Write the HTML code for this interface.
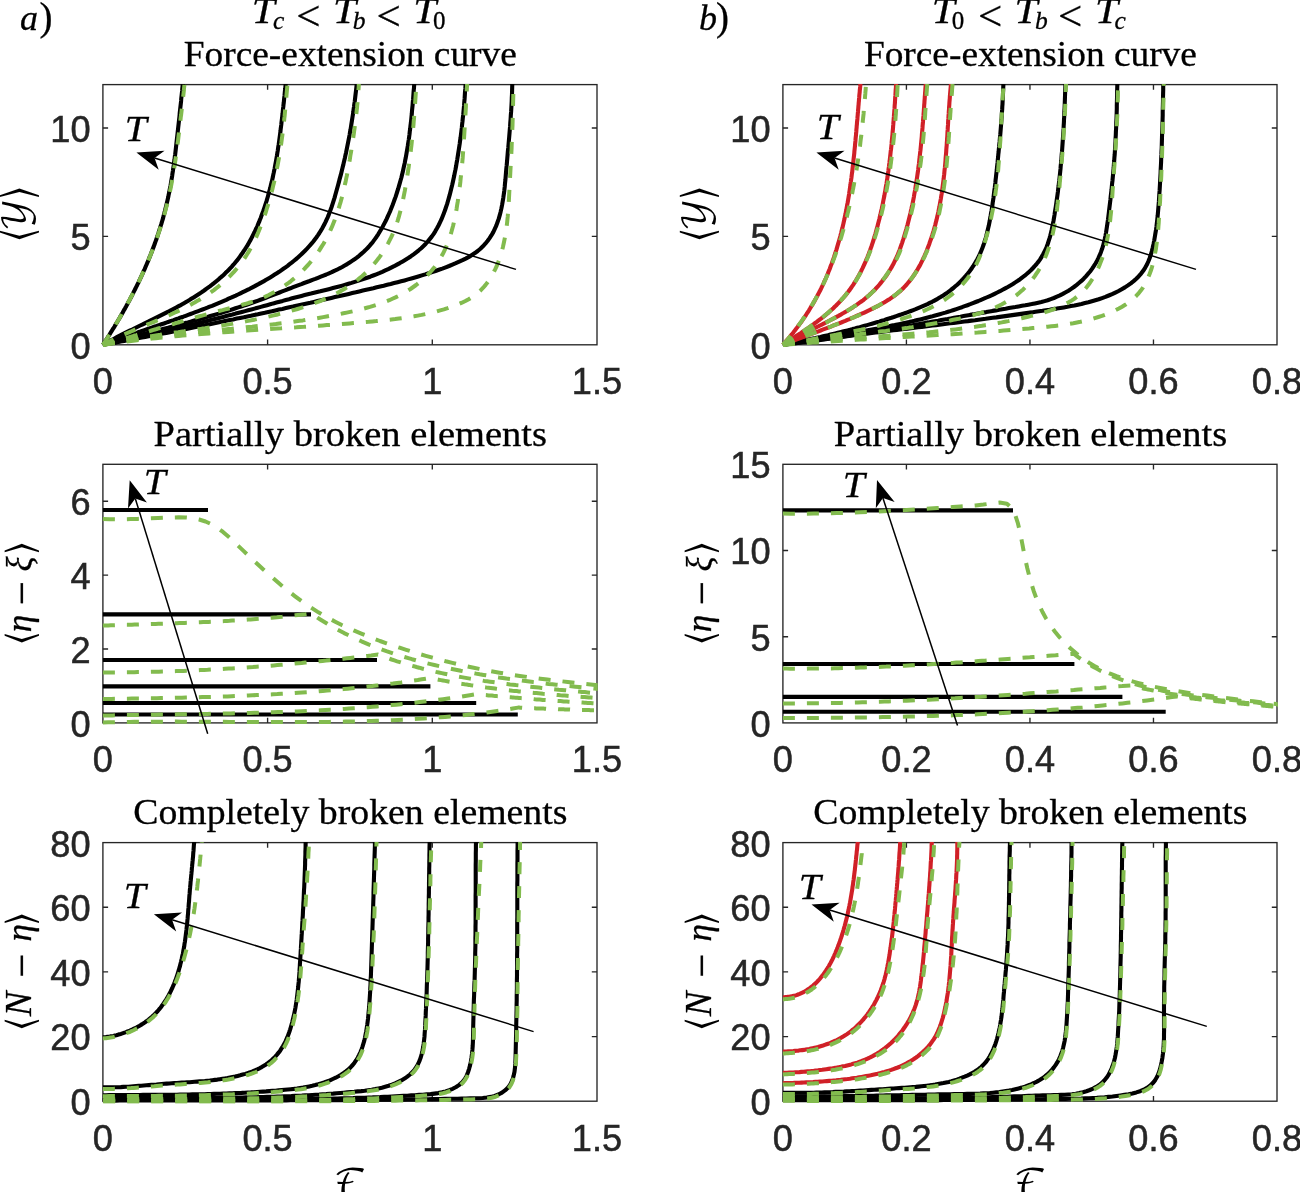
<!DOCTYPE html>
<html lang="en"><head><meta charset="utf-8"><title>Force-extension curves</title>
<style>
html,body{margin:0;padding:0;background:#fff}
body{width:1300px;height:1192px;overflow:hidden}
svg{display:block}
.tk{font-family:"Liberation Sans",Arial,Helvetica,sans-serif;font-size:36.2px;fill:#262626;stroke:#262626;stroke-width:0.5px}
.ser{font-family:"Liberation Serif","Times New Roman",serif;fill:#000;stroke:#000;stroke-width:0.3px}
.it{font-family:"Liberation Serif","Times New Roman",serif;font-style:italic;fill:#000;stroke:#000;stroke-width:0.3px}
.cal{font-family:"DejaVu Math TeX Gyre","DejaVu Serif",serif;fill:#000}
</style></head><body>
<svg width="1300" height="1192" viewBox="0 0 1300 1192">
<defs>
<clipPath id="cp00"><rect x="100.40" y="83.90" width="497.30" height="263.40"/></clipPath>
<clipPath id="cp01"><rect x="780.40" y="83.90" width="497.30" height="263.40"/></clipPath>
<clipPath id="cp10"><rect x="100.40" y="463.60" width="497.30" height="261.80"/></clipPath>
<clipPath id="cp11"><rect x="780.40" y="463.60" width="497.30" height="261.80"/></clipPath>
<clipPath id="cp20"><rect x="100.40" y="841.90" width="497.30" height="261.80"/></clipPath>
<clipPath id="cp21"><rect x="780.40" y="841.90" width="497.30" height="261.80"/></clipPath>
</defs>
<rect width="1300" height="1192" fill="#fff"/>
<rect x="102.9" y="84.6" width="494.10" height="260.20" fill="none" stroke="#262626" stroke-width="1.35"/>
<text class="tk" x="102.90" y="394.10" text-anchor="middle">0</text>
<text class="tk" x="267.60" y="394.10" text-anchor="middle">0.5</text>
<text class="tk" x="432.30" y="394.10" text-anchor="middle">1</text>
<text class="tk" x="597.00" y="394.10" text-anchor="middle">1.5</text>
<text class="tk" x="90.60" y="358.70" text-anchor="end">0</text>
<text class="tk" x="90.60" y="250.28" text-anchor="end">5</text>
<text class="tk" x="90.60" y="141.87" text-anchor="end">10</text>
<path d="M267.60 344.8v-5.2M267.60 84.6v5.2 M432.30 344.8v-5.2M432.30 84.6v5.2 M102.9 236.38h5.2M597.0 236.38h-5.2 M102.9 127.97h5.2M597.0 127.97h-5.2" stroke="#262626" stroke-width="1.35" fill="none"/>
<rect x="782.9" y="84.6" width="494.10" height="260.20" fill="none" stroke="#262626" stroke-width="1.35"/>
<text class="tk" x="782.90" y="394.10" text-anchor="middle">0</text>
<text class="tk" x="906.42" y="394.10" text-anchor="middle">0.2</text>
<text class="tk" x="1029.95" y="394.10" text-anchor="middle">0.4</text>
<text class="tk" x="1153.47" y="394.10" text-anchor="middle">0.6</text>
<text class="tk" x="1277.00" y="394.10" text-anchor="middle">0.8</text>
<text class="tk" x="770.60" y="358.70" text-anchor="end">0</text>
<text class="tk" x="770.60" y="250.28" text-anchor="end">5</text>
<text class="tk" x="770.60" y="141.87" text-anchor="end">10</text>
<path d="M906.42 344.8v-5.2M906.42 84.6v5.2 M1029.95 344.8v-5.2M1029.95 84.6v5.2 M1153.47 344.8v-5.2M1153.47 84.6v5.2 M782.9 236.38h5.2M1277.0 236.38h-5.2 M782.9 127.97h5.2M1277.0 127.97h-5.2" stroke="#262626" stroke-width="1.35" fill="none"/>
<rect x="102.9" y="464.3" width="494.10" height="258.60" fill="none" stroke="#262626" stroke-width="1.35"/>
<text class="tk" x="102.90" y="772.20" text-anchor="middle">0</text>
<text class="tk" x="267.60" y="772.20" text-anchor="middle">0.5</text>
<text class="tk" x="432.30" y="772.20" text-anchor="middle">1</text>
<text class="tk" x="597.00" y="772.20" text-anchor="middle">1.5</text>
<text class="tk" x="90.60" y="736.80" text-anchor="end">0</text>
<text class="tk" x="90.60" y="662.91" text-anchor="end">2</text>
<text class="tk" x="90.60" y="589.03" text-anchor="end">4</text>
<text class="tk" x="90.60" y="515.14" text-anchor="end">6</text>
<path d="M267.60 722.9v-5.2M267.60 464.3v5.2 M432.30 722.9v-5.2M432.30 464.3v5.2 M102.9 649.01h5.2M597.0 649.01h-5.2 M102.9 575.13h5.2M597.0 575.13h-5.2 M102.9 501.24h5.2M597.0 501.24h-5.2" stroke="#262626" stroke-width="1.35" fill="none"/>
<rect x="782.9" y="464.3" width="494.10" height="258.60" fill="none" stroke="#262626" stroke-width="1.35"/>
<text class="tk" x="782.90" y="772.20" text-anchor="middle">0</text>
<text class="tk" x="906.42" y="772.20" text-anchor="middle">0.2</text>
<text class="tk" x="1029.95" y="772.20" text-anchor="middle">0.4</text>
<text class="tk" x="1153.47" y="772.20" text-anchor="middle">0.6</text>
<text class="tk" x="1277.00" y="772.20" text-anchor="middle">0.8</text>
<text class="tk" x="770.60" y="736.80" text-anchor="end">0</text>
<text class="tk" x="770.60" y="650.60" text-anchor="end">5</text>
<text class="tk" x="770.60" y="564.40" text-anchor="end">10</text>
<text class="tk" x="770.60" y="478.20" text-anchor="end">15</text>
<path d="M906.42 722.9v-5.2M906.42 464.3v5.2 M1029.95 722.9v-5.2M1029.95 464.3v5.2 M1153.47 722.9v-5.2M1153.47 464.3v5.2 M782.9 636.70h5.2M1277.0 636.70h-5.2 M782.9 550.50h5.2M1277.0 550.50h-5.2" stroke="#262626" stroke-width="1.35" fill="none"/>
<rect x="102.9" y="842.6" width="494.10" height="258.60" fill="none" stroke="#262626" stroke-width="1.35"/>
<text class="tk" x="102.90" y="1150.50" text-anchor="middle">0</text>
<text class="tk" x="267.60" y="1150.50" text-anchor="middle">0.5</text>
<text class="tk" x="432.30" y="1150.50" text-anchor="middle">1</text>
<text class="tk" x="597.00" y="1150.50" text-anchor="middle">1.5</text>
<text class="tk" x="90.60" y="1115.10" text-anchor="end">0</text>
<text class="tk" x="90.60" y="1050.45" text-anchor="end">20</text>
<text class="tk" x="90.60" y="985.80" text-anchor="end">40</text>
<text class="tk" x="90.60" y="921.15" text-anchor="end">60</text>
<text class="tk" x="90.60" y="856.50" text-anchor="end">80</text>
<path d="M267.60 1101.2v-5.2M267.60 842.6v5.2 M432.30 1101.2v-5.2M432.30 842.6v5.2 M102.9 1036.55h5.2M597.0 1036.55h-5.2 M102.9 971.90h5.2M597.0 971.90h-5.2 M102.9 907.25h5.2M597.0 907.25h-5.2" stroke="#262626" stroke-width="1.35" fill="none"/>
<rect x="782.9" y="842.6" width="494.10" height="258.60" fill="none" stroke="#262626" stroke-width="1.35"/>
<text class="tk" x="782.90" y="1150.50" text-anchor="middle">0</text>
<text class="tk" x="906.42" y="1150.50" text-anchor="middle">0.2</text>
<text class="tk" x="1029.95" y="1150.50" text-anchor="middle">0.4</text>
<text class="tk" x="1153.47" y="1150.50" text-anchor="middle">0.6</text>
<text class="tk" x="1277.00" y="1150.50" text-anchor="middle">0.8</text>
<text class="tk" x="770.60" y="1115.10" text-anchor="end">0</text>
<text class="tk" x="770.60" y="1050.45" text-anchor="end">20</text>
<text class="tk" x="770.60" y="985.80" text-anchor="end">40</text>
<text class="tk" x="770.60" y="921.15" text-anchor="end">60</text>
<text class="tk" x="770.60" y="856.50" text-anchor="end">80</text>
<path d="M906.42 1101.2v-5.2M906.42 842.6v5.2 M1029.95 1101.2v-5.2M1029.95 842.6v5.2 M1153.47 1101.2v-5.2M1153.47 842.6v5.2 M782.9 1036.55h5.2M1277.0 1036.55h-5.2 M782.9 971.90h5.2M1277.0 971.90h-5.2 M782.9 907.25h5.2M1277.0 907.25h-5.2" stroke="#262626" stroke-width="1.35" fill="none"/>
<g clip-path="url(#cp00)" fill="none" stroke-linejoin="round">
<path d="M102.9 344.8L106.4 344.2L110.0 343.5L113.5 342.9L117.0 342.2L120.5 341.6L124.1 340.9L127.6 340.3L131.1 339.6L134.6 338.9L138.2 338.3L141.7 337.6L145.2 336.9L148.7 336.3L152.2 335.6L155.8 334.9L159.3 334.2L162.8 333.5L166.3 332.9L169.9 332.2L173.4 331.5L176.9 330.8L180.4 330.1L184.0 329.4L187.5 328.7L191.0 328.0L194.5 327.3L198.0 326.6L201.6 325.9L205.1 325.2L208.6 324.4L212.1 323.7L215.6 323.0L219.1 322.3L222.7 321.6L226.2 320.8L229.7 320.1L233.2 319.4L236.7 318.6L240.2 317.9L243.8 317.2L247.3 316.4L250.8 315.7L254.3 314.9L257.8 314.2L261.3 313.4L264.8 312.7L268.3 311.9L271.8 311.2L275.3 310.4L278.9 309.6L282.4 308.9L285.9 308.1L289.4 307.3L292.9 306.6L296.4 305.8L299.9 305.0L303.4 304.2L306.9 303.4L310.4 302.7L313.9 301.9L317.4 301.1L320.9 300.3L324.4 299.5L327.9 298.7L331.4 297.9L334.9 297.1L338.4 296.3L341.9 295.5L345.4 294.7L348.8 293.9L352.3 293.1L355.8 292.3L359.3 291.4L362.8 290.6L366.3 289.8L369.8 289.0L373.3 288.2L376.7 287.3L380.2 286.5L383.7 285.7L387.2 284.8L390.7 284.0L394.1 283.1L397.6 282.2L401.1 281.3L404.5 280.4L408.0 279.4L411.4 278.5L414.9 277.5L418.3 276.5L421.8 275.4L425.2 274.4L428.6 273.3L432.1 272.1L435.5 271.0L438.9 269.8L442.3 268.6L445.7 267.3L449.1 266.0L452.4 264.6L455.8 263.2L459.2 261.7L462.5 260.2L465.7 258.6L468.9 256.9L471.9 255.0L474.9 253.1L477.7 251.0L480.4 248.7L482.9 246.3L485.3 243.7L487.5 241.0L489.6 238.1L491.5 235.2L493.3 232.1L494.8 228.9L496.3 225.6L497.5 222.3L498.7 218.9L499.7 215.4L500.6 211.9L501.4 208.4L502.1 204.9L502.7 201.3L503.3 197.8L503.8 194.2L504.3 190.6L504.7 187.0L505.0 183.4L505.4 179.8L505.7 176.1L506.0 172.5L506.3 168.9L506.7 165.3L507.0 161.8L507.3 158.2L507.6 154.6L507.9 151.0L508.3 147.5L508.6 143.9L508.9 140.4L509.2 136.8L509.5 133.3L509.8 129.7L510.1 126.2L510.3 122.6L510.6 119.1L510.8 115.5L511.1 111.9L511.3 108.4L511.5 104.8L511.7 101.2L511.8 97.7L512.0 94.1L512.1 90.5L512.2 86.9L512.3 83.3L512.4 79.6L512.4 76.0" stroke="#000" stroke-width="4.1"/>
<path d="M102.9 344.8L106.1 344.1L109.3 343.5L112.4 342.8L115.6 342.2L118.8 341.5L122.0 340.8L125.2 340.1L128.3 339.4L131.5 338.7L134.7 338.1L137.9 337.4L141.0 336.7L144.2 335.9L147.4 335.2L150.5 334.5L153.7 333.8L156.9 333.1L160.0 332.3L163.2 331.6L166.3 330.9L169.5 330.1L172.7 329.4L175.8 328.6L179.0 327.9L182.1 327.1L185.3 326.4L188.4 325.6L191.6 324.8L194.7 324.1L197.9 323.3L201.1 322.5L204.2 321.7L207.3 320.9L210.5 320.1L213.6 319.3L216.8 318.5L219.9 317.7L223.1 316.9L226.2 316.1L229.4 315.3L232.5 314.5L235.6 313.6L238.8 312.8L241.9 312.0L245.1 311.1L248.2 310.3L251.3 309.5L254.5 308.6L257.6 307.8L260.8 306.9L263.9 306.0L267.0 305.2L270.2 304.3L273.3 303.4L276.4 302.6L279.6 301.7L282.7 300.9L285.8 300.0L289.0 299.2L292.1 298.3L295.2 297.5L298.4 296.7L301.5 295.9L304.6 295.1L307.8 294.3L310.9 293.6L314.1 292.8L317.2 292.0L320.3 291.3L323.5 290.5L326.6 289.7L329.7 288.9L332.9 288.1L336.0 287.3L339.1 286.5L342.3 285.6L345.4 284.7L348.5 283.8L351.6 282.9L354.7 281.9L357.9 280.9L360.9 279.9L364.0 278.9L367.1 277.8L370.2 276.7L373.2 275.5L376.3 274.3L379.3 273.1L382.3 271.8L385.3 270.4L388.2 269.1L391.2 267.6L394.1 266.2L397.0 264.6L399.8 263.1L402.7 261.4L405.5 259.7L408.3 258.0L411.0 256.2L413.6 254.3L416.2 252.3L418.7 250.3L421.2 248.2L423.5 246.0L425.8 243.7L427.9 241.4L429.9 238.9L431.9 236.4L433.7 233.8L435.4 231.1L437.0 228.3L438.5 225.5L439.9 222.6L441.3 219.7L442.5 216.7L443.7 213.7L444.9 210.6L445.9 207.5L447.0 204.4L447.9 201.2L448.8 198.1L449.7 194.9L450.5 191.7L451.3 188.5L452.1 185.3L452.8 182.2L453.5 179.0L454.2 175.8L454.8 172.6L455.5 169.4L456.1 166.2L456.6 163.0L457.2 159.8L457.7 156.6L458.2 153.4L458.7 150.2L459.2 147.0L459.7 143.8L460.1 140.6L460.6 137.4L461.0 134.2L461.4 131.0L461.8 127.8L462.1 124.5L462.5 121.3L462.8 118.1L463.2 114.9L463.5 111.7L463.8 108.4L464.1 105.2L464.3 102.0L464.6 98.7L464.8 95.5L465.0 92.2L465.3 89.0L465.5 85.8L465.7 82.5L465.8 79.3L466.0 76.0" stroke="#000" stroke-width="4.1"/>
<path d="M102.9 344.8L105.7 344.0L108.5 343.3L111.3 342.5L114.2 341.7L117.0 341.0L119.8 340.2L122.6 339.5L125.5 338.7L128.3 338.0L131.1 337.2L133.9 336.5L136.8 335.8L139.6 335.0L142.5 334.3L145.3 333.6L148.1 332.8L151.0 332.1L153.8 331.4L156.6 330.6L159.5 329.9L162.3 329.1L165.1 328.4L168.0 327.7L170.8 326.9L173.7 326.2L176.5 325.4L179.3 324.7L182.2 323.9L185.0 323.1L187.8 322.4L190.6 321.6L193.5 320.8L196.3 320.1L199.1 319.3L201.9 318.5L204.8 317.7L207.6 316.9L210.4 316.0L213.2 315.2L216.0 314.4L218.8 313.6L221.6 312.7L224.4 311.9L227.2 311.0L230.0 310.1L232.8 309.2L235.5 308.3L238.3 307.4L241.1 306.5L243.9 305.6L246.6 304.7L249.4 303.7L252.1 302.8L254.9 301.8L257.6 300.8L260.4 299.8L263.1 298.8L265.8 297.8L268.6 296.7L271.3 295.7L274.0 294.6L276.7 293.6L279.5 292.5L282.2 291.4L284.9 290.4L287.6 289.3L290.4 288.3L293.1 287.2L295.9 286.1L298.6 285.1L301.4 284.1L304.1 283.0L306.9 282.0L309.7 281.0L312.5 279.9L315.3 278.9L318.0 277.8L320.8 276.7L323.5 275.6L326.3 274.5L329.0 273.3L331.7 272.2L334.3 270.9L337.0 269.7L339.6 268.3L342.2 267.0L344.7 265.5L347.2 264.1L349.7 262.5L352.1 260.9L354.5 259.3L356.8 257.6L359.1 255.8L361.3 253.9L363.5 252.0L365.5 250.1L367.6 248.0L369.5 245.9L371.4 243.7L373.2 241.4L374.9 239.1L376.6 236.7L378.2 234.3L379.7 231.8L381.2 229.3L382.7 226.7L384.0 224.1L385.4 221.5L386.7 218.8L387.9 216.1L389.1 213.5L390.3 210.8L391.4 208.0L392.5 205.3L393.5 202.6L394.5 199.8L395.5 197.1L396.4 194.3L397.3 191.5L398.2 188.7L399.0 185.9L399.8 183.1L400.6 180.3L401.4 177.5L402.1 174.6L402.8 171.8L403.4 168.9L404.0 166.1L404.7 163.2L405.2 160.3L405.8 157.5L406.3 154.6L406.8 151.7L407.3 148.8L407.8 145.9L408.2 143.0L408.7 140.1L409.1 137.2L409.5 134.3L409.8 131.3L410.2 128.4L410.5 125.5L410.9 122.6L411.2 119.7L411.5 116.7L411.8 113.8L412.0 110.9L412.3 108.0L412.6 105.1L412.8 102.1L413.1 99.2L413.3 96.3L413.5 93.4L413.7 90.5L414.0 87.6L414.2 84.7L414.4 81.8L414.6 78.9L414.8 76.0" stroke="#000" stroke-width="4.1"/>
<path d="M102.9 344.8L105.3 343.9L107.8 343.0L110.2 342.1L112.7 341.2L115.1 340.3L117.5 339.4L120.0 338.6L122.4 337.7L124.9 336.9L127.3 336.0L129.7 335.1L132.2 334.3L134.6 333.5L137.1 332.6L139.5 331.8L141.9 330.9L144.4 330.1L146.8 329.3L149.3 328.4L151.7 327.6L154.1 326.8L156.6 326.0L159.0 325.1L161.4 324.3L163.9 323.5L166.3 322.6L168.7 321.8L171.2 320.9L173.6 320.1L176.0 319.2L178.4 318.4L180.8 317.5L183.3 316.7L185.7 315.8L188.1 314.9L190.5 314.0L192.9 313.1L195.3 312.2L197.7 311.3L200.1 310.4L202.5 309.5L204.9 308.6L207.3 307.7L209.7 306.7L212.1 305.8L214.4 304.8L216.8 303.8L219.2 302.8L221.6 301.8L223.9 300.8L226.3 299.8L228.6 298.7L231.0 297.7L233.4 296.6L235.7 295.6L238.0 294.5L240.4 293.3L242.7 292.2L245.0 291.1L247.4 289.9L249.7 288.8L252.0 287.6L254.3 286.4L256.6 285.1L258.9 283.9L261.2 282.6L263.5 281.4L265.7 280.0L268.0 278.7L270.2 277.4L272.5 276.0L274.7 274.6L276.9 273.2L279.1 271.8L281.2 270.3L283.4 268.8L285.5 267.3L287.6 265.8L289.6 264.2L291.7 262.6L293.7 261.0L295.7 259.4L297.6 257.7L299.5 256.0L301.4 254.3L303.2 252.5L305.0 250.7L306.8 248.9L308.5 247.0L310.2 245.1L311.9 243.2L313.5 241.2L315.0 239.2L316.5 237.2L318.0 235.1L319.4 233.0L320.7 230.9L322.0 228.7L323.2 226.5L324.4 224.2L325.6 221.9L326.6 219.6L327.7 217.3L328.7 214.9L329.6 212.4L330.5 210.0L331.4 207.5L332.2 205.1L333.0 202.6L333.8 200.1L334.6 197.6L335.3 195.0L336.0 192.5L336.7 190.0L337.4 187.5L338.1 185.0L338.8 182.4L339.4 179.9L340.1 177.4L340.8 174.9L341.4 172.4L342.0 169.9L342.6 167.4L343.3 164.9L343.8 162.4L344.4 159.9L345.0 157.4L345.5 154.9L346.1 152.4L346.6 149.9L347.1 147.4L347.6 144.8L348.1 142.3L348.6 139.8L349.1 137.3L349.6 134.8L350.0 132.2L350.5 129.7L350.9 127.2L351.3 124.6L351.7 122.1L352.1 119.6L352.5 117.0L352.9 114.5L353.3 111.9L353.6 109.4L354.0 106.8L354.3 104.3L354.7 101.7L355.0 99.2L355.3 96.6L355.6 94.0L355.9 91.5L356.2 88.9L356.5 86.3L356.8 83.7L357.1 81.2L357.3 78.6L357.6 76.0" stroke="#000" stroke-width="4.1"/>
<path d="M102.9 344.8L104.8 343.7L106.7 342.6L108.6 341.6L110.5 340.5L112.5 339.5L114.4 338.5L116.3 337.4L118.3 336.4L120.3 335.4L122.2 334.4L124.2 333.4L126.2 332.4L128.2 331.4L130.2 330.4L132.2 329.5L134.2 328.5L136.2 327.5L138.2 326.5L140.2 325.5L142.2 324.6L144.2 323.6L146.2 322.6L148.2 321.7L150.2 320.7L152.3 319.7L154.3 318.7L156.3 317.7L158.3 316.7L160.3 315.7L162.3 314.7L164.3 313.7L166.3 312.7L168.3 311.7L170.3 310.6L172.3 309.6L174.2 308.6L176.2 307.5L178.2 306.4L180.2 305.4L182.1 304.3L184.0 303.2L186.0 302.0L187.9 300.9L189.8 299.8L191.7 298.6L193.6 297.4L195.5 296.2L197.4 295.0L199.3 293.8L201.1 292.6L203.0 291.3L204.8 290.0L206.6 288.7L208.4 287.4L210.2 286.1L212.0 284.7L213.7 283.3L215.5 281.9L217.2 280.5L218.9 279.1L220.5 277.6L222.2 276.2L223.8 274.7L225.4 273.1L227.0 271.6L228.6 270.0L230.1 268.4L231.6 266.8L233.0 265.2L234.5 263.5L235.9 261.8L237.3 260.1L238.6 258.4L239.9 256.6L241.2 254.8L242.5 253.0L243.7 251.2L244.9 249.4L246.1 247.5L247.3 245.6L248.4 243.7L249.5 241.8L250.6 239.9L251.6 237.9L252.6 236.0L253.6 234.0L254.6 232.0L255.5 230.0L256.5 228.0L257.4 226.0L258.2 223.9L259.1 221.9L259.9 219.8L260.8 217.7L261.5 215.6L262.3 213.6L263.1 211.5L263.8 209.4L264.5 207.3L265.2 205.2L265.9 203.0L266.6 200.9L267.2 198.8L267.8 196.7L268.4 194.5L269.0 192.4L269.6 190.2L270.2 188.1L270.7 185.9L271.2 183.8L271.8 181.6L272.3 179.5L272.8 177.3L273.2 175.1L273.7 172.9L274.1 170.8L274.6 168.6L275.0 166.4L275.4 164.2L275.8 162.0L276.2 159.8L276.6 157.6L277.0 155.4L277.3 153.2L277.7 151.0L278.0 148.8L278.3 146.6L278.7 144.4L279.0 142.2L279.3 140.0L279.6 137.8L279.9 135.6L280.2 133.3L280.5 131.1L280.7 128.9L281.0 126.7L281.3 124.5L281.5 122.3L281.8 120.1L282.1 117.9L282.3 115.6L282.6 113.4L282.8 111.2L283.0 109.0L283.3 106.8L283.5 104.6L283.8 102.4L284.0 100.2L284.2 98.0L284.5 95.8L284.7 93.5L284.9 91.3L285.2 89.1L285.4 87.0L285.6 84.8L285.9 82.6L286.1 80.4L286.4 78.2L286.6 76.0" stroke="#000" stroke-width="4.1"/>
<path d="M102.9 344.8L103.9 343.3L104.9 341.8L105.8 340.3L106.8 338.8L107.8 337.3L108.7 335.8L109.7 334.3L110.6 332.8L111.6 331.2L112.5 329.7L113.5 328.2L114.4 326.7L115.3 325.1L116.2 323.6L117.2 322.0L118.1 320.5L119.0 319.0L119.9 317.4L120.8 315.9L121.7 314.3L122.6 312.7L123.4 311.2L124.3 309.6L125.2 308.1L126.1 306.5L126.9 304.9L127.8 303.3L128.6 301.8L129.5 300.2L130.3 298.6L131.1 297.0L132.0 295.4L132.8 293.8L133.6 292.2L134.4 290.6L135.2 289.0L136.0 287.4L136.8 285.8L137.6 284.2L138.4 282.6L139.1 281.0L139.9 279.4L140.7 277.7L141.4 276.1L142.2 274.5L142.9 272.9L143.6 271.2L144.4 269.6L145.1 268.0L145.8 266.3L146.5 264.7L147.2 263.0L147.9 261.4L148.6 259.7L149.2 258.1L149.9 256.4L150.6 254.7L151.2 253.1L151.9 251.4L152.5 249.7L153.1 248.1L153.8 246.4L154.4 244.7L155.0 243.0L155.6 241.4L156.2 239.7L156.8 238.0L157.4 236.3L157.9 234.6L158.5 232.9L159.0 231.2L159.6 229.5L160.1 227.8L160.6 226.1L161.2 224.4L161.7 222.7L162.2 221.0L162.7 219.3L163.2 217.6L163.6 215.8L164.1 214.1L164.6 212.4L165.0 210.7L165.4 208.9L165.9 207.2L166.3 205.5L166.7 203.7L167.1 202.0L167.5 200.2L167.9 198.5L168.3 196.8L168.6 195.0L169.0 193.3L169.4 191.5L169.7 189.7L170.0 188.0L170.4 186.2L170.7 184.5L171.0 182.7L171.3 180.9L171.6 179.2L171.9 177.4L172.2 175.6L172.4 173.9L172.7 172.1L173.0 170.3L173.2 168.6L173.5 166.8L173.8 165.0L174.0 163.2L174.2 161.4L174.5 159.7L174.7 157.9L174.9 156.1L175.2 154.3L175.4 152.5L175.6 150.8L175.8 149.0L176.0 147.2L176.2 145.4L176.4 143.6L176.6 141.8L176.8 140.1L177.0 138.3L177.2 136.5L177.4 134.7L177.6 132.9L177.8 131.1L178.0 129.4L178.2 127.6L178.4 125.8L178.6 124.0L178.8 122.2L179.0 120.5L179.2 118.7L179.4 116.9L179.6 115.1L179.7 113.3L179.9 111.6L180.1 109.8L180.3 108.0L180.5 106.2L180.7 104.4L180.9 102.7L181.1 100.9L181.2 99.1L181.4 97.3L181.6 95.5L181.8 93.8L182.0 92.0L182.2 90.2L182.3 88.4L182.5 86.7L182.7 84.9L182.9 83.1L183.1 81.3L183.2 79.6L183.4 77.8L183.6 76.0" stroke="#000" stroke-width="4.1"/>
<path d="M102.9 344.8L106.7 344.3L110.5 343.7L114.3 343.2L118.1 342.7L121.8 342.2L125.6 341.7L129.4 341.2L133.2 340.8L137.0 340.3L140.8 339.9L144.6 339.4L148.4 339.0L152.2 338.6L156.0 338.2L159.7 337.8L163.5 337.4L167.3 337.0L171.1 336.7L174.9 336.3L178.7 336.0L182.5 335.6L186.3 335.3L190.1 334.9L193.9 334.6L197.7 334.3L201.5 334.0L205.2 333.7L209.0 333.4L212.8 333.1L216.6 332.8L220.4 332.5L224.2 332.2L228.0 331.9L231.8 331.7L235.6 331.4L239.4 331.1L243.2 330.9L247.0 330.6L250.8 330.3L254.6 330.1L258.4 329.8L262.2 329.6L266.0 329.3L269.8 329.1L273.6 328.8L277.4 328.5L281.2 328.3L285.0 328.0L288.8 327.8L292.6 327.5L296.4 327.3L300.1 327.0L303.9 326.8L307.7 326.5L311.5 326.2L315.3 326.0L319.2 325.7L323.0 325.4L326.8 325.1L330.6 324.9L334.4 324.6L338.2 324.3L342.0 324.0L345.8 323.7L349.6 323.4L353.4 323.1L357.2 322.8L361.0 322.4L364.8 322.1L368.6 321.8L372.4 321.4L376.2 321.1L380.0 320.7L383.8 320.3L387.6 319.9L391.4 319.5L395.2 319.1L399.0 318.6L402.8 318.1L406.6 317.5L410.3 316.9L414.1 316.3L417.8 315.6L421.6 314.9L425.3 314.1L429.1 313.3L432.8 312.4L436.5 311.5L440.2 310.4L443.9 309.4L447.6 308.2L451.2 306.9L454.8 305.6L458.4 304.2L461.9 302.7L465.4 301.0L468.7 299.2L471.9 297.2L475.0 295.1L477.9 292.8L480.6 290.4L483.2 287.7L485.6 284.9L487.9 281.9L490.0 278.8L491.9 275.6L493.7 272.3L495.4 268.9L497.0 265.4L498.4 261.8L499.7 258.2L500.8 254.6L501.9 250.9L502.9 247.2L503.7 243.5L504.5 239.7L505.2 236.0L505.8 232.2L506.4 228.4L506.9 224.6L507.3 220.8L507.7 216.9L508.0 213.1L508.3 209.3L508.5 205.4L508.8 201.6L509.0 197.8L509.2 193.9L509.4 190.1L509.6 186.3L509.8 182.4L510.0 178.6L510.2 174.8L510.4 171.0L510.6 167.2L510.8 163.4L511.0 159.7L511.2 155.9L511.4 152.1L511.6 148.3L511.7 144.5L511.9 140.7L512.0 136.9L512.2 133.2L512.3 129.4L512.5 125.6L512.6 121.8L512.7 118.0L512.8 114.2L512.9 110.4L513.0 106.6L513.1 102.8L513.2 99.0L513.3 95.2L513.3 91.4L513.4 87.5L513.4 83.7L513.4 79.9L513.4 76.0" stroke="#82bb4e" stroke-width="4.0" stroke-dasharray="12 12" stroke-dashoffset="0"/>
<path d="M102.9 344.8L106.3 344.2L109.6 343.6L113.0 343.0L116.4 342.4L119.8 341.9L123.2 341.3L126.5 340.8L129.9 340.3L133.3 339.8L136.7 339.3L140.1 338.8L143.5 338.4L146.8 337.9L150.2 337.5L153.6 337.1L157.0 336.6L160.4 336.2L163.8 335.8L167.2 335.4L170.6 335.0L174.0 334.6L177.4 334.3L180.8 333.9L184.2 333.5L187.6 333.2L191.0 332.8L194.4 332.5L197.8 332.1L201.2 331.8L204.6 331.5L208.0 331.1L211.4 330.8L214.8 330.4L218.2 330.1L221.6 329.8L225.0 329.4L228.4 329.1L231.7 328.8L235.1 328.4L238.5 328.1L241.9 327.7L245.3 327.4L248.7 327.0L252.1 326.7L255.5 326.3L258.9 325.9L262.3 325.5L265.7 325.2L269.1 324.8L272.5 324.4L275.9 324.0L279.3 323.5L282.6 323.1L286.0 322.7L289.4 322.2L292.8 321.8L296.2 321.3L299.6 320.8L302.9 320.4L306.3 319.8L309.7 319.3L313.1 318.8L316.4 318.3L319.8 317.7L323.2 317.1L326.6 316.5L329.9 315.9L333.3 315.3L336.7 314.7L340.0 314.0L343.4 313.3L346.7 312.6L350.1 311.9L353.4 311.2L356.8 310.4L360.1 309.6L363.4 308.7L366.7 307.8L370.0 306.9L373.3 305.9L376.5 304.9L379.8 303.8L383.0 302.7L386.1 301.4L389.3 300.2L392.4 298.8L395.5 297.4L398.6 295.9L401.6 294.3L404.6 292.6L407.6 290.8L410.5 289.0L413.3 287.0L416.1 285.0L418.9 282.8L421.5 280.6L424.1 278.3L426.6 276.0L429.0 273.5L431.3 271.0L433.5 268.4L435.5 265.7L437.5 262.9L439.3 260.1L441.0 257.2L442.6 254.3L444.1 251.3L445.6 248.2L446.9 245.1L448.1 242.0L449.2 238.8L450.3 235.6L451.3 232.3L452.2 229.0L453.1 225.7L453.9 222.3L454.6 219.0L455.3 215.6L456.0 212.2L456.6 208.8L457.1 205.3L457.7 201.9L458.2 198.5L458.6 195.1L459.1 191.7L459.5 188.3L460.0 184.9L460.4 181.4L460.7 178.0L461.1 174.7L461.4 171.3L461.8 167.9L462.1 164.5L462.4 161.1L462.7 157.7L462.9 154.3L463.2 150.9L463.4 147.5L463.7 144.2L463.9 140.8L464.1 137.4L464.3 134.0L464.5 130.6L464.7 127.2L464.9 123.8L465.1 120.4L465.3 117.0L465.5 113.6L465.7 110.2L465.9 106.8L466.0 103.4L466.2 100.0L466.4 96.6L466.6 93.2L466.8 89.8L467.0 86.3L467.2 82.9L467.4 79.4L467.6 76.0" stroke="#82bb4e" stroke-width="4.0" stroke-dasharray="12 12" stroke-dashoffset="0"/>
<path d="M102.9 344.8L105.9 344.2L109.0 343.6L112.0 343.0L115.1 342.4L118.1 341.8L121.1 341.2L124.2 340.7L127.2 340.1L130.2 339.6L133.2 339.1L136.2 338.6L139.3 338.1L142.3 337.6L145.3 337.1L148.3 336.6L151.3 336.2L154.3 335.7L157.3 335.2L160.3 334.8L163.3 334.3L166.3 333.9L169.3 333.5L172.2 333.0L175.2 332.6L178.2 332.2L181.2 331.7L184.2 331.3L187.2 330.8L190.2 330.4L193.1 330.0L196.1 329.5L199.1 329.1L202.1 328.6L205.1 328.2L208.0 327.7L211.0 327.3L214.0 326.8L217.0 326.3L219.9 325.9L222.9 325.4L225.9 324.9L228.9 324.4L231.9 323.9L234.8 323.3L237.8 322.8L240.8 322.3L243.8 321.7L246.8 321.1L249.7 320.6L252.7 320.0L255.7 319.4L258.7 318.7L261.7 318.1L264.6 317.4L267.6 316.8L270.6 316.1L273.6 315.4L276.6 314.7L279.6 313.9L282.6 313.2L285.6 312.4L288.6 311.6L291.6 310.7L294.5 309.9L297.5 309.0L300.4 308.1L303.4 307.1L306.3 306.2L309.2 305.2L312.1 304.1L315.0 303.0L317.9 301.9L320.7 300.8L323.5 299.6L326.3 298.4L329.1 297.1L331.8 295.8L334.6 294.4L337.2 293.0L339.9 291.6L342.5 290.1L345.1 288.5L347.6 286.9L350.1 285.3L352.6 283.6L355.0 281.8L357.4 280.0L359.7 278.1L362.0 276.2L364.2 274.2L366.4 272.2L368.5 270.0L370.6 267.9L372.6 265.6L374.6 263.3L376.5 261.0L378.4 258.6L380.2 256.1L381.9 253.6L383.6 251.0L385.2 248.4L386.7 245.8L388.2 243.1L389.6 240.4L391.0 237.7L392.3 234.9L393.5 232.1L394.6 229.3L395.7 226.4L396.7 223.5L397.7 220.6L398.6 217.7L399.4 214.8L400.2 211.8L401.0 208.9L401.7 205.9L402.4 202.9L403.0 199.9L403.6 196.9L404.2 193.9L404.8 190.9L405.3 187.9L405.8 184.9L406.4 181.9L406.8 178.9L407.3 175.9L407.8 172.9L408.2 169.8L408.7 166.8L409.1 163.8L409.5 160.8L409.9 157.8L410.3 154.8L410.7 151.8L411.0 148.7L411.4 145.7L411.7 142.7L412.0 139.7L412.3 136.7L412.6 133.7L412.9 130.6L413.2 127.6L413.5 124.6L413.7 121.6L414.0 118.5L414.2 115.5L414.5 112.5L414.7 109.4L414.9 106.4L415.1 103.4L415.3 100.3L415.5 97.3L415.7 94.3L415.9 91.2L416.1 88.2L416.3 85.1L416.5 82.1L416.6 79.0L416.8 76.0" stroke="#82bb4e" stroke-width="4.0" stroke-dasharray="12 12" stroke-dashoffset="0"/>
<path d="M102.9 344.8L105.5 344.1L108.1 343.3L110.7 342.6L113.3 341.9L115.9 341.1L118.5 340.4L121.1 339.6L123.6 338.9L126.2 338.1L128.7 337.4L131.3 336.6L133.8 335.8L136.4 335.1L138.9 334.3L141.5 333.5L144.0 332.8L146.5 332.0L149.0 331.3L151.6 330.5L154.1 329.7L156.6 329.0L159.1 328.2L161.6 327.5L164.2 326.7L166.7 325.9L169.2 325.2L171.7 324.4L174.2 323.7L176.8 322.9L179.3 322.2L181.8 321.4L184.3 320.7L186.8 320.0L189.4 319.2L191.9 318.5L194.4 317.8L197.0 317.0L199.5 316.3L202.1 315.6L204.6 314.9L207.2 314.2L209.7 313.5L212.3 312.8L214.9 312.1L217.4 311.4L220.0 310.7L222.6 310.1L225.2 309.4L227.8 308.7L230.4 308.1L233.0 307.4L235.6 306.7L238.2 306.0L240.8 305.3L243.3 304.5L245.9 303.8L248.4 303.0L251.0 302.1L253.5 301.3L256.0 300.4L258.5 299.5L261.0 298.5L263.4 297.5L265.9 296.4L268.3 295.3L270.6 294.1L273.0 292.8L275.3 291.6L277.6 290.2L279.8 288.8L282.1 287.4L284.3 285.9L286.4 284.4L288.6 282.9L290.7 281.3L292.7 279.6L294.8 277.9L296.8 276.2L298.7 274.4L300.7 272.6L302.6 270.7L304.4 268.9L306.2 266.9L308.0 265.0L309.7 263.0L311.4 261.0L313.1 258.9L314.7 256.8L316.3 254.7L317.8 252.5L319.3 250.4L320.7 248.1L322.1 245.9L323.5 243.7L324.8 241.4L326.1 239.1L327.3 236.7L328.5 234.4L329.6 232.0L330.7 229.6L331.8 227.2L332.8 224.7L333.8 222.3L334.8 219.8L335.7 217.3L336.6 214.8L337.4 212.3L338.3 209.7L339.1 207.2L339.8 204.6L340.6 202.1L341.3 199.5L342.0 196.9L342.7 194.3L343.3 191.7L343.9 189.1L344.5 186.4L345.1 183.8L345.7 181.2L346.2 178.6L346.8 175.9L347.3 173.3L347.8 170.6L348.3 168.0L348.7 165.4L349.2 162.7L349.7 160.1L350.1 157.5L350.5 154.8L351.0 152.2L351.4 149.6L351.8 147.0L352.2 144.4L352.6 141.8L353.0 139.2L353.4 136.6L353.8 134.0L354.1 131.4L354.5 128.8L354.8 126.2L355.2 123.6L355.5 121.0L355.8 118.4L356.1 115.8L356.4 113.2L356.7 110.6L357.0 108.0L357.2 105.3L357.5 102.7L357.7 100.1L357.9 97.4L358.1 94.8L358.3 92.1L358.5 89.5L358.7 86.8L358.8 84.1L359.0 81.4L359.1 78.7L359.2 76.0" stroke="#82bb4e" stroke-width="4.0" stroke-dasharray="12 12" stroke-dashoffset="0"/>
<path d="M102.9 344.8L104.8 343.8L106.8 342.8L108.7 341.8L110.7 340.8L112.7 339.8L114.6 338.9L116.6 337.9L118.7 337.0L120.7 336.0L122.7 335.1L124.8 334.2L126.8 333.3L128.9 332.4L130.9 331.5L133.0 330.6L135.1 329.7L137.2 328.8L139.3 327.9L141.4 327.1L143.5 326.2L145.6 325.3L147.7 324.4L149.8 323.5L151.9 322.7L154.0 321.8L156.1 320.9L158.2 320.0L160.3 319.1L162.4 318.2L164.5 317.2L166.6 316.3L168.7 315.4L170.8 314.5L172.8 313.5L174.9 312.5L177.0 311.6L179.0 310.6L181.1 309.6L183.1 308.6L185.1 307.6L187.1 306.5L189.1 305.5L191.1 304.4L193.1 303.3L195.1 302.2L197.0 301.1L199.0 300.0L200.9 298.8L202.8 297.6L204.7 296.4L206.6 295.2L208.4 293.9L210.3 292.7L212.1 291.4L213.9 290.1L215.7 288.7L217.4 287.3L219.2 285.9L220.9 284.5L222.6 283.1L224.2 281.6L225.9 280.1L227.5 278.5L229.1 277.0L230.6 275.4L232.2 273.7L233.7 272.1L235.2 270.4L236.6 268.7L238.0 267.0L239.4 265.3L240.8 263.5L242.1 261.7L243.4 259.9L244.7 258.0L245.9 256.2L247.1 254.3L248.3 252.4L249.4 250.5L250.5 248.5L251.6 246.5L252.6 244.5L253.6 242.5L254.6 240.5L255.6 238.5L256.5 236.4L257.4 234.4L258.3 232.3L259.1 230.2L260.0 228.1L260.8 226.0L261.6 223.9L262.4 221.8L263.2 219.7L263.9 217.5L264.6 215.4L265.4 213.3L266.1 211.1L266.7 209.0L267.4 206.8L268.1 204.7L268.7 202.5L269.3 200.4L269.9 198.2L270.5 196.0L271.1 193.9L271.7 191.7L272.3 189.5L272.8 187.3L273.3 185.1L273.9 182.9L274.4 180.7L274.9 178.5L275.3 176.3L275.8 174.1L276.3 171.9L276.7 169.7L277.1 167.5L277.6 165.3L278.0 163.1L278.4 160.9L278.8 158.7L279.2 156.4L279.5 154.2L279.9 152.0L280.2 149.8L280.6 147.5L280.9 145.3L281.3 143.1L281.6 140.8L281.9 138.6L282.2 136.4L282.5 134.1L282.8 131.9L283.0 129.7L283.3 127.4L283.6 125.2L283.8 122.9L284.1 120.7L284.3 118.5L284.6 116.2L284.8 114.0L285.0 111.7L285.2 109.5L285.4 107.3L285.7 105.0L285.9 102.8L286.1 100.6L286.3 98.3L286.4 96.1L286.6 93.8L286.8 91.6L287.0 89.4L287.2 87.1L287.3 84.9L287.5 82.7L287.7 80.5L287.8 78.2L288.0 76.0" stroke="#82bb4e" stroke-width="4.0" stroke-dasharray="12 12" stroke-dashoffset="0"/>
<path d="M102.9 344.8L103.9 343.3L104.9 341.8L105.8 340.3L106.8 338.8L107.8 337.3L108.7 335.8L109.7 334.2L110.6 332.7L111.6 331.2L112.5 329.7L113.4 328.1L114.4 326.6L115.3 325.1L116.2 323.5L117.1 322.0L118.1 320.5L119.0 318.9L119.9 317.4L120.8 315.8L121.7 314.3L122.5 312.7L123.4 311.1L124.3 309.6L125.2 308.0L126.0 306.4L126.9 304.9L127.8 303.3L128.6 301.7L129.5 300.1L130.3 298.5L131.1 296.9L132.0 295.3L132.8 293.8L133.6 292.2L134.4 290.6L135.2 289.0L136.0 287.3L136.8 285.7L137.6 284.1L138.4 282.5L139.2 280.9L139.9 279.3L140.7 277.7L141.5 276.0L142.2 274.4L142.9 272.8L143.7 271.1L144.4 269.5L145.1 267.9L145.9 266.2L146.6 264.6L147.3 262.9L148.0 261.3L148.7 259.6L149.3 258.0L150.0 256.3L150.7 254.7L151.3 253.0L152.0 251.3L152.7 249.7L153.3 248.0L153.9 246.3L154.6 244.6L155.2 243.0L155.8 241.3L156.4 239.6L157.0 237.9L157.6 236.2L158.1 234.5L158.7 232.8L159.3 231.1L159.8 229.4L160.4 227.7L160.9 226.0L161.5 224.3L162.0 222.6L162.5 220.9L163.0 219.2L163.5 217.5L164.0 215.8L164.5 214.0L165.0 212.3L165.4 210.6L165.9 208.9L166.3 207.1L166.8 205.4L167.2 203.7L167.6 201.9L168.0 200.2L168.4 198.5L168.8 196.7L169.2 195.0L169.6 193.2L170.0 191.5L170.3 189.7L170.7 188.0L171.0 186.2L171.4 184.4L171.7 182.7L172.0 180.9L172.4 179.2L172.7 177.4L173.0 175.6L173.3 173.9L173.6 172.1L173.9 170.3L174.1 168.5L174.4 166.8L174.7 165.0L175.0 163.2L175.2 161.4L175.5 159.7L175.7 157.9L176.0 156.1L176.2 154.3L176.5 152.6L176.7 150.8L177.0 149.0L177.2 147.2L177.4 145.4L177.6 143.6L177.9 141.9L178.1 140.1L178.3 138.3L178.5 136.5L178.7 134.7L179.0 132.9L179.2 131.2L179.4 129.4L179.6 127.6L179.8 125.8L180.0 124.0L180.2 122.3L180.4 120.5L180.6 118.7L180.8 116.9L181.1 115.1L181.3 113.3L181.5 111.6L181.7 109.8L181.9 108.0L182.1 106.2L182.3 104.4L182.5 102.7L182.7 100.9L182.9 99.1L183.1 97.3L183.3 95.6L183.5 93.8L183.7 92.0L183.9 90.2L184.0 88.4L184.2 86.7L184.4 84.9L184.6 83.1L184.8 81.3L185.0 79.6L185.2 77.8L185.4 76.0" stroke="#82bb4e" stroke-width="4.0" stroke-dasharray="12 12" stroke-dashoffset="0"/>
</g>
<path d="M516.00 269.40L154.56 158.00" stroke="#000" stroke-width="1.5" fill="none"/><path d="M136.40 152.40L164.54 150.72L154.56 158.00L158.71 169.64Z" fill="#000"/>
<text class="it" transform="translate(124.8 141) scale(1.1 1)" font-size="36">T</text>
<g clip-path="url(#cp10)" fill="none" stroke-linejoin="round">
<path d="M102.9 714.5H517.8" stroke="#000" stroke-width="4.1"/>
<path d="M102.9 703H476.2" stroke="#000" stroke-width="4.1"/>
<path d="M102.9 686.4H430.4" stroke="#000" stroke-width="4.1"/>
<path d="M102.9 660H377" stroke="#000" stroke-width="4.1"/>
<path d="M102.9 614.4H311" stroke="#000" stroke-width="4.1"/>
<path d="M102.9 510H208" stroke="#000" stroke-width="4.1"/>
<path d="M102.9 722.4L108.2 722.3L113.4 722.2L118.7 722.1L123.9 722.0L129.2 721.9L134.4 721.8L139.7 721.8L145.0 721.7L150.2 721.7L155.5 721.7L160.7 721.7L166.0 721.7L171.3 721.6L176.5 721.6L181.8 721.7L187.1 721.7L192.3 721.7L197.6 721.7L202.9 721.7L208.1 721.8L213.4 721.8L218.7 721.8L223.9 721.8L229.2 721.9L234.5 721.9L239.7 721.9L245.0 722.0L250.3 722.0L255.6 722.0L260.8 722.1L266.1 722.1L271.4 722.1L276.6 722.1L281.9 722.1L287.2 722.1L292.4 722.1L297.7 722.1L303.0 722.1L308.2 722.1L313.5 722.0L318.8 722.0L324.0 722.0L329.3 721.9L334.6 721.8L339.8 721.7L345.1 721.6L350.4 721.5L355.6 721.4L360.9 721.3L366.1 721.1L371.4 721.0L376.7 720.8L381.9 720.6L387.2 720.4L392.4 720.2L397.7 719.9L402.9 719.7L408.2 719.4L413.4 719.1L418.7 718.8L423.9 718.5L429.2 718.1L434.4 717.7L439.7 717.3L444.9 716.9L450.2 716.4L455.4 715.9L460.6 715.4L465.9 714.9L471.1 714.3L476.3 713.7L481.5 713.1L486.7 712.4L492.0 711.7L497.2 710.9L502.4 710.2L507.6 709.4L512.8 708.5L518.0 707.6L518.0 707.6L519.1 707.6L520.1 707.7L521.2 707.7L522.3 707.8L523.3 707.8L524.4 707.9L525.4 707.9L526.5 708.0L527.6 708.0L528.6 708.1L529.7 708.1L530.8 708.1L531.8 708.2L532.9 708.2L533.9 708.3L535.0 708.3L536.1 708.4L537.1 708.4L538.2 708.4L539.3 708.5L540.3 708.5L541.4 708.6L542.4 708.6L543.5 708.6L544.6 708.7L545.6 708.7L546.7 708.8L547.8 708.8L548.8 708.8L549.9 708.9L551.0 708.9L552.0 709.0L553.1 709.0L554.1 709.0L555.2 709.1L556.3 709.1L557.3 709.1L558.4 709.2L559.5 709.2L560.5 709.2L561.6 709.3L562.7 709.3L563.7 709.3L564.8 709.4L565.8 709.4L566.9 709.5L568.0 709.5L569.0 709.5L570.1 709.6L571.2 709.6L572.2 709.6L573.3 709.7L574.3 709.7L575.4 709.7L576.5 709.8L577.5 709.8L578.6 709.8L579.7 709.9L580.7 709.9L581.8 709.9L582.9 709.9L583.9 710.0L585.0 710.0L586.0 710.0L587.1 710.1L588.2 710.1L589.2 710.1L590.3 710.2L591.4 710.2L592.4 710.2L593.5 710.3L594.6 710.3L595.6 710.3L596.7 710.3L597.7 710.4L598.8 710.4L599.9 710.4L600.9 710.5L602.0 710.5" stroke="#82bb4e" stroke-width="4.0" stroke-dasharray="12 12" stroke-dashoffset="0"/>
<path d="M102.9 715.6L107.6 715.5L112.4 715.4L117.1 715.3L121.8 715.2L126.5 715.1L131.3 715.1L136.0 715.0L140.7 714.9L145.5 714.8L150.2 714.8L154.9 714.7L159.7 714.6L164.4 714.6L169.2 714.5L173.9 714.4L178.6 714.3L183.4 714.3L188.1 714.2L192.8 714.1L197.6 714.0L202.3 714.0L207.1 713.9L211.8 713.8L216.5 713.7L221.3 713.6L226.0 713.5L230.7 713.4L235.5 713.3L240.2 713.2L245.0 713.1L249.7 713.0L254.4 712.8L259.2 712.7L263.9 712.6L268.6 712.4L273.4 712.3L278.1 712.1L282.8 711.9L287.6 711.7L292.3 711.6L297.0 711.4L301.8 711.2L306.5 711.0L311.2 710.7L315.9 710.5L320.7 710.3L325.4 710.0L330.1 709.7L334.9 709.5L339.6 709.2L344.3 708.9L349.0 708.6L353.7 708.2L358.5 707.9L363.2 707.5L367.9 707.2L372.6 706.8L377.3 706.4L382.1 706.0L386.8 705.6L391.5 705.1L396.2 704.7L400.9 704.2L405.6 703.7L410.3 703.2L415.0 702.7L419.7 702.1L424.4 701.6L429.1 701.0L433.8 700.4L438.5 699.8L443.2 699.2L447.9 698.5L452.6 697.9L457.3 697.2L462.0 696.5L466.6 695.7L471.3 695.0L476.0 694.2L476.0 694.2L477.6 694.3L479.2 694.5L480.8 694.6L482.4 694.8L484.0 694.9L485.6 695.1L487.2 695.2L488.7 695.4L490.3 695.5L491.9 695.6L493.5 695.8L495.1 695.9L496.7 696.1L498.3 696.2L499.9 696.3L501.5 696.5L503.1 696.6L504.7 696.8L506.3 696.9L507.9 697.0L509.5 697.2L511.1 697.3L512.7 697.4L514.2 697.6L515.8 697.7L517.4 697.8L519.0 698.0L520.6 698.1L522.2 698.2L523.8 698.4L525.4 698.5L527.0 698.6L528.6 698.7L530.2 698.9L531.8 699.0L533.4 699.1L535.0 699.3L536.6 699.4L538.2 699.5L539.8 699.6L541.3 699.7L542.9 699.9L544.5 700.0L546.1 700.1L547.7 700.2L549.3 700.3L550.9 700.5L552.5 700.6L554.1 700.7L555.7 700.8L557.3 700.9L558.9 701.0L560.5 701.1L562.1 701.2L563.7 701.4L565.3 701.5L566.9 701.6L568.5 701.7L570.1 701.8L571.7 701.9L573.3 702.0L574.8 702.1L576.4 702.2L578.0 702.3L579.6 702.4L581.2 702.5L582.8 702.6L584.4 702.7L586.0 702.8L587.6 702.9L589.2 703.0L590.8 703.1L592.4 703.2L594.0 703.3L595.6 703.3L597.2 703.4L598.8 703.5L600.4 703.6L602.0 703.7" stroke="#82bb4e" stroke-width="4.0" stroke-dasharray="12 12" stroke-dashoffset="0"/>
<path d="M102.9 699.0L107.0 698.9L111.2 698.9L115.3 698.8L119.5 698.8L123.6 698.7L127.8 698.7L131.9 698.6L136.1 698.5L140.2 698.5L144.4 698.4L148.5 698.3L152.7 698.3L156.9 698.2L161.0 698.1L165.2 698.0L169.3 697.9L173.5 697.9L177.6 697.8L181.8 697.7L185.9 697.6L190.1 697.5L194.2 697.4L198.4 697.3L202.5 697.1L206.7 697.0L210.9 696.9L215.0 696.8L219.2 696.6L223.3 696.5L227.5 696.4L231.6 696.2L235.8 696.0L239.9 695.9L244.1 695.7L248.2 695.5L252.4 695.3L256.5 695.1L260.7 694.9L264.8 694.7L269.0 694.5L273.1 694.3L277.3 694.1L281.4 693.8L285.6 693.6L289.7 693.3L293.9 693.1L298.0 692.8L302.1 692.5L306.3 692.2L310.4 691.9L314.6 691.6L318.7 691.3L322.8 690.9L327.0 690.6L331.1 690.2L335.3 689.9L339.4 689.5L343.5 689.1L347.7 688.7L351.8 688.3L355.9 687.9L360.0 687.4L364.2 687.0L368.3 686.5L372.4 686.1L376.5 685.6L380.7 685.1L384.8 684.6L388.9 684.0L393.0 683.5L397.1 682.9L401.3 682.4L405.4 681.8L409.5 681.2L413.6 680.6L417.7 680.0L421.8 679.3L425.9 678.7L430.0 678.0L430.0 678.0L432.2 678.4L434.3 678.9L436.5 679.3L438.6 679.7L440.8 680.1L442.9 680.5L445.1 680.9L447.2 681.3L449.4 681.7L451.6 682.1L453.7 682.5L455.9 682.8L458.0 683.2L460.2 683.6L462.4 683.9L464.5 684.3L466.7 684.6L468.9 684.9L471.0 685.3L473.2 685.6L475.4 685.9L477.6 686.2L479.7 686.5L481.9 686.9L484.1 687.2L486.2 687.5L488.4 687.7L490.6 688.0L492.8 688.3L494.9 688.6L497.1 688.9L499.3 689.1L501.5 689.4L503.7 689.7L505.8 689.9L508.0 690.2L510.2 690.4L512.4 690.7L514.6 690.9L516.7 691.1L518.9 691.4L521.1 691.6L523.3 691.8L525.5 692.1L527.6 692.3L529.8 692.5L532.0 692.7L534.2 692.9L536.4 693.1L538.6 693.3L540.8 693.5L542.9 693.8L545.1 693.9L547.3 694.1L549.5 694.3L551.7 694.5L553.9 694.7L556.1 694.9L558.2 695.1L560.4 695.3L562.6 695.4L564.8 695.6L567.0 695.8L569.2 696.0L571.4 696.1L573.6 696.3L575.7 696.5L577.9 696.6L580.1 696.8L582.3 697.0L584.5 697.1L586.7 697.3L588.9 697.5L591.1 697.6L593.3 697.8L595.4 697.9L597.6 698.1L599.8 698.2L602.0 698.4" stroke="#82bb4e" stroke-width="4.0" stroke-dasharray="12 12" stroke-dashoffset="0"/>
<path d="M102.9 672.4L106.4 672.4L109.9 672.4L113.4 672.4L116.9 672.4L120.4 672.3L123.9 672.3L127.3 672.3L130.8 672.2L134.3 672.2L137.8 672.1L141.3 672.1L144.8 672.0L148.3 671.9L151.8 671.8L155.3 671.8L158.8 671.7L162.3 671.6L165.7 671.5L169.2 671.4L172.7 671.2L176.2 671.1L179.7 671.0L183.2 670.9L186.7 670.7L190.2 670.6L193.7 670.4L197.2 670.3L200.6 670.1L204.1 669.9L207.6 669.8L211.1 669.6L214.6 669.4L218.1 669.2L221.6 669.0L225.0 668.8L228.5 668.6L232.0 668.4L235.5 668.2L239.0 667.9L242.5 667.7L246.0 667.5L249.4 667.2L252.9 667.0L256.4 666.7L259.9 666.5L263.4 666.2L266.9 666.0L270.3 665.7L273.8 665.4L277.3 665.1L280.8 664.8L284.3 664.5L287.7 664.2L291.2 663.9L294.7 663.6L298.2 663.3L301.6 663.0L305.1 662.6L308.6 662.3L312.1 662.0L315.5 661.6L319.0 661.3L322.5 660.9L326.0 660.6L329.4 660.2L332.9 659.8L336.4 659.5L339.9 659.1L343.3 658.7L346.8 658.3L350.3 657.9L353.7 657.5L357.2 657.1L360.7 656.7L364.1 656.3L367.6 655.9L371.1 655.5L374.5 655.0L378.0 654.6L378.0 654.6L380.7 655.6L383.4 656.6L386.2 657.6L388.9 658.5L391.6 659.5L394.4 660.4L397.1 661.3L399.9 662.1L402.6 663.0L405.4 663.8L408.1 664.7L410.9 665.5L413.7 666.2L416.5 667.0L419.2 667.7L422.0 668.5L424.8 669.2L427.6 669.9L430.4 670.6L433.2 671.2L436.0 671.9L438.8 672.5L441.7 673.1L444.5 673.7L447.3 674.3L450.1 674.9L452.9 675.5L455.8 676.0L458.6 676.6L461.5 677.1L464.3 677.6L467.1 678.1L470.0 678.6L472.8 679.1L475.7 679.5L478.5 680.0L481.4 680.4L484.2 680.9L487.1 681.3L490.0 681.7L492.8 682.1L495.7 682.5L498.6 682.9L501.4 683.3L504.3 683.7L507.2 684.0L510.0 684.4L512.9 684.7L515.8 685.1L518.7 685.4L521.5 685.8L524.4 686.1L527.3 686.4L530.2 686.7L533.0 687.0L535.9 687.3L538.8 687.6L541.7 687.9L544.6 688.2L547.4 688.5L550.3 688.8L553.2 689.1L556.1 689.4L558.9 689.7L561.8 689.9L564.7 690.2L567.6 690.5L570.5 690.8L573.3 691.0L576.2 691.3L579.1 691.6L581.9 691.9L584.8 692.1L587.7 692.4L590.5 692.7L593.4 693.0L596.3 693.2L599.1 693.5L602.0 693.8" stroke="#82bb4e" stroke-width="4.0" stroke-dasharray="12 12" stroke-dashoffset="0"/>
<path d="M102.9 625.6L105.5 625.5L108.2 625.4L110.8 625.3L113.4 625.3L116.1 625.2L118.7 625.1L121.4 625.0L124.0 624.9L126.6 624.8L129.3 624.8L131.9 624.7L134.5 624.6L137.2 624.5L139.8 624.4L142.5 624.3L145.1 624.3L147.7 624.2L150.4 624.1L153.0 624.0L155.7 623.9L158.3 623.8L160.9 623.8L163.6 623.7L166.2 623.6L168.9 623.5L171.5 623.4L174.1 623.3L176.8 623.2L179.4 623.1L182.1 623.0L184.7 622.9L187.3 622.8L190.0 622.7L192.6 622.6L195.3 622.5L197.9 622.4L200.5 622.3L203.2 622.1L205.8 622.0L208.4 621.9L211.1 621.8L213.7 621.6L216.4 621.5L219.0 621.4L221.6 621.2L224.3 621.1L226.9 620.9L229.5 620.8L232.2 620.6L234.8 620.5L237.4 620.3L240.1 620.1L242.7 619.9L245.3 619.8L248.0 619.6L250.6 619.4L253.2 619.2L255.9 619.0L258.5 618.8L261.1 618.6L263.8 618.4L266.4 618.1L269.0 617.9L271.6 617.7L274.3 617.4L276.9 617.2L279.5 616.9L282.2 616.7L284.8 616.4L287.4 616.2L290.0 615.9L292.7 615.6L295.3 615.3L297.9 615.0L300.5 614.7L303.1 614.4L305.8 614.1L308.4 613.7L311.0 613.4L311.0 613.4L314.2 615.6L317.4 617.7L320.7 619.8L324.0 621.8L327.3 623.8L330.6 625.8L334.0 627.7L337.3 629.5L340.7 631.3L344.1 633.1L347.6 634.8L351.0 636.5L354.5 638.1L358.0 639.7L361.5 641.3L365.0 642.8L368.5 644.3L372.1 645.7L375.6 647.1L379.2 648.5L382.8 649.8L386.4 651.1L390.0 652.3L393.7 653.6L397.3 654.7L401.0 655.9L404.6 657.0L408.3 658.1L412.0 659.2L415.7 660.2L419.4 661.3L423.1 662.2L426.9 663.2L430.6 664.1L434.4 665.0L438.1 665.9L441.9 666.8L445.6 667.6L449.4 668.4L453.2 669.2L457.0 670.0L460.8 670.8L464.6 671.5L468.3 672.2L472.1 672.9L475.9 673.6L479.7 674.3L483.6 674.9L487.4 675.5L491.2 676.2L495.0 676.8L498.8 677.4L502.6 677.9L506.4 678.5L510.3 679.0L514.1 679.6L517.9 680.1L521.7 680.6L525.6 681.1L529.4 681.6L533.2 682.1L537.0 682.5L540.9 683.0L544.7 683.4L548.5 683.9L552.4 684.3L556.2 684.7L560.0 685.1L563.8 685.5L567.7 685.9L571.5 686.3L575.3 686.7L579.1 687.1L582.9 687.5L586.8 687.8L590.6 688.2L594.4 688.6L598.2 688.9L602.0 689.3" stroke="#82bb4e" stroke-width="4.0" stroke-dasharray="12 12" stroke-dashoffset="0"/>
<path d="M102.9 519.0L109.8 519.2L116.7 519.3L123.6 519.3L130.4 519.1L137.3 518.9L144.1 518.6L151.0 518.3L157.9 518.0L164.8 517.7L171.7 517.5L178.7 517.3L185.6 517.5L192.5 518.1L199.1 519.5L205.5 521.5L211.7 524.3L217.5 527.9L223.0 531.9L228.3 536.4L233.4 541.2L238.5 546.1L243.5 550.9L248.5 555.7L253.5 560.4L258.5 565.0L263.6 569.7L268.7 574.3L273.8 578.8L279.0 583.3L284.3 587.8L289.7 592.1L295.1 596.3L300.6 600.4L306.2 604.4L311.9 608.2L317.7 611.9L323.6 615.4L329.6 618.7L335.7 621.9L341.8 625.0L348.0 627.9L354.3 630.7L360.7 633.4L367.1 636.0L373.5 638.5L380.0 641.0L386.5 643.3L393.0 645.5L399.6 647.7L406.2 649.8L412.7 651.9L419.3 653.9L425.9 655.8L432.5 657.7L439.1 659.5L445.8 661.3L452.4 662.9L459.1 664.5L465.8 666.1L472.5 667.5L479.2 668.9L486.0 670.3L492.7 671.5L499.5 672.7L506.3 673.8L513.1 674.9L519.9 675.9L526.8 676.9L533.6 677.8L540.4 678.7L547.3 679.6L554.1 680.4L561.0 681.2L567.8 682.0L574.7 682.7L581.5 683.5L588.4 684.2L595.2 684.9L602.0 685.6" stroke="#82bb4e" stroke-width="4.0" stroke-dasharray="12 12" stroke-dashoffset="0"/>
</g>
<path d="M207.70 733.70L135.29 498.46" stroke="#000" stroke-width="1.5" fill="none"/><path d="M129.70 480.30L146.93 502.62L135.29 498.46L128.00 508.44Z" fill="#000"/>
<text class="it" transform="translate(143.8 494) scale(1.1 1)" font-size="36">T</text>
<g clip-path="url(#cp20)" fill="none" stroke-linejoin="round">
<path d="M102.9 1100.6L107.1 1100.6L111.3 1100.6L115.5 1100.6L119.7 1100.5L123.9 1100.5L128.1 1100.5L132.2 1100.5L136.4 1100.5L140.6 1100.5L144.8 1100.5L149.0 1100.5L153.2 1100.5L157.3 1100.5L161.5 1100.5L165.7 1100.5L169.9 1100.5L174.0 1100.5L178.2 1100.5L182.4 1100.5L186.5 1100.5L190.7 1100.5L194.9 1100.5L199.0 1100.5L203.2 1100.4L207.3 1100.4L211.5 1100.4L215.7 1100.4L219.8 1100.4L224.0 1100.4L228.1 1100.4L232.3 1100.4L236.5 1100.4L240.6 1100.4L244.8 1100.4L248.9 1100.4L253.1 1100.4L257.2 1100.4L261.4 1100.4L265.5 1100.4L269.7 1100.4L273.9 1100.4L278.0 1100.4L282.2 1100.4L286.3 1100.4L290.5 1100.3L294.6 1100.3L298.8 1100.3L302.9 1100.3L307.1 1100.3L311.3 1100.3L315.4 1100.3L319.6 1100.2L323.7 1100.2L327.9 1100.2L332.0 1100.2L336.2 1100.1L340.4 1100.1L344.5 1100.1L348.7 1100.1L352.9 1100.0L357.0 1100.0L361.2 1100.0L365.4 1099.9L369.5 1099.9L373.7 1099.9L377.9 1099.8L382.0 1099.8L386.2 1099.7L390.4 1099.7L394.6 1099.7L398.8 1099.6L402.9 1099.6L407.1 1099.5L411.3 1099.4L415.5 1099.4L419.7 1099.3L423.9 1099.3L428.1 1099.2L432.3 1099.1L436.4 1099.1L440.6 1099.0L444.8 1098.9L449.0 1098.9L453.3 1098.8L457.5 1098.7L461.7 1098.6L465.9 1098.5L470.1 1098.4L474.3 1098.3L478.5 1098.2L482.7 1098.0L486.8 1097.5L490.8 1096.9L494.7 1095.9L498.4 1094.5L502.0 1092.6L505.3 1090.2L508.3 1087.3L510.6 1083.8L512.4 1080.0L513.6 1075.9L514.5 1071.8L515.0 1067.6L515.3 1063.4L515.5 1059.2L515.6 1055.0L515.7 1050.8L515.8 1046.6L515.9 1042.4L516.0 1038.3L516.1 1034.1L516.2 1029.9L516.2 1025.8L516.3 1021.6L516.4 1017.4L516.5 1013.3L516.6 1009.1L516.6 1004.9L516.7 1000.8L516.7 996.6L516.8 992.5L516.9 988.3L516.9 984.1L516.9 980.0L517.0 975.8L517.0 971.6L517.1 967.5L517.1 963.3L517.1 959.1L517.1 955.0L517.2 950.8L517.2 946.6L517.2 942.4L517.2 938.3L517.2 934.1L517.2 929.9L517.2 925.8L517.2 921.6L517.3 917.4L517.3 913.2L517.3 909.1L517.3 904.9L517.3 900.7L517.3 896.5L517.3 892.4L517.3 888.2L517.3 884.0L517.4 879.8L517.4 875.7L517.4 871.5L517.4 867.3L517.4 863.2L517.5 859.0L517.5 854.8L517.5 850.7L517.6 846.5L517.6 842.3L517.7 838.2L517.7 834.0" stroke="#000" stroke-width="4.1"/>
<path d="M102.9 1099.8L106.8 1099.8L110.6 1099.7L114.5 1099.7L118.4 1099.6L122.2 1099.6L126.1 1099.6L130.0 1099.6L133.8 1099.5L137.7 1099.5L141.6 1099.5L145.4 1099.5L149.3 1099.5L153.1 1099.5L157.0 1099.5L160.8 1099.5L164.7 1099.5L168.5 1099.5L172.4 1099.5L176.3 1099.5L180.1 1099.5L183.9 1099.5L187.8 1099.5L191.6 1099.5L195.5 1099.5L199.3 1099.5L203.2 1099.5L207.0 1099.5L210.9 1099.5L214.7 1099.5L218.6 1099.5L222.4 1099.5L226.2 1099.5L230.1 1099.5L233.9 1099.5L237.8 1099.5L241.6 1099.5L245.5 1099.5L249.3 1099.5L253.1 1099.5L257.0 1099.5L260.8 1099.5L264.7 1099.5L268.5 1099.5L272.3 1099.5L276.2 1099.4L280.0 1099.4L283.9 1099.4L287.7 1099.3L291.6 1099.3L295.4 1099.3L299.3 1099.2L303.1 1099.2L306.9 1099.1L310.8 1099.1L314.6 1099.0L318.5 1098.9L322.3 1098.9L326.2 1098.8L330.0 1098.7L333.9 1098.6L337.7 1098.5L341.6 1098.4L345.5 1098.3L349.3 1098.2L353.2 1098.1L357.0 1097.9L360.9 1097.8L364.7 1097.7L368.6 1097.5L372.5 1097.4L376.3 1097.2L380.2 1097.1L384.1 1096.9L387.9 1096.7L391.8 1096.5L395.7 1096.3L399.6 1096.1L403.4 1095.9L407.3 1095.7L411.2 1095.4L415.1 1095.2L419.0 1094.9L422.8 1094.7L426.7 1094.4L430.6 1094.1L434.4 1093.6L438.2 1093.1L442.0 1092.3L445.6 1091.4L449.2 1090.2L452.7 1088.8L456.1 1087.0L459.3 1084.9L462.2 1082.3L464.6 1079.4L466.5 1076.1L467.9 1072.5L469.1 1068.8L470.1 1065.1L470.9 1061.3L471.5 1057.5L472.0 1053.7L472.4 1049.9L472.7 1046.0L472.9 1042.1L473.0 1038.2L473.1 1034.4L473.2 1030.5L473.2 1026.6L473.3 1022.7L473.4 1018.9L473.5 1015.0L473.6 1011.1L473.7 1007.3L473.8 1003.4L473.9 999.6L474.1 995.7L474.2 991.9L474.3 988.1L474.4 984.2L474.6 980.4L474.7 976.5L474.8 972.7L474.9 968.9L475.0 965.0L475.1 961.2L475.2 957.3L475.2 953.5L475.3 949.6L475.4 945.8L475.4 941.9L475.4 938.1L475.5 934.2L475.5 930.4L475.5 926.5L475.6 922.7L475.6 918.8L475.6 914.9L475.6 911.1L475.6 907.2L475.6 903.4L475.6 899.5L475.6 895.6L475.7 891.8L475.7 887.9L475.7 884.1L475.7 880.2L475.7 876.4L475.7 872.5L475.7 868.6L475.7 864.8L475.8 860.9L475.8 857.1L475.8 853.2L475.9 849.4L475.9 845.5L476.0 841.7L476.0 837.8L476.1 834.0" stroke="#000" stroke-width="4.1"/>
<path d="M102.9 1098.4L106.4 1098.4L109.9 1098.3L113.4 1098.3L116.9 1098.2L120.4 1098.2L123.9 1098.2L127.4 1098.2L130.9 1098.1L134.4 1098.1L137.9 1098.1L141.4 1098.1L144.9 1098.1L148.4 1098.0L151.8 1098.0L155.3 1098.0L158.8 1098.0L162.3 1098.0L165.8 1098.0L169.3 1098.0L172.8 1098.0L176.3 1098.0L179.8 1098.0L183.2 1098.0L186.7 1098.0L190.2 1097.9L193.7 1097.9L197.2 1097.9L200.7 1097.9L204.2 1097.9L207.6 1097.9L211.1 1097.8L214.6 1097.8L218.1 1097.8L221.6 1097.7L225.1 1097.7L228.6 1097.7L232.0 1097.6L235.5 1097.6L239.0 1097.5L242.5 1097.5L246.0 1097.4L249.5 1097.3L252.9 1097.3L256.4 1097.2L259.9 1097.1L263.4 1097.0L266.9 1096.9L270.4 1096.8L273.9 1096.7L277.3 1096.6L280.8 1096.5L284.3 1096.3L287.8 1096.2L291.3 1096.1L294.8 1095.9L298.3 1095.7L301.8 1095.6L305.2 1095.4L308.7 1095.2L312.2 1095.0L315.7 1094.8L319.2 1094.6L322.7 1094.3L326.2 1094.1L329.7 1093.8L333.2 1093.6L336.7 1093.3L340.2 1093.0L343.7 1092.7L347.2 1092.4L350.7 1092.1L354.2 1091.8L357.7 1091.4L361.2 1091.1L364.7 1090.7L368.1 1090.2L371.6 1089.7L375.1 1089.1L378.5 1088.4L381.9 1087.7L385.2 1086.8L388.6 1085.8L391.9 1084.7L395.1 1083.4L398.3 1081.9L401.4 1080.4L404.5 1078.6L407.3 1076.6L410.0 1074.5L412.5 1072.1L414.7 1069.5L416.6 1066.7L418.2 1063.8L419.6 1060.6L420.8 1057.3L421.7 1054.0L422.5 1050.5L423.2 1047.0L423.7 1043.5L424.1 1039.9L424.5 1036.4L424.7 1032.9L425.0 1029.4L425.2 1025.9L425.3 1022.4L425.5 1018.9L425.7 1015.4L425.8 1011.9L426.0 1008.4L426.1 1004.9L426.3 1001.4L426.4 997.9L426.6 994.5L426.7 991.0L426.8 987.5L426.9 984.0L427.1 980.6L427.2 977.1L427.3 973.6L427.4 970.1L427.5 966.7L427.6 963.2L427.7 959.7L427.8 956.2L427.8 952.7L427.9 949.2L428.0 945.8L428.1 942.3L428.1 938.8L428.2 935.3L428.3 931.8L428.3 928.3L428.4 924.8L428.5 921.3L428.5 917.8L428.6 914.3L428.6 910.8L428.7 907.3L428.7 903.8L428.8 900.3L428.8 896.8L428.9 893.3L428.9 889.8L429.0 886.3L429.0 882.8L429.1 879.3L429.1 875.8L429.2 872.3L429.2 868.9L429.3 865.4L429.3 861.9L429.4 858.4L429.4 854.9L429.5 851.4L429.5 847.9L429.6 844.4L429.7 841.0L429.7 837.5L429.8 834.0" stroke="#000" stroke-width="4.1"/>
<path d="M102.9 1095.2L106.0 1095.2L109.1 1095.1L112.2 1095.1L115.3 1095.1L118.3 1095.1L121.4 1095.1L124.5 1095.0L127.6 1095.0L130.7 1095.0L133.8 1095.0L136.9 1095.0L139.9 1095.0L143.0 1094.9L146.1 1094.9L149.2 1094.9L152.3 1094.9L155.4 1094.9L158.4 1094.8L161.5 1094.8L164.6 1094.8L167.7 1094.8L170.8 1094.7L173.8 1094.7L176.9 1094.7L180.0 1094.6L183.1 1094.6L186.2 1094.5L189.2 1094.5L192.3 1094.4L195.4 1094.4L198.5 1094.3L201.5 1094.3L204.6 1094.2L207.7 1094.1L210.8 1094.0L213.9 1093.9L216.9 1093.8L220.0 1093.7L223.1 1093.6L226.2 1093.5L229.3 1093.4L232.3 1093.3L235.4 1093.1L238.5 1093.0L241.6 1092.9L244.6 1092.7L247.7 1092.5L250.8 1092.4L253.9 1092.2L257.0 1092.0L260.0 1091.8L263.1 1091.6L266.2 1091.4L269.3 1091.1L272.4 1090.9L275.5 1090.7L278.5 1090.4L281.6 1090.1L284.7 1089.8L287.8 1089.5L290.9 1089.2L293.9 1088.9L297.0 1088.5L300.1 1088.0L303.1 1087.6L306.1 1087.0L309.2 1086.4L312.2 1085.8L315.2 1085.1L318.2 1084.3L321.1 1083.4L324.1 1082.5L327.0 1081.4L329.9 1080.3L332.8 1079.0L335.7 1077.7L338.4 1076.3L341.1 1074.7L343.7 1073.0L346.2 1071.2L348.5 1069.3L350.7 1067.2L352.7 1065.0L354.5 1062.7L356.2 1060.2L357.7 1057.7L359.1 1055.0L360.4 1052.3L361.5 1049.5L362.5 1046.6L363.4 1043.6L364.3 1040.6L365.0 1037.6L365.6 1034.5L366.2 1031.4L366.7 1028.2L367.2 1025.1L367.6 1021.9L368.0 1018.8L368.3 1015.6L368.6 1012.5L368.9 1009.4L369.2 1006.3L369.4 1003.2L369.6 1000.1L369.8 997.1L370.0 994.0L370.2 990.9L370.3 987.9L370.5 984.8L370.6 981.8L370.7 978.8L370.9 975.7L371.0 972.7L371.1 969.6L371.2 966.6L371.3 963.5L371.4 960.5L371.5 957.4L371.6 954.3L371.7 951.3L371.8 948.2L371.9 945.1L372.0 942.0L372.1 939.0L372.2 935.9L372.3 932.8L372.4 929.7L372.5 926.6L372.6 923.5L372.7 920.4L372.8 917.3L372.9 914.2L373.0 911.1L373.1 908.0L373.2 904.9L373.3 901.8L373.4 898.7L373.5 895.6L373.5 892.5L373.6 889.4L373.7 886.3L373.8 883.2L373.9 880.1L374.0 877.0L374.1 873.9L374.2 870.8L374.3 867.8L374.3 864.7L374.4 861.6L374.5 858.5L374.6 855.4L374.7 852.4L374.8 849.3L374.9 846.2L374.9 843.2L375.0 840.1L375.1 837.1L375.2 834.0" stroke="#000" stroke-width="4.1"/>
<path d="M102.9 1087.3L105.4 1087.3L108.0 1087.4L110.5 1087.3L113.1 1087.3L115.7 1087.2L118.2 1087.2L120.8 1087.1L123.3 1086.9L125.9 1086.8L128.4 1086.7L131.0 1086.5L133.5 1086.3L136.1 1086.1L138.6 1085.9L141.2 1085.7L143.7 1085.5L146.3 1085.3L148.8 1085.1L151.4 1084.9L153.9 1084.7L156.5 1084.5L159.0 1084.2L161.6 1084.0L164.1 1083.8L166.7 1083.6L169.2 1083.5L171.8 1083.3L174.3 1083.1L176.9 1083.0L179.4 1082.8L181.9 1082.6L184.5 1082.5L187.0 1082.3L189.6 1082.2L192.1 1082.0L194.6 1081.8L197.2 1081.6L199.7 1081.4L202.2 1081.2L204.8 1081.0L207.3 1080.7L209.8 1080.5L212.4 1080.2L214.9 1079.9L217.4 1079.6L219.9 1079.2L222.5 1078.8L225.0 1078.4L227.5 1078.0L230.1 1077.5L232.6 1077.0L235.1 1076.5L237.6 1075.9L240.1 1075.3L242.7 1074.6L245.2 1073.9L247.6 1073.1L250.1 1072.3L252.5 1071.4L254.9 1070.4L257.2 1069.4L259.5 1068.3L261.7 1067.1L263.9 1065.8L266.0 1064.5L268.1 1063.0L270.1 1061.5L272.0 1059.8L273.8 1058.1L275.5 1056.3L277.2 1054.4L278.8 1052.4L280.3 1050.4L281.7 1048.2L283.0 1046.1L284.3 1043.8L285.4 1041.6L286.5 1039.2L287.5 1036.9L288.4 1034.5L289.3 1032.0L290.1 1029.6L290.8 1027.2L291.5 1024.7L292.2 1022.3L292.8 1019.8L293.4 1017.3L294.0 1014.8L294.5 1012.3L295.0 1009.8L295.5 1007.3L295.9 1004.8L296.3 1002.3L296.7 999.8L297.0 997.2L297.3 994.7L297.6 992.2L297.9 989.6L298.2 987.1L298.4 984.5L298.7 982.0L298.9 979.4L299.1 976.9L299.3 974.3L299.5 971.7L299.6 969.2L299.8 966.6L299.9 964.1L300.1 961.5L300.3 958.9L300.4 956.4L300.6 953.8L300.7 951.3L300.9 948.7L301.0 946.2L301.2 943.6L301.3 941.1L301.5 938.5L301.6 936.0L301.8 933.4L301.9 930.9L302.1 928.3L302.2 925.8L302.3 923.2L302.5 920.7L302.6 918.2L302.8 915.6L302.9 913.1L303.0 910.5L303.2 908.0L303.3 905.4L303.4 902.9L303.6 900.3L303.7 897.8L303.8 895.3L303.9 892.7L304.0 890.2L304.2 887.6L304.3 885.1L304.4 882.5L304.5 880.0L304.6 877.4L304.7 874.9L304.8 872.3L304.9 869.8L305.0 867.2L305.1 864.7L305.1 862.1L305.2 859.6L305.3 857.0L305.4 854.5L305.4 851.9L305.5 849.4L305.6 846.8L305.6 844.3L305.7 841.7L305.7 839.1L305.8 836.6L305.8 834.0" stroke="#000" stroke-width="4.1"/>
<path d="M102.9 1037.3L104.4 1037.2L105.9 1037.1L107.4 1036.9L108.9 1036.7L110.4 1036.4L111.9 1036.2L113.4 1035.9L114.9 1035.5L116.4 1035.2L117.9 1034.8L119.4 1034.3L120.9 1033.9L122.4 1033.4L123.8 1032.9L125.3 1032.4L126.8 1031.8L128.2 1031.3L129.7 1030.7L131.2 1030.0L132.6 1029.4L134.0 1028.7L135.4 1028.0L136.8 1027.3L138.2 1026.5L139.6 1025.7L140.9 1024.9L142.3 1024.1L143.6 1023.3L144.9 1022.4L146.1 1021.5L147.4 1020.5L148.6 1019.6L149.8 1018.6L151.0 1017.6L152.2 1016.6L153.3 1015.6L154.4 1014.5L155.5 1013.4L156.5 1012.3L157.6 1011.2L158.6 1010.0L159.5 1008.9L160.5 1007.7L161.4 1006.5L162.3 1005.2L163.2 1004.0L164.1 1002.7L164.9 1001.5L165.8 1000.2L166.6 998.9L167.4 997.6L168.1 996.2L168.9 994.9L169.6 993.5L170.3 992.1L171.0 990.8L171.6 989.4L172.3 988.0L172.9 986.5L173.5 985.1L174.1 983.7L174.7 982.2L175.2 980.8L175.8 979.3L176.3 977.9L176.8 976.4L177.3 974.9L177.8 973.5L178.2 972.0L178.7 970.5L179.1 969.0L179.5 967.5L180.0 966.0L180.3 964.5L180.7 963.0L181.1 961.5L181.4 960.0L181.8 958.5L182.1 957.0L182.4 955.5L182.8 953.9L183.1 952.4L183.3 950.9L183.6 949.4L183.9 947.9L184.2 946.4L184.4 944.8L184.6 943.3L184.9 941.8L185.1 940.3L185.3 938.7L185.5 937.2L185.7 935.7L185.9 934.1L186.1 932.6L186.3 931.1L186.5 929.5L186.6 928.0L186.8 926.4L187.0 924.9L187.1 923.4L187.3 921.8L187.4 920.3L187.6 918.7L187.7 917.2L187.8 915.7L188.0 914.1L188.1 912.6L188.2 911.0L188.3 909.5L188.5 907.9L188.6 906.4L188.7 904.9L188.8 903.3L189.0 901.8L189.1 900.2L189.2 898.7L189.3 897.1L189.4 895.6L189.6 894.0L189.7 892.5L189.8 891.0L189.9 889.4L190.1 887.9L190.2 886.3L190.4 884.8L190.5 883.3L190.6 881.7L190.8 880.2L190.9 878.7L191.1 877.1L191.2 875.6L191.4 874.0L191.5 872.5L191.7 871.0L191.8 869.4L191.9 867.9L192.1 866.4L192.2 864.8L192.4 863.3L192.5 861.8L192.7 860.2L192.8 858.7L193.0 857.1L193.1 855.6L193.2 854.1L193.3 852.5L193.5 851.0L193.6 849.4L193.7 847.9L193.8 846.4L193.9 844.8L194.1 843.3L194.2 841.7L194.3 840.2L194.4 838.6L194.4 837.1L194.5 835.5L194.6 834.0" stroke="#000" stroke-width="4.1"/>
<path d="M103.2 1101.6L107.4 1101.6L111.6 1101.6L115.8 1101.6L120.0 1101.5L124.2 1101.5L128.4 1101.5L132.6 1101.5L136.8 1101.5L141.0 1101.5L145.2 1101.5L149.3 1101.5L153.5 1101.5L157.7 1101.5L161.9 1101.5L166.1 1101.5L170.3 1101.5L174.4 1101.5L178.6 1101.5L182.8 1101.5L187.0 1101.5L191.1 1101.5L195.3 1101.5L199.5 1101.5L203.6 1101.4L207.8 1101.4L212.0 1101.4L216.1 1101.4L220.3 1101.4L224.5 1101.4L228.6 1101.4L232.8 1101.4L237.0 1101.4L241.1 1101.4L245.3 1101.4L249.5 1101.4L253.6 1101.4L257.8 1101.4L261.9 1101.4L266.1 1101.4L270.3 1101.4L274.4 1101.4L278.6 1101.4L282.8 1101.4L286.9 1101.4L291.1 1101.3L295.2 1101.3L299.4 1101.3L303.6 1101.3L307.7 1101.3L311.9 1101.3L316.1 1101.3L320.2 1101.2L324.4 1101.2L328.6 1101.2L332.7 1101.2L336.9 1101.1L341.1 1101.1L345.2 1101.1L349.4 1101.1L353.6 1101.0L357.7 1101.0L361.9 1101.0L366.1 1100.9L370.3 1100.9L374.4 1100.9L378.6 1100.8L382.8 1100.8L387.0 1100.7L391.2 1100.7L395.4 1100.7L399.5 1100.6L403.7 1100.6L407.9 1100.5L412.1 1100.4L416.3 1100.4L420.5 1100.3L424.7 1100.3L428.9 1100.2L433.1 1100.1L437.3 1100.1L441.5 1100.0L445.7 1099.9L449.9 1099.8L454.1 1099.8L458.3 1099.7L462.6 1099.6L466.8 1099.5L471.0 1099.4L475.2 1099.3L479.4 1099.2L483.6 1098.9L487.7 1098.5L491.7 1097.7L495.6 1096.7L499.3 1095.2L502.8 1093.3L506.1 1090.8L509.0 1087.8L511.3 1084.2L512.9 1080.4L514.1 1076.3L515.0 1072.1L515.5 1067.9L515.9 1063.7L516.1 1059.5L516.3 1055.3L516.5 1051.1L516.6 1047.0L516.7 1042.8L516.9 1038.6L516.9 1034.4L517.0 1030.2L517.1 1026.1L517.2 1021.9L517.2 1017.7L517.3 1013.5L517.4 1009.4L517.4 1005.2L517.4 1001.0L517.5 996.9L517.5 992.7L517.6 988.5L517.6 984.4L517.7 980.2L517.7 976.0L517.8 971.8L517.8 967.7L517.9 963.5L518.0 959.3L518.0 955.1L518.1 951.0L518.2 946.8L518.2 942.6L518.3 938.4L518.4 934.2L518.4 930.1L518.5 925.9L518.6 921.7L518.6 917.5L518.7 913.3L518.8 909.2L518.9 905.0L519.0 900.8L519.0 896.6L519.1 892.5L519.2 888.3L519.3 884.1L519.4 879.9L519.4 875.7L519.5 871.6L519.6 867.4L519.7 863.2L519.8 859.0L519.9 854.9L520.0 850.7L520.0 846.5L520.1 842.3L520.2 838.2L520.3 834.0" stroke="#82bb4e" stroke-width="4.0" stroke-dasharray="12 12" stroke-dashoffset="0"/>
<path d="M103.2 1100.8L107.1 1100.8L111.0 1100.7L114.8 1100.7L118.7 1100.6L122.6 1100.6L126.5 1100.6L130.3 1100.6L134.2 1100.5L138.1 1100.5L141.9 1100.5L145.8 1100.5L149.7 1100.5L153.5 1100.5L157.4 1100.5L161.3 1100.5L165.1 1100.5L169.0 1100.5L172.8 1100.5L176.7 1100.5L180.6 1100.5L184.4 1100.5L188.3 1100.5L192.1 1100.5L196.0 1100.5L199.8 1100.5L203.7 1100.5L207.5 1100.5L211.4 1100.5L215.2 1100.5L219.1 1100.5L222.9 1100.5L226.8 1100.5L230.6 1100.5L234.5 1100.5L238.3 1100.5L242.2 1100.5L246.0 1100.5L249.9 1100.5L253.7 1100.5L257.6 1100.5L261.4 1100.5L265.3 1100.5L269.1 1100.5L273.0 1100.4L276.8 1100.4L280.7 1100.4L284.5 1100.4L288.4 1100.3L292.2 1100.3L296.1 1100.3L299.9 1100.2L303.8 1100.2L307.6 1100.1L311.5 1100.0L315.3 1100.0L319.2 1099.9L323.1 1099.8L326.9 1099.8L330.8 1099.7L334.6 1099.6L338.5 1099.5L342.4 1099.4L346.2 1099.3L350.1 1099.2L354.0 1099.1L357.8 1098.9L361.7 1098.8L365.6 1098.7L369.4 1098.5L373.3 1098.4L377.2 1098.2L381.1 1098.0L384.9 1097.9L388.8 1097.7L392.7 1097.5L396.6 1097.3L400.5 1097.1L404.3 1096.9L408.2 1096.6L412.1 1096.4L416.0 1096.2L419.9 1095.9L423.8 1095.6L427.7 1095.4L431.6 1095.0L435.4 1094.5L439.2 1094.0L442.9 1093.2L446.6 1092.2L450.2 1091.0L453.6 1089.5L457.0 1087.6L460.1 1085.4L462.9 1082.8L465.2 1079.8L467.1 1076.4L468.6 1072.8L469.8 1069.1L470.8 1065.4L471.6 1061.6L472.3 1057.8L472.8 1054.0L473.2 1050.2L473.5 1046.3L473.7 1042.4L473.8 1038.5L473.9 1034.6L474.0 1030.7L474.0 1026.9L474.1 1023.0L474.2 1019.1L474.3 1015.2L474.4 1011.4L474.5 1007.5L474.6 1003.6L474.7 999.8L474.8 995.9L474.9 992.1L475.1 988.2L475.2 984.4L475.3 980.5L475.5 976.7L475.6 972.9L475.8 969.0L475.9 965.2L476.1 961.3L476.2 957.5L476.4 953.6L476.5 949.8L476.7 945.9L476.8 942.0L477.0 938.2L477.2 934.3L477.3 930.5L477.5 926.6L477.6 922.7L477.8 918.9L478.0 915.0L478.1 911.2L478.3 907.3L478.5 903.4L478.7 899.6L478.8 895.7L479.0 891.8L479.2 888.0L479.4 884.1L479.5 880.3L479.7 876.4L479.9 872.5L480.1 868.7L480.2 864.8L480.4 861.0L480.6 857.1L480.8 853.2L481.0 849.4L481.1 845.5L481.3 841.7L481.5 837.8L481.7 834.0" stroke="#82bb4e" stroke-width="4.0" stroke-dasharray="12 12" stroke-dashoffset="0"/>
<path d="M103.2 1099.4L106.7 1099.4L110.2 1099.3L113.7 1099.3L117.2 1099.2L120.7 1099.2L124.2 1099.2L127.8 1099.2L131.3 1099.1L134.8 1099.1L138.3 1099.1L141.8 1099.1L145.3 1099.1L148.8 1099.0L152.3 1099.0L155.8 1099.0L159.3 1099.0L162.8 1099.0L166.2 1099.0L169.7 1099.0L173.2 1099.0L176.7 1099.0L180.2 1099.0L183.7 1099.0L187.2 1099.0L190.7 1098.9L194.2 1098.9L197.7 1098.9L201.2 1098.9L204.7 1098.9L208.2 1098.9L211.7 1098.8L215.2 1098.8L218.6 1098.8L222.1 1098.7L225.6 1098.7L229.1 1098.7L232.6 1098.6L236.1 1098.6L239.6 1098.5L243.1 1098.5L246.6 1098.4L250.1 1098.3L253.6 1098.3L257.1 1098.2L260.5 1098.1L264.0 1098.0L267.5 1097.9L271.0 1097.8L274.5 1097.7L278.0 1097.6L281.5 1097.5L285.0 1097.3L288.5 1097.2L292.0 1097.0L295.5 1096.9L299.0 1096.7L302.5 1096.5L306.0 1096.4L309.5 1096.2L313.0 1096.0L316.5 1095.8L320.0 1095.5L323.5 1095.3L327.0 1095.1L330.5 1094.8L334.0 1094.5L337.5 1094.3L341.0 1094.0L344.5 1093.7L348.0 1093.4L351.5 1093.1L355.0 1092.7L358.5 1092.4L362.0 1092.0L365.5 1091.6L369.0 1091.1L372.5 1090.6L375.9 1090.0L379.4 1089.3L382.8 1088.5L386.1 1087.6L389.4 1086.6L392.7 1085.4L396.0 1084.1L399.2 1082.7L402.3 1081.0L405.3 1079.2L408.1 1077.2L410.8 1075.0L413.2 1072.6L415.4 1070.0L417.3 1067.2L418.9 1064.2L420.3 1061.1L421.5 1057.8L422.5 1054.4L423.3 1050.9L424.0 1047.4L424.5 1043.9L425.0 1040.4L425.3 1036.8L425.6 1033.3L425.8 1029.8L426.0 1026.3L426.1 1022.7L426.3 1019.2L426.5 1015.7L426.6 1012.2L426.8 1008.7L426.9 1005.2L427.1 1001.7L427.2 998.3L427.3 994.8L427.5 991.3L427.6 987.8L427.7 984.3L427.8 980.8L428.0 977.4L428.1 973.9L428.2 970.4L428.3 966.9L428.4 963.4L428.5 959.9L428.6 956.5L428.7 953.0L428.8 949.5L428.9 946.0L429.0 942.5L429.1 939.0L429.2 935.5L429.3 932.0L429.3 928.5L429.4 925.0L429.5 921.5L429.6 918.0L429.7 914.5L429.8 911.0L429.8 907.5L429.9 904.0L430.0 900.4L430.1 896.9L430.1 893.4L430.2 889.9L430.3 886.4L430.4 882.9L430.4 879.4L430.5 875.9L430.6 872.4L430.7 868.9L430.8 865.4L430.8 861.9L430.9 858.4L431.0 854.9L431.1 851.4L431.2 847.9L431.2 844.5L431.3 841.0L431.4 837.5L431.5 834.0" stroke="#82bb4e" stroke-width="4.0" stroke-dasharray="12 12" stroke-dashoffset="0"/>
<path d="M102.9 1096.2L106.0 1096.2L109.1 1096.1L112.2 1096.1L115.3 1096.1L118.4 1096.1L121.5 1096.1L124.6 1096.0L127.7 1096.0L130.8 1096.0L133.9 1096.0L137.0 1096.0L140.1 1096.0L143.2 1095.9L146.3 1095.9L149.4 1095.9L152.5 1095.9L155.6 1095.9L158.7 1095.8L161.8 1095.8L164.9 1095.8L168.0 1095.8L171.0 1095.7L174.1 1095.7L177.2 1095.7L180.3 1095.6L183.4 1095.6L186.5 1095.5L189.6 1095.5L192.7 1095.4L195.8 1095.4L198.8 1095.3L201.9 1095.2L205.0 1095.2L208.1 1095.1L211.2 1095.0L214.3 1094.9L217.4 1094.8L220.5 1094.7L223.5 1094.6L226.6 1094.5L229.7 1094.4L232.8 1094.3L235.9 1094.1L239.0 1094.0L242.1 1093.9L245.2 1093.7L248.3 1093.6L251.4 1093.4L254.5 1093.2L257.6 1093.0L260.7 1092.8L263.8 1092.6L266.9 1092.4L270.0 1092.2L273.1 1092.0L276.2 1091.7L279.3 1091.5L282.4 1091.2L285.5 1091.0L288.6 1090.7L291.7 1090.4L294.8 1090.0L297.9 1089.6L301.0 1089.2L304.1 1088.7L307.1 1088.2L310.2 1087.6L313.2 1087.0L316.2 1086.3L319.2 1085.5L322.2 1084.6L325.1 1083.7L328.1 1082.6L331.0 1081.5L333.8 1080.3L336.7 1078.9L339.4 1077.5L342.1 1075.9L344.6 1074.2L347.1 1072.4L349.4 1070.4L351.5 1068.3L353.5 1066.1L355.4 1063.7L357.1 1061.2L358.6 1058.6L360.1 1055.9L361.3 1053.1L362.5 1050.2L363.6 1047.3L364.5 1044.3L365.3 1041.3L366.0 1038.2L366.6 1035.2L367.2 1032.1L367.7 1029.0L368.1 1025.8L368.4 1022.7L368.8 1019.6L369.1 1016.5L369.4 1013.3L369.7 1010.2L369.9 1007.1L370.2 1004.0L370.4 1000.9L370.6 997.9L370.8 994.8L371.0 991.7L371.2 988.6L371.4 985.5L371.6 982.5L371.8 979.4L371.9 976.3L372.1 973.2L372.2 970.2L372.4 967.1L372.5 964.0L372.6 960.9L372.8 957.8L372.9 954.7L373.0 951.7L373.2 948.6L373.3 945.5L373.4 942.4L373.5 939.3L373.7 936.2L373.8 933.1L373.9 930.0L374.0 926.9L374.1 923.8L374.2 920.7L374.3 917.6L374.4 914.5L374.5 911.4L374.6 908.3L374.7 905.2L374.8 902.1L374.9 899.0L375.0 895.9L375.1 892.8L375.2 889.7L375.3 886.6L375.4 883.5L375.5 880.4L375.6 877.3L375.6 874.2L375.7 871.1L375.8 868.0L375.9 864.9L376.0 861.8L376.1 858.7L376.2 855.6L376.3 852.5L376.3 849.4L376.4 846.3L376.5 843.2L376.6 840.2L376.7 837.1L376.8 834.0" stroke="#82bb4e" stroke-width="4.0" stroke-dasharray="12 12" stroke-dashoffset="0"/>
<path d="M102.9 1088.9L105.5 1088.9L108.0 1088.9L110.6 1088.9L113.2 1088.9L115.7 1088.8L118.3 1088.7L120.9 1088.6L123.4 1088.5L126.0 1088.4L128.6 1088.2L131.1 1088.1L133.7 1087.9L136.3 1087.7L138.9 1087.5L141.4 1087.3L144.0 1087.1L146.6 1086.9L149.1 1086.7L151.7 1086.5L154.3 1086.3L156.9 1086.0L159.4 1085.8L162.0 1085.6L164.6 1085.4L167.1 1085.2L169.7 1085.0L172.2 1084.9L174.8 1084.7L177.3 1084.5L179.9 1084.4L182.5 1084.2L185.0 1084.0L187.6 1083.9L190.1 1083.7L192.7 1083.5L195.2 1083.3L197.8 1083.1L200.3 1082.9L202.9 1082.7L205.4 1082.5L207.9 1082.3L210.5 1082.0L213.0 1081.7L215.6 1081.4L218.1 1081.1L220.7 1080.7L223.2 1080.3L225.8 1079.9L228.3 1079.5L230.9 1079.0L233.4 1078.5L236.0 1078.0L238.5 1077.4L241.0 1076.8L243.6 1076.1L246.1 1075.4L248.6 1074.7L251.1 1073.8L253.5 1072.9L255.9 1072.0L258.2 1071.0L260.5 1069.8L262.8 1068.6L265.0 1067.4L267.1 1066.0L269.2 1064.5L271.2 1063.0L273.1 1061.3L274.9 1059.5L276.6 1057.7L278.3 1055.8L279.9 1053.8L281.4 1051.7L282.8 1049.6L284.1 1047.4L285.3 1045.1L286.5 1042.8L287.5 1040.4L288.5 1038.1L289.4 1035.6L290.2 1033.2L291.0 1030.8L291.8 1028.3L292.5 1025.8L293.2 1023.3L293.8 1020.8L294.4 1018.4L294.9 1015.8L295.5 1013.3L296.0 1010.8L296.4 1008.3L296.9 1005.8L297.3 1003.2L297.7 1000.7L298.0 998.1L298.4 995.6L298.7 993.0L299.0 990.5L299.3 987.9L299.5 985.4L299.8 982.8L300.0 980.2L300.3 977.7L300.5 975.1L300.7 972.5L300.9 969.9L301.1 967.4L301.3 964.8L301.4 962.2L301.6 959.6L301.8 957.1L302.0 954.5L302.2 951.9L302.4 949.4L302.5 946.8L302.7 944.2L302.9 941.7L303.1 939.1L303.3 936.5L303.5 934.0L303.7 931.4L303.8 928.9L304.0 926.3L304.2 923.7L304.4 921.2L304.6 918.6L304.8 916.1L304.9 913.5L305.1 911.0L305.3 908.4L305.5 905.8L305.6 903.3L305.8 900.7L306.0 898.2L306.1 895.6L306.3 893.0L306.5 890.5L306.6 887.9L306.8 885.4L306.9 882.8L307.1 880.3L307.2 877.7L307.4 875.1L307.5 872.6L307.7 870.0L307.8 867.4L307.9 864.9L308.1 862.3L308.2 859.7L308.3 857.2L308.4 854.6L308.5 852.0L308.7 849.5L308.8 846.9L308.9 844.3L308.9 841.7L309.0 839.2L309.1 836.6L309.2 834.0" stroke="#82bb4e" stroke-width="4.0" stroke-dasharray="12 12" stroke-dashoffset="0"/>
<path d="M102.9 1038.4L104.4 1038.3L105.9 1038.2L107.4 1038.0L108.9 1037.8L110.5 1037.5L112.0 1037.3L113.5 1037.0L115.0 1036.6L116.5 1036.3L118.1 1035.9L119.6 1035.5L121.1 1035.0L122.6 1034.5L124.1 1034.0L125.6 1033.5L127.1 1032.9L128.6 1032.4L130.1 1031.8L131.5 1031.1L133.0 1030.5L134.4 1029.8L135.9 1029.0L137.3 1028.3L138.7 1027.5L140.1 1026.7L141.4 1025.9L142.8 1025.1L144.1 1024.2L145.4 1023.3L146.7 1022.4L148.0 1021.5L149.2 1020.5L150.4 1019.5L151.6 1018.5L152.8 1017.5L153.9 1016.4L155.0 1015.3L156.1 1014.2L157.1 1013.1L158.2 1011.9L159.2 1010.8L160.1 1009.6L161.1 1008.4L162.0 1007.2L163.0 1005.9L163.8 1004.7L164.7 1003.4L165.6 1002.1L166.4 1000.8L167.2 999.5L168.0 998.2L168.8 996.8L169.5 995.5L170.3 994.1L171.0 992.7L171.7 991.3L172.4 989.9L173.0 988.5L173.7 987.1L174.3 985.7L175.0 984.2L175.6 982.8L176.2 981.3L176.8 979.9L177.3 978.4L177.9 976.9L178.4 975.4L179.0 974.0L179.5 972.5L180.0 971.0L180.5 969.5L181.0 968.0L181.5 966.5L182.0 965.0L182.5 963.5L182.9 962.0L183.4 960.5L183.8 959.0L184.3 957.5L184.7 956.0L185.1 954.5L185.5 953.0L185.9 951.5L186.3 950.0L186.7 948.5L187.1 946.9L187.5 945.4L187.8 943.9L188.2 942.4L188.5 940.9L188.9 939.3L189.2 937.8L189.5 936.3L189.9 934.8L190.2 933.2L190.5 931.7L190.8 930.2L191.1 928.6L191.4 927.1L191.7 925.6L191.9 924.0L192.2 922.5L192.5 921.0L192.8 919.4L193.0 917.9L193.3 916.3L193.5 914.8L193.8 913.3L194.0 911.7L194.2 910.2L194.5 908.6L194.7 907.1L194.9 905.5L195.1 904.0L195.3 902.4L195.5 900.9L195.8 899.3L196.0 897.8L196.1 896.2L196.3 894.7L196.5 893.1L196.7 891.6L196.9 890.0L197.1 888.5L197.3 886.9L197.4 885.4L197.6 883.8L197.8 882.2L198.0 880.7L198.1 879.1L198.3 877.6L198.5 876.0L198.6 874.5L198.8 872.9L198.9 871.3L199.1 869.8L199.3 868.2L199.4 866.7L199.6 865.1L199.7 863.6L199.9 862.0L200.0 860.4L200.2 858.9L200.3 857.3L200.5 855.8L200.6 854.2L200.8 852.7L200.9 851.1L201.1 849.5L201.2 848.0L201.4 846.4L201.5 844.9L201.7 843.3L201.8 841.8L202.0 840.2L202.1 838.7L202.3 837.1L202.5 835.6L202.6 834.0" stroke="#82bb4e" stroke-width="4.0" stroke-dasharray="12 12" stroke-dashoffset="0"/>
</g>
<path d="M533.60 1031.60L172.05 919.81" stroke="#000" stroke-width="1.5" fill="none"/><path d="M153.90 914.20L182.05 912.54L172.05 919.81L176.20 931.46Z" fill="#000"/>
<text class="it" transform="translate(123.8 908.4) scale(1.1 1)" font-size="36">T</text>
<g clip-path="url(#cp01)" fill="none" stroke-linejoin="round">
<path d="M782.9 344.8L786.5 344.3L790.0 343.8L793.6 343.3L797.2 342.8L800.7 342.3L804.3 341.8L807.9 341.3L811.4 340.8L815.0 340.3L818.6 339.8L822.1 339.3L825.7 338.9L829.2 338.4L832.8 337.9L836.4 337.5L839.9 337.0L843.5 336.6L847.0 336.1L850.6 335.6L854.2 335.2L857.7 334.7L861.3 334.3L864.8 333.9L868.4 333.4L871.9 333.0L875.5 332.5L879.0 332.1L882.6 331.7L886.2 331.2L889.7 330.8L893.3 330.3L896.8 329.9L900.4 329.5L903.9 329.0L907.5 328.6L911.0 328.2L914.6 327.7L918.1 327.3L921.7 326.9L925.2 326.4L928.8 326.0L932.3 325.5L935.9 325.1L939.4 324.7L943.0 324.2L946.5 323.8L950.1 323.3L953.6 322.9L957.2 322.4L960.8 322.0L964.3 321.5L967.9 321.1L971.4 320.6L975.0 320.2L978.5 319.7L982.1 319.2L985.6 318.8L989.2 318.3L992.7 317.8L996.3 317.4L999.8 316.9L1003.4 316.4L1006.9 315.9L1010.5 315.4L1014.0 314.9L1017.6 314.4L1021.2 313.9L1024.7 313.4L1028.3 312.9L1031.8 312.4L1035.4 311.8L1038.9 311.3L1042.5 310.8L1046.0 310.2L1049.6 309.7L1053.2 309.1L1056.7 308.6L1060.3 308.0L1063.8 307.4L1067.4 306.8L1070.9 306.1L1074.4 305.5L1078.0 304.7L1081.5 304.0L1084.9 303.1L1088.4 302.3L1091.9 301.3L1095.3 300.3L1098.7 299.3L1102.1 298.1L1105.4 296.9L1108.8 295.5L1112.1 294.1L1115.3 292.6L1118.6 291.0L1121.7 289.2L1124.9 287.4L1127.9 285.4L1130.8 283.3L1133.6 281.1L1136.3 278.7L1138.8 276.2L1141.1 273.6L1143.2 270.8L1145.1 267.8L1146.8 264.8L1148.3 261.5L1149.6 258.2L1150.8 254.8L1151.8 251.3L1152.7 247.8L1153.5 244.2L1154.2 240.6L1154.8 237.0L1155.4 233.4L1156.0 229.9L1156.5 226.3L1156.9 222.7L1157.3 219.2L1157.7 215.6L1158.0 212.0L1158.3 208.5L1158.6 204.9L1158.9 201.4L1159.1 197.8L1159.3 194.3L1159.6 190.7L1159.8 187.1L1160.0 183.6L1160.2 180.0L1160.4 176.4L1160.6 172.9L1160.7 169.3L1160.9 165.7L1161.1 162.1L1161.2 158.5L1161.4 154.9L1161.5 151.3L1161.7 147.8L1161.8 144.2L1161.9 140.6L1162.0 137.0L1162.1 133.4L1162.3 129.8L1162.4 126.2L1162.5 122.6L1162.6 119.0L1162.7 115.4L1162.7 111.8L1162.8 108.2L1162.9 104.6L1163.0 101.1L1163.0 97.5L1163.1 93.9L1163.2 90.3L1163.2 86.7L1163.3 83.1L1163.3 79.6L1163.4 76.0" stroke="#000" stroke-width="4.1"/>
<path d="M782.9 344.8L786.2 344.4L789.5 344.0L792.8 343.6L796.2 343.2L799.5 342.8L802.7 342.3L806.0 341.9L809.3 341.5L812.6 341.0L815.9 340.6L819.1 340.1L822.4 339.7L825.7 339.2L828.9 338.7L832.2 338.3L835.4 337.8L838.6 337.3L841.9 336.8L845.1 336.3L848.3 335.8L851.6 335.3L854.8 334.8L858.0 334.3L861.2 333.8L864.5 333.3L867.7 332.8L870.9 332.2L874.1 331.7L877.3 331.2L880.5 330.7L883.7 330.1L886.9 329.6L890.1 329.0L893.3 328.5L896.5 327.9L899.7 327.4L902.9 326.8L906.1 326.3L909.3 325.7L912.5 325.2L915.7 324.6L918.9 324.1L922.0 323.5L925.2 322.9L928.4 322.4L931.6 321.8L934.8 321.2L938.0 320.7L941.2 320.1L944.4 319.5L947.6 319.0L950.8 318.4L954.0 317.8L957.2 317.2L960.4 316.7L963.6 316.1L966.8 315.5L970.1 314.9L973.3 314.4L976.5 313.8L979.7 313.2L982.9 312.6L986.2 312.1L989.4 311.5L992.6 310.9L995.9 310.4L999.1 309.8L1002.3 309.2L1005.6 308.7L1008.8 308.1L1012.1 307.5L1015.4 307.0L1018.6 306.4L1021.9 305.8L1025.2 305.3L1028.4 304.7L1031.7 304.1L1034.9 303.4L1038.2 302.7L1041.4 302.0L1044.6 301.1L1047.7 300.2L1050.8 299.1L1053.9 298.0L1056.9 296.7L1059.9 295.4L1062.8 293.9L1065.7 292.3L1068.5 290.7L1071.2 288.9L1073.9 287.0L1076.4 285.1L1078.9 283.0L1081.4 280.9L1083.7 278.7L1085.9 276.3L1088.0 273.9L1090.1 271.5L1092.0 268.9L1093.8 266.2L1095.5 263.5L1097.1 260.7L1098.5 257.9L1099.8 254.9L1101.0 251.9L1102.1 248.8L1103.1 245.7L1103.9 242.5L1104.7 239.3L1105.4 236.1L1106.0 232.8L1106.5 229.5L1107.0 226.2L1107.5 222.9L1108.0 219.5L1108.4 216.2L1108.8 212.9L1109.2 209.6L1109.6 206.3L1110.0 203.1L1110.4 199.8L1110.7 196.6L1111.1 193.3L1111.5 190.1L1111.8 186.8L1112.1 183.6L1112.5 180.4L1112.8 177.1L1113.1 173.9L1113.4 170.7L1113.7 167.5L1113.9 164.2L1114.2 161.0L1114.4 157.7L1114.7 154.5L1114.9 151.2L1115.1 148.0L1115.3 144.7L1115.5 141.5L1115.6 138.2L1115.8 134.9L1115.9 131.7L1116.1 128.4L1116.2 125.1L1116.3 121.9L1116.5 118.6L1116.6 115.3L1116.7 112.0L1116.8 108.8L1116.8 105.5L1116.9 102.2L1117.0 98.9L1117.1 95.6L1117.1 92.4L1117.2 89.1L1117.3 85.8L1117.3 82.5L1117.4 79.3L1117.4 76.0" stroke="#000" stroke-width="4.1"/>
<path d="M782.9 344.8L785.8 344.2L788.6 343.7L791.5 343.1L794.4 342.6L797.2 342.1L800.1 341.6L803.0 341.0L805.9 340.5L808.7 340.0L811.6 339.5L814.5 339.0L817.4 338.6L820.2 338.1L823.1 337.6L826.0 337.1L828.9 336.6L831.7 336.2L834.6 335.7L837.5 335.2L840.3 334.7L843.2 334.3L846.1 333.8L849.0 333.3L851.8 332.8L854.7 332.4L857.6 331.9L860.4 331.4L863.3 330.9L866.2 330.4L869.0 329.9L871.9 329.4L874.7 328.9L877.6 328.4L880.4 327.8L883.3 327.3L886.1 326.7L889.0 326.2L891.8 325.6L894.7 325.1L897.5 324.5L900.4 323.9L903.2 323.3L906.0 322.7L908.9 322.1L911.7 321.4L914.5 320.8L917.3 320.1L920.2 319.4L923.0 318.7L925.8 318.0L928.6 317.3L931.4 316.6L934.2 315.8L937.0 315.0L939.8 314.2L942.6 313.4L945.4 312.6L948.1 311.7L950.9 310.9L953.7 310.0L956.4 309.1L959.2 308.1L962.0 307.2L964.7 306.2L967.5 305.2L970.2 304.2L972.9 303.1L975.7 302.0L978.4 301.0L981.1 299.8L983.8 298.7L986.5 297.5L989.3 296.3L992.0 295.1L994.6 293.8L997.3 292.5L1000.0 291.2L1002.6 289.8L1005.2 288.4L1007.8 287.0L1010.4 285.5L1012.9 284.0L1015.3 282.4L1017.8 280.8L1020.1 279.2L1022.4 277.4L1024.7 275.7L1026.9 273.8L1029.0 271.9L1031.1 270.0L1033.0 268.0L1034.9 265.9L1036.7 263.8L1038.5 261.6L1040.1 259.3L1041.6 256.9L1043.0 254.5L1044.3 252.0L1045.6 249.4L1046.7 246.7L1047.7 244.0L1048.6 241.2L1049.5 238.4L1050.3 235.6L1051.0 232.7L1051.7 229.7L1052.3 226.8L1052.9 223.9L1053.5 220.9L1054.0 217.9L1054.5 215.0L1054.9 212.0L1055.4 209.1L1055.9 206.2L1056.3 203.3L1056.7 200.4L1057.1 197.5L1057.5 194.7L1057.9 191.8L1058.2 188.9L1058.6 186.1L1058.9 183.2L1059.3 180.3L1059.6 177.5L1059.9 174.6L1060.2 171.8L1060.5 168.9L1060.7 166.0L1061.0 163.2L1061.3 160.3L1061.5 157.4L1061.7 154.5L1062.0 151.7L1062.2 148.8L1062.4 145.9L1062.6 143.0L1062.8 140.1L1063.0 137.2L1063.2 134.2L1063.4 131.3L1063.6 128.4L1063.7 125.5L1063.9 122.6L1064.0 119.7L1064.2 116.8L1064.3 113.8L1064.4 110.9L1064.6 108.0L1064.7 105.1L1064.8 102.2L1064.9 99.2L1065.0 96.3L1065.1 93.4L1065.2 90.5L1065.3 87.6L1065.4 84.7L1065.4 81.8L1065.5 78.9L1065.6 76.0" stroke="#000" stroke-width="4.1"/>
<path d="M782.9 344.8L785.4 344.3L788.0 343.8L790.5 343.3L793.0 342.8L795.6 342.2L798.1 341.7L800.6 341.2L803.1 340.7L805.6 340.1L808.1 339.6L810.6 339.1L813.1 338.5L815.6 338.0L818.0 337.4L820.5 336.9L823.0 336.3L825.5 335.7L827.9 335.2L830.4 334.6L832.9 334.0L835.3 333.4L837.8 332.8L840.2 332.2L842.7 331.6L845.1 331.0L847.6 330.4L850.0 329.8L852.5 329.1L854.9 328.5L857.3 327.8L859.8 327.2L862.2 326.5L864.6 325.8L867.1 325.1L869.5 324.4L871.9 323.7L874.4 323.0L876.8 322.3L879.2 321.6L881.7 320.8L884.1 320.1L886.5 319.3L889.0 318.5L891.4 317.8L893.8 317.0L896.3 316.1L898.7 315.3L901.1 314.5L903.6 313.6L906.0 312.8L908.4 311.9L910.9 311.0L913.3 310.1L915.7 309.2L918.1 308.2L920.5 307.2L922.8 306.2L925.2 305.1L927.5 304.1L929.8 302.9L932.1 301.8L934.4 300.6L936.6 299.4L938.8 298.1L941.0 296.8L943.2 295.4L945.3 294.0L947.4 292.6L949.4 291.1L951.4 289.5L953.4 288.0L955.3 286.3L957.2 284.7L959.1 282.9L960.9 281.2L962.6 279.4L964.3 277.5L966.0 275.6L967.6 273.7L969.2 271.7L970.7 269.7L972.1 267.7L973.5 265.6L974.8 263.5L976.1 261.3L977.3 259.2L978.5 256.9L979.6 254.7L980.6 252.4L981.6 250.0L982.5 247.7L983.4 245.3L984.2 242.9L984.9 240.5L985.7 238.0L986.4 235.6L987.0 233.1L987.6 230.6L988.2 228.1L988.8 225.6L989.3 223.0L989.8 220.5L990.2 218.0L990.7 215.4L991.1 212.9L991.6 210.3L992.0 207.8L992.4 205.3L992.7 202.7L993.1 200.2L993.5 197.6L993.8 195.1L994.1 192.6L994.4 190.0L994.8 187.5L995.1 185.0L995.4 182.4L995.6 179.9L995.9 177.4L996.2 174.8L996.5 172.3L996.8 169.8L997.0 167.2L997.3 164.7L997.6 162.2L997.8 159.7L998.1 157.1L998.3 154.6L998.6 152.1L998.8 149.6L999.1 147.0L999.3 144.5L999.6 142.0L999.8 139.5L1000.0 137.0L1000.3 134.4L1000.5 131.9L1000.7 129.4L1000.9 126.9L1001.1 124.3L1001.3 121.8L1001.5 119.3L1001.7 116.8L1001.8 114.2L1002.0 111.7L1002.2 109.2L1002.3 106.6L1002.5 104.1L1002.6 101.5L1002.8 99.0L1002.9 96.5L1003.0 93.9L1003.1 91.4L1003.2 88.8L1003.3 86.3L1003.4 83.7L1003.5 81.1L1003.5 78.6L1003.6 76.0" stroke="#000" stroke-width="4.1"/>
<path d="M782.9 344.8L785.0 344.0L787.1 343.1L789.2 342.3L791.3 341.5L793.5 340.7L795.6 339.9L797.6 339.1L799.7 338.3L801.8 337.5L803.9 336.8L806.0 336.0L808.1 335.2L810.2 334.4L812.3 333.6L814.3 332.9L816.4 332.1L818.5 331.3L820.6 330.5L822.6 329.7L824.7 328.9L826.8 328.1L828.9 327.3L830.9 326.6L833.0 325.7L835.0 324.9L837.1 324.1L839.2 323.3L841.2 322.5L843.3 321.6L845.3 320.8L847.4 319.9L849.5 319.1L851.5 318.2L853.6 317.3L855.6 316.4L857.7 315.5L859.7 314.6L861.8 313.7L863.8 312.8L865.9 311.8L867.9 310.9L870.0 309.9L872.0 308.9L874.1 307.9L876.1 306.8L878.1 305.8L880.2 304.7L882.1 303.6L884.1 302.5L886.1 301.3L888.0 300.1L889.9 298.9L891.7 297.6L893.6 296.3L895.4 295.0L897.1 293.6L898.8 292.2L900.5 290.8L902.1 289.3L903.7 287.7L905.2 286.1L906.7 284.5L908.1 282.8L909.5 281.1L910.9 279.4L912.2 277.6L913.5 275.8L914.7 274.0L915.9 272.1L917.1 270.2L918.2 268.3L919.3 266.4L920.4 264.4L921.4 262.4L922.4 260.4L923.3 258.4L924.3 256.4L925.2 254.3L926.1 252.2L926.9 250.2L927.7 248.1L928.5 246.0L929.3 243.9L930.0 241.7L930.8 239.6L931.5 237.5L932.2 235.4L932.8 233.3L933.5 231.1L934.1 229.0L934.7 226.8L935.3 224.7L935.8 222.5L936.4 220.4L936.9 218.2L937.4 216.0L937.9 213.9L938.4 211.7L938.8 209.5L939.3 207.3L939.7 205.1L940.1 202.9L940.5 200.7L940.9 198.5L941.2 196.3L941.6 194.1L941.9 191.9L942.2 189.7L942.5 187.5L942.8 185.3L943.1 183.1L943.4 180.8L943.7 178.6L943.9 176.4L944.2 174.2L944.4 171.9L944.6 169.7L944.9 167.5L945.1 165.2L945.3 163.0L945.5 160.8L945.6 158.5L945.8 156.3L946.0 154.1L946.2 151.8L946.3 149.6L946.5 147.3L946.7 145.1L946.8 142.8L947.0 140.6L947.1 138.4L947.3 136.1L947.4 133.9L947.5 131.6L947.7 129.4L947.8 127.2L948.0 124.9L948.1 122.7L948.2 120.4L948.4 118.2L948.5 116.0L948.7 113.7L948.8 111.5L949.0 109.3L949.1 107.0L949.3 104.8L949.4 102.6L949.6 100.3L949.8 98.1L949.9 95.9L950.1 93.7L950.3 91.5L950.5 89.2L950.7 87.0L950.9 84.8L951.1 82.6L951.3 80.4L951.6 78.2L951.8 76.0" stroke="#d02027" stroke-width="4.1"/>
<path d="M782.9 344.8L784.7 343.8L786.5 342.7L788.3 341.7L790.1 340.7L791.9 339.8L793.7 338.8L795.6 337.8L797.4 336.8L799.3 335.9L801.1 334.9L803.0 334.0L804.9 333.0L806.7 332.1L808.6 331.2L810.5 330.2L812.4 329.3L814.2 328.4L816.1 327.4L818.0 326.5L819.9 325.5L821.8 324.6L823.6 323.7L825.5 322.7L827.4 321.8L829.2 320.8L831.1 319.8L832.9 318.9L834.8 317.9L836.6 316.9L838.5 315.9L840.3 314.9L842.1 313.8L843.9 312.8L845.7 311.7L847.5 310.7L849.3 309.6L851.0 308.5L852.8 307.4L854.5 306.2L856.2 305.1L857.9 303.9L859.6 302.7L861.3 301.5L863.0 300.3L864.6 299.0L866.2 297.7L867.8 296.3L869.3 295.0L870.8 293.6L872.3 292.1L873.8 290.7L875.3 289.2L876.7 287.6L878.1 286.1L879.5 284.5L880.8 282.9L882.1 281.3L883.4 279.6L884.6 277.9L885.9 276.2L887.1 274.5L888.2 272.8L889.3 271.0L890.4 269.2L891.5 267.4L892.5 265.6L893.5 263.7L894.4 261.9L895.3 260.0L896.2 258.1L897.1 256.2L897.9 254.3L898.6 252.4L899.4 250.4L900.1 248.5L900.8 246.5L901.5 244.5L902.2 242.6L902.8 240.6L903.5 238.6L904.1 236.6L904.7 234.6L905.3 232.6L905.9 230.6L906.5 228.6L907.0 226.6L907.6 224.6L908.1 222.6L908.6 220.6L909.1 218.6L909.6 216.6L910.1 214.6L910.6 212.5L911.0 210.5L911.5 208.5L911.9 206.5L912.4 204.4L912.8 202.4L913.2 200.3L913.6 198.3L914.0 196.3L914.3 194.2L914.7 192.2L915.1 190.1L915.4 188.1L915.7 186.0L916.1 184.0L916.4 181.9L916.7 179.8L917.0 177.8L917.3 175.7L917.6 173.6L917.9 171.6L918.2 169.5L918.4 167.4L918.7 165.4L919.0 163.3L919.2 161.2L919.4 159.1L919.7 157.1L919.9 155.0L920.1 152.9L920.4 150.8L920.6 148.8L920.8 146.7L921.0 144.6L921.2 142.5L921.4 140.4L921.6 138.4L921.8 136.3L921.9 134.2L922.1 132.1L922.3 130.0L922.5 127.9L922.6 125.9L922.8 123.8L923.0 121.7L923.1 119.6L923.3 117.5L923.5 115.4L923.6 113.4L923.8 111.3L923.9 109.2L924.1 107.1L924.2 105.0L924.4 103.0L924.5 100.9L924.7 98.8L924.8 96.7L925.0 94.6L925.1 92.6L925.3 90.5L925.4 88.4L925.6 86.3L925.8 84.3L925.9 82.2L926.1 80.1L926.2 78.1L926.4 76.0" stroke="#d02027" stroke-width="4.1"/>
<path d="M782.9 344.8L784.5 343.7L786.1 342.7L787.7 341.6L789.3 340.6L790.9 339.5L792.5 338.4L794.2 337.4L795.8 336.3L797.4 335.2L799.0 334.2L800.7 333.1L802.3 332.0L803.9 330.9L805.6 329.8L807.2 328.7L808.8 327.6L810.4 326.5L812.0 325.3L813.6 324.2L815.2 323.0L816.8 321.9L818.3 320.7L819.9 319.5L821.4 318.3L823.0 317.1L824.5 315.9L826.0 314.6L827.5 313.4L829.0 312.1L830.4 310.8L831.9 309.5L833.3 308.2L834.7 306.8L836.1 305.5L837.4 304.1L838.8 302.7L840.1 301.3L841.4 299.9L842.7 298.5L843.9 297.1L845.2 295.6L846.4 294.1L847.6 292.6L848.7 291.1L849.9 289.6L851.0 288.0L852.1 286.4L853.2 284.8L854.2 283.2L855.2 281.6L856.2 280.0L857.2 278.3L858.1 276.7L859.1 275.0L860.0 273.3L860.9 271.6L861.7 269.9L862.6 268.1L863.4 266.4L864.2 264.6L865.0 262.9L865.8 261.1L866.5 259.3L867.3 257.5L868.0 255.7L868.7 253.9L869.4 252.1L870.1 250.2L870.7 248.4L871.4 246.5L872.0 244.7L872.6 242.8L873.2 241.0L873.8 239.1L874.4 237.2L874.9 235.4L875.5 233.5L876.0 231.6L876.5 229.7L877.0 227.8L877.6 225.9L878.0 224.0L878.5 222.2L879.0 220.3L879.5 218.4L879.9 216.5L880.4 214.6L880.8 212.7L881.2 210.8L881.7 208.9L882.1 207.0L882.5 205.1L882.9 203.2L883.2 201.3L883.6 199.4L884.0 197.5L884.4 195.5L884.7 193.6L885.1 191.7L885.4 189.8L885.7 187.9L886.0 186.0L886.4 184.1L886.7 182.2L887.0 180.3L887.3 178.3L887.6 176.4L887.8 174.5L888.1 172.6L888.4 170.7L888.6 168.7L888.9 166.8L889.1 164.9L889.4 163.0L889.6 161.1L889.9 159.1L890.1 157.2L890.3 155.3L890.5 153.4L890.7 151.4L891.0 149.5L891.2 147.6L891.4 145.7L891.6 143.7L891.7 141.8L891.9 139.9L892.1 137.9L892.3 136.0L892.5 134.1L892.6 132.2L892.8 130.2L893.0 128.3L893.1 126.4L893.3 124.4L893.4 122.5L893.6 120.6L893.7 118.6L893.9 116.7L894.0 114.7L894.2 112.8L894.3 110.9L894.5 108.9L894.6 107.0L894.7 105.1L894.9 103.1L895.0 101.2L895.1 99.3L895.2 97.3L895.4 95.4L895.5 93.4L895.6 91.5L895.7 89.6L895.9 87.6L896.0 85.7L896.1 83.8L896.2 81.8L896.4 79.9L896.5 77.9L896.6 76.0" stroke="#d02027" stroke-width="4.1"/>
<path d="M782.9 344.8L784.1 343.4L785.3 342.1L786.5 340.7L787.7 339.3L788.8 338.0L790.0 336.6L791.1 335.2L792.3 333.8L793.4 332.4L794.5 330.9L795.6 329.5L796.7 328.1L797.8 326.6L798.9 325.2L799.9 323.7L801.0 322.3L802.0 320.8L803.0 319.3L804.1 317.8L805.1 316.3L806.1 314.8L807.0 313.3L808.0 311.8L809.0 310.3L809.9 308.8L810.8 307.2L811.8 305.7L812.7 304.2L813.6 302.6L814.5 301.1L815.3 299.5L816.2 297.9L817.1 296.3L817.9 294.8L818.7 293.2L819.6 291.6L820.4 290.0L821.2 288.4L821.9 286.8L822.7 285.2L823.5 283.5L824.2 281.9L824.9 280.3L825.7 278.6L826.4 277.0L827.1 275.3L827.8 273.7L828.4 272.0L829.1 270.4L829.8 268.7L830.4 267.0L831.0 265.3L831.7 263.7L832.3 262.0L832.9 260.3L833.5 258.6L834.1 256.9L834.6 255.2L835.2 253.5L835.7 251.8L836.3 250.1L836.8 248.4L837.3 246.6L837.8 244.9L838.3 243.2L838.8 241.5L839.3 239.7L839.8 238.0L840.3 236.3L840.7 234.5L841.2 232.8L841.6 231.0L842.0 229.3L842.5 227.6L842.9 225.8L843.3 224.1L843.7 222.3L844.1 220.5L844.5 218.8L844.8 217.0L845.2 215.3L845.6 213.5L845.9 211.8L846.3 210.0L846.6 208.2L846.9 206.5L847.2 204.7L847.6 202.9L847.9 201.1L848.2 199.4L848.5 197.6L848.8 195.8L849.1 194.1L849.3 192.3L849.6 190.5L849.9 188.7L850.1 186.9L850.4 185.2L850.6 183.4L850.9 181.6L851.1 179.8L851.4 178.0L851.6 176.2L851.8 174.5L852.1 172.7L852.3 170.9L852.5 169.1L852.7 167.3L852.9 165.5L853.1 163.7L853.3 161.9L853.5 160.1L853.7 158.3L853.9 156.6L854.1 154.8L854.3 153.0L854.4 151.2L854.6 149.4L854.8 147.6L855.0 145.8L855.1 144.0L855.3 142.2L855.5 140.4L855.6 138.6L855.8 136.8L856.0 135.0L856.1 133.2L856.3 131.4L856.4 129.6L856.6 127.8L856.7 126.0L856.9 124.3L857.0 122.5L857.2 120.7L857.4 118.9L857.5 117.1L857.7 115.3L857.8 113.5L858.0 111.7L858.1 109.9L858.3 108.1L858.4 106.3L858.6 104.5L858.7 102.7L858.9 101.0L859.0 99.2L859.2 97.4L859.3 95.6L859.5 93.8L859.7 92.0L859.8 90.2L860.0 88.5L860.2 86.7L860.3 84.9L860.5 83.1L860.7 81.3L860.8 79.6L861.0 77.8L861.2 76.0" stroke="#d02027" stroke-width="4.1"/>
<path d="M782.9 344.8L786.6 344.5L790.3 344.2L794.0 344.0L797.7 343.7L801.3 343.4L805.0 343.2L808.7 342.9L812.4 342.6L816.1 342.4L819.8 342.1L823.4 341.9L827.1 341.7L830.8 341.4L834.5 341.2L838.2 341.0L841.8 340.7L845.5 340.5L849.2 340.3L852.9 340.0L856.5 339.8L860.2 339.6L863.9 339.4L867.6 339.2L871.2 338.9L874.9 338.7L878.6 338.5L882.3 338.3L885.9 338.1L889.6 337.9L893.3 337.7L896.9 337.5L900.6 337.2L904.3 337.0L908.0 336.8L911.6 336.6L915.3 336.4L919.0 336.2L922.6 336.0L926.3 335.7L930.0 335.5L933.6 335.3L937.3 335.1L941.0 334.8L944.7 334.6L948.3 334.4L952.0 334.2L955.7 333.9L959.3 333.7L963.0 333.4L966.7 333.2L970.4 333.0L974.0 332.7L977.7 332.5L981.4 332.2L985.1 331.9L988.7 331.7L992.4 331.4L996.1 331.1L999.8 330.9L1003.5 330.6L1007.1 330.3L1010.8 330.0L1014.5 329.7L1018.2 329.4L1021.9 329.1L1025.5 328.8L1029.2 328.5L1032.9 328.1L1036.6 327.8L1040.3 327.5L1044.0 327.1L1047.7 326.7L1051.3 326.3L1055.0 325.9L1058.7 325.5L1062.3 325.0L1066.0 324.4L1069.6 323.8L1073.3 323.2L1076.9 322.5L1080.5 321.8L1084.1 321.0L1087.7 320.1L1091.3 319.2L1094.8 318.1L1098.4 317.0L1101.9 315.9L1105.4 314.6L1108.8 313.2L1112.3 311.7L1115.6 310.2L1118.9 308.5L1122.1 306.7L1125.2 304.8L1128.2 302.7L1131.1 300.5L1133.8 298.2L1136.4 295.7L1138.8 293.1L1141.0 290.3L1143.1 287.4L1144.9 284.3L1146.6 281.1L1148.1 277.8L1149.5 274.3L1150.8 270.8L1151.9 267.3L1152.9 263.6L1153.7 260.0L1154.5 256.3L1155.2 252.6L1155.9 249.0L1156.4 245.3L1156.9 241.6L1157.4 237.9L1157.7 234.2L1158.1 230.6L1158.4 226.9L1158.7 223.2L1158.9 219.5L1159.2 215.8L1159.4 212.2L1159.6 208.5L1159.8 204.8L1160.1 201.1L1160.2 197.5L1160.4 193.8L1160.6 190.1L1160.8 186.4L1161.0 182.8L1161.1 179.1L1161.3 175.4L1161.4 171.7L1161.6 168.1L1161.7 164.4L1161.9 160.7L1162.0 157.0L1162.1 153.4L1162.2 149.7L1162.3 146.0L1162.5 142.3L1162.6 138.7L1162.7 135.0L1162.8 131.3L1162.8 127.6L1162.9 123.9L1163.0 120.3L1163.1 116.6L1163.2 112.9L1163.2 109.2L1163.3 105.5L1163.4 101.8L1163.5 98.2L1163.5 94.5L1163.6 90.8L1163.6 87.1L1163.7 83.4L1163.7 79.7L1163.8 76.0" stroke="#82bb4e" stroke-width="4.0" stroke-dasharray="12 12" stroke-dashoffset="0"/>
<path d="M782.9 344.8L786.2 344.4L789.6 344.0L792.9 343.6L796.2 343.3L799.5 342.9L802.9 342.6L806.2 342.2L809.5 341.9L812.8 341.6L816.2 341.3L819.5 341.0L822.8 340.7L826.2 340.4L829.5 340.1L832.8 339.8L836.1 339.5L839.5 339.3L842.8 339.0L846.1 338.8L849.4 338.5L852.8 338.3L856.1 338.0L859.4 337.8L862.7 337.5L866.0 337.3L869.4 337.0L872.7 336.8L876.0 336.6L879.3 336.3L882.6 336.1L886.0 335.8L889.3 335.6L892.6 335.3L895.9 335.1L899.2 334.8L902.6 334.6L905.9 334.3L909.2 334.0L912.5 333.7L915.8 333.5L919.1 333.2L922.4 332.9L925.8 332.6L929.1 332.3L932.4 331.9L935.7 331.6L939.0 331.3L942.3 330.9L945.6 330.6L948.9 330.2L952.2 329.8L955.5 329.4L958.8 329.0L962.1 328.6L965.4 328.1L968.7 327.7L972.0 327.2L975.3 326.8L978.6 326.3L981.9 325.8L985.2 325.2L988.5 324.7L991.8 324.1L995.1 323.6L998.4 323.0L1001.7 322.4L1005.0 321.7L1008.3 321.1L1011.6 320.4L1014.9 319.7L1018.2 319.0L1021.5 318.3L1024.7 317.5L1028.0 316.7L1031.3 315.9L1034.6 315.1L1037.9 314.2L1041.1 313.3L1044.4 312.4L1047.6 311.4L1050.7 310.3L1053.9 309.2L1057.0 308.0L1060.0 306.7L1063.0 305.3L1065.9 303.8L1068.7 302.3L1071.5 300.6L1074.2 298.8L1076.8 296.8L1079.3 294.8L1081.7 292.6L1084.0 290.2L1086.2 287.7L1088.3 285.1L1090.2 282.3L1092.1 279.5L1093.9 276.6L1095.5 273.6L1097.0 270.6L1098.5 267.5L1099.8 264.4L1101.0 261.3L1102.2 258.2L1103.2 255.0L1104.2 251.9L1105.1 248.7L1105.9 245.4L1106.6 242.2L1107.3 239.0L1107.9 235.7L1108.5 232.4L1109.0 229.1L1109.5 225.8L1109.9 222.5L1110.3 219.2L1110.6 215.9L1111.0 212.6L1111.3 209.2L1111.5 205.9L1111.8 202.5L1112.0 199.2L1112.3 195.8L1112.5 192.5L1112.7 189.2L1113.0 185.8L1113.2 182.5L1113.4 179.2L1113.7 175.8L1113.9 172.5L1114.1 169.2L1114.4 165.9L1114.6 162.5L1114.8 159.2L1115.0 155.9L1115.3 152.6L1115.5 149.3L1115.7 146.0L1115.9 142.6L1116.1 139.3L1116.3 136.0L1116.5 132.7L1116.7 129.4L1116.8 126.0L1117.0 122.7L1117.1 119.4L1117.3 116.1L1117.4 112.8L1117.5 109.4L1117.6 106.1L1117.7 102.8L1117.8 99.4L1117.9 96.1L1117.9 92.8L1118.0 89.4L1118.0 86.1L1118.0 82.7L1118.0 79.4L1118.0 76.0" stroke="#82bb4e" stroke-width="4.0" stroke-dasharray="12 12" stroke-dashoffset="0"/>
<path d="M782.9 344.8L785.9 344.3L788.8 343.8L791.8 343.3L794.7 342.8L797.7 342.4L800.6 341.9L803.6 341.5L806.5 341.0L809.5 340.6L812.4 340.2L815.4 339.8L818.3 339.4L821.3 339.0L824.2 338.6L827.2 338.2L830.1 337.8L833.0 337.4L836.0 337.1L838.9 336.7L841.8 336.3L844.8 336.0L847.7 335.6L850.6 335.2L853.6 334.9L856.5 334.5L859.4 334.2L862.4 333.8L865.3 333.4L868.2 333.1L871.1 332.7L874.1 332.4L877.0 332.0L879.9 331.6L882.8 331.2L885.8 330.9L888.7 330.5L891.6 330.1L894.5 329.7L897.5 329.3L900.4 328.9L903.3 328.5L906.2 328.1L909.2 327.6L912.1 327.2L915.0 326.7L917.9 326.3L920.9 325.8L923.8 325.3L926.7 324.8L929.7 324.3L932.6 323.8L935.5 323.3L938.5 322.8L941.4 322.2L944.3 321.6L947.3 321.1L950.2 320.5L953.1 319.8L956.1 319.2L959.0 318.6L962.0 317.9L964.9 317.2L967.8 316.5L970.7 315.8L973.6 315.0L976.5 314.1L979.4 313.3L982.3 312.4L985.1 311.4L987.9 310.4L990.7 309.4L993.4 308.2L996.2 307.1L998.9 305.8L1001.5 304.5L1004.1 303.1L1006.7 301.6L1009.2 300.1L1011.7 298.5L1014.1 296.8L1016.5 295.1L1018.8 293.2L1021.0 291.3L1023.2 289.4L1025.3 287.3L1027.4 285.2L1029.3 283.1L1031.2 280.8L1033.0 278.5L1034.8 276.1L1036.4 273.7L1038.0 271.3L1039.5 268.7L1041.0 266.2L1042.3 263.6L1043.6 260.9L1044.8 258.2L1046.0 255.5L1047.0 252.8L1048.0 250.0L1049.0 247.2L1049.9 244.4L1050.7 241.6L1051.5 238.7L1052.2 235.8L1052.9 232.9L1053.5 230.0L1054.1 227.0L1054.7 224.1L1055.2 221.1L1055.7 218.1L1056.1 215.2L1056.6 212.2L1057.0 209.2L1057.3 206.2L1057.7 203.2L1058.0 200.2L1058.4 197.2L1058.7 194.2L1059.0 191.2L1059.3 188.2L1059.6 185.2L1059.8 182.2L1060.1 179.3L1060.4 176.3L1060.7 173.4L1060.9 170.4L1061.2 167.5L1061.4 164.6L1061.7 161.6L1061.9 158.7L1062.2 155.8L1062.4 152.8L1062.6 149.9L1062.8 147.0L1063.0 144.1L1063.3 141.2L1063.5 138.2L1063.6 135.3L1063.8 132.4L1064.0 129.5L1064.2 126.5L1064.4 123.6L1064.5 120.7L1064.7 117.7L1064.8 114.8L1065.0 111.9L1065.1 108.9L1065.2 106.0L1065.4 103.0L1065.5 100.0L1065.6 97.1L1065.7 94.1L1065.8 91.1L1065.9 88.1L1066.0 85.1L1066.1 82.1L1066.1 79.0L1066.2 76.0" stroke="#82bb4e" stroke-width="4.0" stroke-dasharray="12 12" stroke-dashoffset="0"/>
<path d="M782.9 344.8L785.5 344.3L788.0 343.8L790.6 343.3L793.1 342.8L795.7 342.3L798.2 341.8L800.8 341.3L803.3 340.8L805.8 340.3L808.4 339.9L810.9 339.4L813.4 338.9L816.0 338.5L818.5 338.0L821.0 337.6L823.5 337.1L826.1 336.6L828.6 336.2L831.1 335.7L833.6 335.2L836.1 334.8L838.6 334.3L841.1 333.8L843.6 333.3L846.1 332.9L848.6 332.4L851.1 331.9L853.6 331.3L856.1 330.8L858.6 330.3L861.1 329.8L863.6 329.2L866.0 328.7L868.5 328.1L871.0 327.5L873.5 326.9L876.0 326.3L878.4 325.7L880.9 325.0L883.4 324.4L885.9 323.7L888.3 323.0L890.8 322.3L893.3 321.6L895.7 320.9L898.2 320.1L900.7 319.3L903.1 318.5L905.6 317.7L908.0 316.9L910.5 316.0L912.9 315.1L915.4 314.2L917.8 313.3L920.2 312.3L922.7 311.3L925.0 310.3L927.4 309.2L929.8 308.1L932.1 307.0L934.4 305.8L936.7 304.5L938.9 303.3L941.1 302.0L943.3 300.6L945.5 299.2L947.6 297.7L949.6 296.2L951.6 294.6L953.6 293.0L955.5 291.3L957.4 289.6L959.2 287.8L961.0 286.0L962.7 284.1L964.4 282.2L966.0 280.2L967.6 278.2L969.1 276.2L970.5 274.1L971.9 271.9L973.3 269.8L974.5 267.5L975.7 265.3L976.9 263.0L978.0 260.7L979.0 258.4L980.0 256.0L980.9 253.6L981.8 251.2L982.7 248.8L983.5 246.4L984.3 243.9L985.1 241.5L985.8 239.0L986.5 236.5L987.2 234.1L987.9 231.6L988.5 229.1L989.2 226.6L989.8 224.1L990.3 221.6L990.9 219.1L991.4 216.6L991.9 214.1L992.4 211.6L992.9 209.1L993.4 206.5L993.8 204.0L994.2 201.5L994.6 199.0L995.0 196.4L995.4 193.9L995.7 191.3L996.1 188.8L996.4 186.2L996.7 183.7L997.0 181.1L997.3 178.6L997.6 176.0L997.8 173.4L998.1 170.9L998.3 168.3L998.5 165.7L998.7 163.2L998.9 160.6L999.1 158.0L999.3 155.5L999.5 152.9L999.7 150.3L999.9 147.7L1000.0 145.2L1000.2 142.6L1000.4 140.0L1000.5 137.4L1000.7 134.9L1000.8 132.3L1000.9 129.7L1001.1 127.1L1001.2 124.6L1001.3 122.0L1001.5 119.4L1001.6 116.8L1001.8 114.3L1001.9 111.7L1002.0 109.1L1002.2 106.6L1002.3 104.0L1002.5 101.5L1002.6 98.9L1002.8 96.3L1002.9 93.8L1003.1 91.2L1003.3 88.7L1003.4 86.1L1003.6 83.6L1003.8 81.1L1004.0 78.5L1004.2 76.0" stroke="#82bb4e" stroke-width="4.0" stroke-dasharray="12 12" stroke-dashoffset="0"/>
<path d="M782.9 344.8L785.0 344.0L787.1 343.1L789.2 342.3L791.3 341.5L793.4 340.7L795.5 339.8L797.5 339.0L799.6 338.2L801.7 337.5L803.8 336.7L805.9 335.9L808.0 335.1L810.1 334.3L812.2 333.5L814.3 332.8L816.4 332.0L818.4 331.2L820.5 330.4L822.6 329.7L824.7 328.9L826.8 328.1L828.9 327.3L831.0 326.5L833.0 325.7L835.1 324.9L837.2 324.1L839.3 323.3L841.3 322.5L843.4 321.6L845.5 320.8L847.6 320.0L849.6 319.1L851.7 318.2L853.8 317.4L855.8 316.5L857.9 315.6L859.9 314.7L862.0 313.7L864.0 312.8L866.1 311.8L868.1 310.9L870.2 309.9L872.2 308.9L874.3 307.8L876.3 306.8L878.3 305.7L880.3 304.6L882.3 303.5L884.2 302.4L886.1 301.2L888.1 300.0L889.9 298.8L891.8 297.5L893.6 296.2L895.4 294.9L897.1 293.5L898.8 292.0L900.5 290.6L902.1 289.1L903.7 287.5L905.2 285.9L906.7 284.3L908.2 282.7L909.6 281.0L911.0 279.2L912.3 277.5L913.6 275.7L914.9 273.8L916.1 272.0L917.3 270.1L918.4 268.2L919.6 266.3L920.7 264.3L921.7 262.3L922.7 260.3L923.7 258.3L924.7 256.3L925.6 254.3L926.6 252.2L927.4 250.1L928.3 248.1L929.1 246.0L929.9 243.9L930.7 241.8L931.5 239.7L932.2 237.6L932.9 235.4L933.6 233.3L934.3 231.2L935.0 229.0L935.6 226.9L936.2 224.8L936.8 222.6L937.4 220.5L937.9 218.3L938.4 216.1L939.0 214.0L939.5 211.8L939.9 209.6L940.4 207.4L940.8 205.2L941.3 203.0L941.7 200.9L942.1 198.7L942.5 196.5L942.8 194.3L943.2 192.0L943.5 189.8L943.9 187.6L944.2 185.4L944.5 183.2L944.8 181.0L945.1 178.7L945.3 176.5L945.6 174.3L945.9 172.1L946.1 169.8L946.3 167.6L946.6 165.4L946.8 163.1L947.0 160.9L947.2 158.6L947.4 156.4L947.6 154.2L947.7 151.9L947.9 149.7L948.1 147.4L948.3 145.2L948.4 142.9L948.6 140.7L948.7 138.4L948.9 136.2L949.0 133.9L949.2 131.7L949.3 129.5L949.5 127.2L949.6 125.0L949.8 122.7L949.9 120.5L950.0 118.2L950.2 116.0L950.3 113.8L950.5 111.5L950.6 109.3L950.8 107.1L950.9 104.8L951.1 102.6L951.3 100.4L951.4 98.1L951.6 95.9L951.8 93.7L952.0 91.5L952.1 89.2L952.3 87.0L952.5 84.8L952.7 82.6L953.0 80.4L953.2 78.2L953.4 76.0" stroke="#82bb4e" stroke-width="4.0" stroke-dasharray="12 12" stroke-dashoffset="0"/>
<path d="M782.9 344.8L784.7 343.8L786.5 342.8L788.3 341.8L790.1 340.8L792.0 339.8L793.8 338.8L795.6 337.8L797.5 336.9L799.3 335.9L801.2 335.0L803.1 334.0L804.9 333.1L806.8 332.1L808.7 331.2L810.6 330.2L812.4 329.3L814.3 328.4L816.2 327.4L818.1 326.5L820.0 325.5L821.8 324.6L823.7 323.6L825.6 322.7L827.5 321.7L829.3 320.7L831.2 319.8L833.0 318.8L834.9 317.8L836.7 316.8L838.6 315.8L840.4 314.7L842.2 313.7L844.0 312.7L845.8 311.6L847.6 310.5L849.4 309.5L851.1 308.4L852.9 307.2L854.6 306.1L856.4 305.0L858.1 303.8L859.8 302.6L861.4 301.4L863.1 300.2L864.7 298.9L866.4 297.6L867.9 296.3L869.5 294.9L871.0 293.5L872.5 292.1L874.0 290.6L875.4 289.1L876.8 287.5L878.2 286.0L879.5 284.3L880.8 282.7L882.1 281.0L883.4 279.3L884.6 277.6L885.9 275.9L887.0 274.1L888.2 272.4L889.4 270.6L890.5 268.9L891.7 267.1L892.8 265.4L893.9 263.6L894.9 261.8L896.0 260.1L896.9 258.3L897.8 256.4L898.7 254.5L899.5 252.6L900.2 250.7L900.9 248.7L901.6 246.8L902.3 244.8L902.9 242.8L903.6 240.8L904.2 238.8L904.8 236.8L905.4 234.8L906.0 232.8L906.6 230.8L907.2 228.8L907.7 226.8L908.3 224.8L908.8 222.8L909.4 220.8L909.9 218.7L910.4 216.7L910.9 214.7L911.4 212.7L911.9 210.6L912.4 208.6L912.9 206.6L913.3 204.5L913.8 202.5L914.2 200.4L914.7 198.4L915.1 196.4L915.5 194.3L915.9 192.3L916.3 190.2L916.7 188.2L917.1 186.1L917.4 184.0L917.8 182.0L918.1 179.9L918.5 177.9L918.8 175.8L919.1 173.7L919.4 171.7L919.7 169.6L920.0 167.5L920.3 165.5L920.6 163.4L920.9 161.3L921.1 159.3L921.4 157.2L921.6 155.1L921.9 153.0L922.1 151.0L922.3 148.9L922.5 146.8L922.7 144.7L922.9 142.6L923.1 140.6L923.3 138.5L923.5 136.4L923.7 134.3L923.8 132.2L924.0 130.2L924.2 128.1L924.3 126.0L924.5 123.9L924.6 121.8L924.8 119.7L924.9 117.7L925.1 115.6L925.2 113.5L925.3 111.4L925.5 109.3L925.6 107.2L925.8 105.2L925.9 103.1L926.0 101.0L926.2 98.9L926.3 96.8L926.5 94.7L926.6 92.7L926.8 90.6L926.9 88.5L927.1 86.4L927.3 84.3L927.5 82.2L927.6 80.2L927.8 78.1L928.0 76.0" stroke="#82bb4e" stroke-width="4.0" stroke-dasharray="12 12" stroke-dashoffset="0"/>
<path d="M782.9 344.8L784.5 343.7L786.1 342.7L787.7 341.6L789.3 340.5L790.9 339.4L792.5 338.4L794.1 337.3L795.8 336.2L797.4 335.1L799.0 334.1L800.6 333.0L802.3 331.9L803.9 330.8L805.5 329.7L807.1 328.6L808.8 327.5L810.4 326.3L812.0 325.2L813.6 324.1L815.2 322.9L816.7 321.8L818.3 320.6L819.9 319.4L821.4 318.2L823.0 317.0L824.5 315.8L826.0 314.5L827.5 313.3L828.9 312.0L830.4 310.7L831.8 309.4L833.3 308.1L834.7 306.8L836.1 305.4L837.4 304.0L838.8 302.7L840.1 301.3L841.4 299.9L842.7 298.4L844.0 297.0L845.2 295.5L846.4 294.0L847.6 292.5L848.8 291.0L850.0 289.5L851.1 287.9L852.2 286.4L853.3 284.8L854.3 283.2L855.4 281.6L856.4 279.9L857.4 278.3L858.3 276.6L859.3 274.9L860.2 273.2L861.1 271.5L862.0 269.8L862.9 268.1L863.7 266.3L864.6 264.6L865.4 262.8L866.2 261.0L866.9 259.3L867.7 257.5L868.4 255.7L869.2 253.9L869.9 252.0L870.6 250.2L871.2 248.4L871.9 246.5L872.6 244.7L873.2 242.8L873.8 241.0L874.4 239.1L875.0 237.2L875.6 235.4L876.2 233.5L876.7 231.6L877.3 229.7L877.8 227.8L878.4 226.0L878.9 224.1L879.4 222.2L879.9 220.3L880.4 218.4L880.8 216.5L881.3 214.6L881.8 212.7L882.2 210.8L882.7 208.9L883.1 207.0L883.5 205.1L883.9 203.2L884.4 201.3L884.8 199.4L885.1 197.5L885.5 195.6L885.9 193.7L886.3 191.8L886.6 189.9L887.0 188.0L887.3 186.1L887.7 184.2L888.0 182.3L888.3 180.3L888.6 178.4L888.9 176.5L889.2 174.6L889.5 172.7L889.8 170.8L890.1 168.9L890.4 166.9L890.6 165.0L890.9 163.1L891.1 161.2L891.4 159.3L891.6 157.3L891.9 155.4L892.1 153.5L892.3 151.6L892.6 149.6L892.8 147.7L893.0 145.8L893.2 143.9L893.4 141.9L893.6 140.0L893.8 138.1L894.0 136.1L894.2 134.2L894.3 132.3L894.5 130.3L894.7 128.4L894.8 126.5L895.0 124.5L895.2 122.6L895.3 120.7L895.5 118.7L895.6 116.8L895.8 114.9L895.9 112.9L896.0 111.0L896.2 109.0L896.3 107.1L896.5 105.2L896.6 103.2L896.7 101.3L896.8 99.3L897.0 97.4L897.1 95.4L897.2 93.5L897.3 91.6L897.4 89.6L897.5 87.7L897.6 85.7L897.8 83.8L897.9 81.8L898.0 79.9L898.1 77.9L898.2 76.0" stroke="#82bb4e" stroke-width="4.0" stroke-dasharray="12 12" stroke-dashoffset="0"/>
<path d="M782.9 344.8L784.1 343.4L785.3 342.1L786.5 340.7L787.7 339.3L788.8 337.9L790.0 336.5L791.1 335.1L792.2 333.7L793.4 332.3L794.5 330.8L795.6 329.4L796.7 327.9L797.7 326.5L798.8 325.0L799.9 323.6L800.9 322.1L802.0 320.6L803.0 319.1L804.0 317.6L805.0 316.1L806.0 314.6L807.0 313.1L808.0 311.6L808.9 310.1L809.9 308.6L810.8 307.0L811.7 305.5L812.7 303.9L813.6 302.4L814.5 300.8L815.4 299.3L816.2 297.7L817.1 296.1L817.9 294.5L818.8 292.9L819.6 291.3L820.4 289.7L821.2 288.1L822.0 286.5L822.8 284.9L823.6 283.3L824.4 281.7L825.1 280.0L825.9 278.4L826.6 276.7L827.3 275.1L828.1 273.4L828.8 271.8L829.5 270.1L830.1 268.5L830.8 266.8L831.5 265.1L832.1 263.4L832.8 261.8L833.4 260.1L834.1 258.4L834.7 256.7L835.3 255.0L835.9 253.3L836.5 251.6L837.1 249.9L837.7 248.2L838.2 246.5L838.8 244.8L839.3 243.1L839.9 241.3L840.4 239.6L841.0 237.9L841.5 236.2L842.0 234.4L842.5 232.7L843.0 231.0L843.5 229.2L844.0 227.5L844.5 225.8L844.9 224.0L845.4 222.3L845.9 220.5L846.3 218.8L846.8 217.0L847.2 215.3L847.6 213.5L848.1 211.8L848.5 210.0L848.9 208.3L849.3 206.5L849.7 204.8L850.1 203.0L850.5 201.2L850.9 199.5L851.3 197.7L851.6 195.9L852.0 194.2L852.4 192.4L852.7 190.6L853.1 188.9L853.4 187.1L853.8 185.3L854.1 183.5L854.4 181.8L854.7 180.0L855.1 178.2L855.4 176.4L855.7 174.6L856.0 172.9L856.3 171.1L856.6 169.3L856.9 167.5L857.1 165.7L857.4 163.9L857.7 162.1L858.0 160.4L858.2 158.6L858.5 156.8L858.7 155.0L859.0 153.2L859.2 151.4L859.5 149.6L859.7 147.8L860.0 146.0L860.2 144.2L860.4 142.4L860.6 140.6L860.8 138.9L861.1 137.1L861.3 135.3L861.5 133.5L861.7 131.7L861.9 129.9L862.1 128.1L862.3 126.3L862.5 124.5L862.7 122.7L862.8 120.9L863.0 119.1L863.2 117.3L863.4 115.5L863.6 113.7L863.7 111.9L863.9 110.1L864.1 108.3L864.2 106.5L864.4 104.7L864.5 102.9L864.7 101.1L864.8 99.3L865.0 97.5L865.1 95.7L865.3 93.9L865.4 92.1L865.6 90.3L865.7 88.5L865.8 86.8L866.0 85.0L866.1 83.2L866.2 81.4L866.4 79.6L866.5 77.8L866.6 76.0" stroke="#82bb4e" stroke-width="4.0" stroke-dasharray="12 12" stroke-dashoffset="0"/>
</g>
<path d="M1196.00 269.40L834.56 158.00" stroke="#000" stroke-width="1.5" fill="none"/><path d="M816.40 152.40L844.54 150.72L834.56 158.00L838.71 169.64Z" fill="#000"/>
<text class="it" transform="translate(816.8 139) scale(1.1 1)" font-size="36">T</text>
<g clip-path="url(#cp11)" fill="none" stroke-linejoin="round">
<path d="M782.9 711.7H1165.7" stroke="#000" stroke-width="4.1"/>
<path d="M782.9 696.9H1122.4" stroke="#000" stroke-width="4.1"/>
<path d="M782.9 664H1074.4" stroke="#000" stroke-width="4.1"/>
<path d="M782.9 510.4H1013" stroke="#000" stroke-width="4.1"/>
<path d="M782.9 718.0L787.9 718.0L792.9 718.0L797.9 718.0L802.9 717.9L807.9 717.9L812.9 717.9L817.9 717.9L822.9 717.8L827.9 717.8L832.9 717.8L837.9 717.7L842.9 717.7L847.9 717.6L852.9 717.6L857.9 717.5L862.9 717.4L867.9 717.4L872.9 717.3L877.9 717.2L882.9 717.1L887.9 717.0L892.9 716.9L897.9 716.8L902.9 716.7L907.9 716.6L912.9 716.5L917.9 716.4L922.9 716.2L927.9 716.1L932.9 716.0L937.9 715.8L942.9 715.6L947.9 715.5L952.9 715.3L957.9 715.1L962.9 714.9L967.9 714.7L972.9 714.5L977.9 714.3L982.9 714.0L987.9 713.8L992.9 713.6L997.9 713.3L1002.8 713.0L1007.8 712.8L1012.8 712.5L1017.8 712.2L1022.8 711.9L1027.8 711.6L1032.8 711.2L1037.8 710.9L1042.8 710.6L1047.7 710.2L1052.7 709.8L1057.7 709.5L1062.7 709.1L1067.7 708.7L1072.7 708.2L1077.6 707.8L1082.6 707.4L1087.6 706.9L1092.6 706.5L1097.6 706.0L1102.5 705.5L1107.5 705.0L1112.5 704.5L1117.4 703.9L1122.4 703.4L1127.4 702.8L1132.4 702.3L1137.3 701.7L1142.3 701.1L1147.2 700.4L1152.2 699.8L1157.2 699.2L1162.1 698.5L1167.1 697.8L1172.0 697.1L1177.0 696.4L1177.0 696.4L1178.3 696.6L1179.7 696.8L1181.0 697.0L1182.4 697.2L1183.7 697.4L1185.1 697.6L1186.4 697.8L1187.8 697.9L1189.1 698.1L1190.5 698.3L1191.8 698.5L1193.2 698.6L1194.6 698.8L1195.9 699.0L1197.3 699.1L1198.6 699.3L1200.0 699.4L1201.3 699.6L1202.7 699.8L1204.0 699.9L1205.4 700.1L1206.7 700.2L1208.1 700.4L1209.4 700.5L1210.8 700.6L1212.1 700.8L1213.5 700.9L1214.9 701.1L1216.2 701.2L1217.6 701.3L1218.9 701.5L1220.3 701.6L1221.6 701.8L1223.0 701.9L1224.3 702.0L1225.7 702.2L1227.1 702.3L1228.4 702.4L1229.8 702.5L1231.1 702.7L1232.5 702.8L1233.8 702.9L1235.2 703.0L1236.5 703.2L1237.9 703.3L1239.3 703.4L1240.6 703.5L1242.0 703.7L1243.3 703.8L1244.7 703.9L1246.0 704.0L1247.4 704.2L1248.8 704.3L1250.1 704.4L1251.5 704.5L1252.8 704.7L1254.2 704.8L1255.5 704.9L1256.9 705.0L1258.2 705.2L1259.6 705.3L1261.0 705.4L1262.3 705.5L1263.7 705.7L1265.0 705.8L1266.4 705.9L1267.7 706.1L1269.1 706.2L1270.5 706.3L1271.8 706.5L1273.2 706.6L1274.5 706.7L1275.9 706.9L1277.2 707.0L1278.6 707.1L1279.9 707.3L1281.3 707.4L1282.6 707.6L1284.0 707.7" stroke="#82bb4e" stroke-width="4.0" stroke-dasharray="12 12" stroke-dashoffset="0"/>
<path d="M782.9 703.4L787.3 703.4L791.7 703.4L796.1 703.4L800.6 703.4L805.0 703.4L809.4 703.3L813.8 703.3L818.2 703.2L822.6 703.2L827.0 703.1L831.5 703.1L835.9 703.0L840.3 702.9L844.7 702.8L849.1 702.7L853.5 702.6L857.9 702.5L862.3 702.3L866.8 702.2L871.2 702.1L875.6 701.9L880.0 701.8L884.4 701.6L888.8 701.4L893.2 701.3L897.6 701.1L902.0 700.9L906.5 700.7L910.9 700.5L915.3 700.3L919.7 700.1L924.1 699.9L928.5 699.7L932.9 699.5L937.3 699.2L941.7 699.0L946.1 698.8L950.5 698.5L954.9 698.3L959.3 698.0L963.8 697.7L968.2 697.5L972.6 697.2L977.0 696.9L981.4 696.7L985.8 696.4L990.2 696.1L994.6 695.8L999.0 695.5L1003.4 695.2L1007.8 694.9L1012.2 694.6L1016.6 694.3L1021.0 694.0L1025.4 693.7L1029.8 693.3L1034.2 693.0L1038.6 692.7L1043.0 692.4L1047.4 692.0L1051.8 691.7L1056.2 691.4L1060.6 691.0L1065.0 690.7L1069.4 690.3L1073.8 690.0L1078.2 689.6L1082.6 689.3L1087.0 688.9L1091.4 688.6L1095.8 688.2L1100.2 687.9L1104.6 687.5L1109.0 687.2L1113.4 686.8L1117.8 686.4L1122.2 686.1L1126.6 685.7L1131.0 685.4L1131.0 685.4L1132.9 685.9L1134.8 686.4L1136.7 686.8L1138.6 687.3L1140.5 687.8L1142.4 688.2L1144.3 688.7L1146.2 689.1L1148.1 689.5L1150.1 689.9L1152.0 690.3L1153.9 690.7L1155.8 691.1L1157.7 691.5L1159.7 691.9L1161.6 692.2L1163.5 692.6L1165.4 692.9L1167.3 693.3L1169.3 693.6L1171.2 693.9L1173.1 694.2L1175.1 694.5L1177.0 694.8L1178.9 695.1L1180.9 695.4L1182.8 695.7L1184.7 696.0L1186.7 696.3L1188.6 696.5L1190.6 696.8L1192.5 697.1L1194.4 697.3L1196.4 697.6L1198.3 697.8L1200.3 698.0L1202.2 698.3L1204.1 698.5L1206.1 698.7L1208.0 699.0L1210.0 699.2L1211.9 699.4L1213.9 699.6L1215.8 699.8L1217.8 700.0L1219.7 700.2L1221.7 700.4L1223.6 700.6L1225.6 700.8L1227.5 701.0L1229.5 701.2L1231.4 701.4L1233.4 701.6L1235.3 701.8L1237.3 702.0L1239.2 702.2L1241.2 702.4L1243.1 702.6L1245.1 702.8L1247.0 702.9L1249.0 703.1L1250.9 703.3L1252.9 703.5L1254.8 703.7L1256.8 703.9L1258.7 704.1L1260.7 704.3L1262.6 704.5L1264.6 704.7L1266.5 704.9L1268.4 705.1L1270.4 705.3L1272.3 705.5L1274.3 705.7L1276.2 705.9L1278.2 706.1L1280.1 706.4L1282.1 706.6L1284.0 706.8" stroke="#82bb4e" stroke-width="4.0" stroke-dasharray="12 12" stroke-dashoffset="0"/>
<path d="M782.9 668.6L786.6 668.6L790.3 668.7L794.0 668.7L797.7 668.7L801.4 668.7L805.1 668.7L808.7 668.6L812.4 668.6L816.1 668.6L819.8 668.5L823.5 668.5L827.2 668.4L830.9 668.4L834.6 668.3L838.3 668.2L842.0 668.1L845.7 668.0L849.3 667.9L853.0 667.8L856.7 667.7L860.4 667.6L864.1 667.5L867.8 667.3L871.5 667.2L875.2 667.0L878.8 666.9L882.5 666.7L886.2 666.6L889.9 666.4L893.6 666.2L897.3 666.1L901.0 665.9L904.7 665.7L908.3 665.5L912.0 665.3L915.7 665.1L919.4 664.9L923.1 664.7L926.8 664.5L930.4 664.3L934.1 664.0L937.8 663.8L941.5 663.6L945.2 663.3L948.9 663.1L952.5 662.9L956.2 662.6L959.9 662.4L963.6 662.1L967.3 661.9L971.0 661.6L974.6 661.4L978.3 661.1L982.0 660.8L985.7 660.6L989.4 660.3L993.1 660.0L996.7 659.8L1000.4 659.5L1004.1 659.2L1007.8 658.9L1011.5 658.7L1015.1 658.4L1018.8 658.1L1022.5 657.8L1026.2 657.5L1029.9 657.3L1033.5 657.0L1037.2 656.7L1040.9 656.4L1044.6 656.1L1048.3 655.8L1051.9 655.5L1055.6 655.3L1059.3 655.0L1063.0 654.7L1066.6 654.4L1070.3 654.1L1074.0 653.8L1074.0 653.9L1076.2 655.6L1078.5 657.3L1080.8 658.9L1083.1 660.5L1085.5 662.1L1087.8 663.6L1090.2 665.0L1092.6 666.4L1095.0 667.8L1097.4 669.1L1099.9 670.4L1102.3 671.6L1104.8 672.8L1107.3 673.9L1109.8 675.1L1112.3 676.1L1114.9 677.2L1117.4 678.2L1120.0 679.2L1122.6 680.1L1125.2 681.0L1127.8 681.9L1130.4 682.7L1133.0 683.5L1135.7 684.3L1138.3 685.0L1141.0 685.8L1143.7 686.5L1146.3 687.1L1149.0 687.8L1151.7 688.4L1154.4 689.0L1157.2 689.6L1159.9 690.1L1162.6 690.7L1165.3 691.2L1168.1 691.7L1170.8 692.1L1173.6 692.6L1176.3 693.1L1179.1 693.5L1181.8 693.9L1184.6 694.3L1187.4 694.7L1190.1 695.1L1192.9 695.5L1195.7 695.8L1198.4 696.2L1201.2 696.5L1204.0 696.8L1206.8 697.2L1209.5 697.5L1212.3 697.8L1215.1 698.1L1217.9 698.4L1220.6 698.7L1223.4 699.0L1226.2 699.3L1229.0 699.6L1231.7 699.9L1234.5 700.2L1237.3 700.5L1240.1 700.8L1242.8 701.1L1245.6 701.4L1248.4 701.7L1251.1 702.0L1253.9 702.3L1256.6 702.6L1259.4 702.9L1262.1 703.2L1264.9 703.5L1267.6 703.8L1270.4 704.2L1273.1 704.5L1275.8 704.9L1278.5 705.3L1281.3 705.6L1284.0 706.0" stroke="#82bb4e" stroke-width="4.0" stroke-dasharray="12 12" stroke-dashoffset="0"/>
<path d="M782.9 513.6L790.6 513.7L798.3 513.7L806.0 513.7L813.7 513.6L821.5 513.5L829.2 513.3L837.0 513.1L844.7 512.9L852.5 512.6L860.2 512.3L868.0 512.0L875.7 511.6L883.5 511.2L891.2 510.8L898.9 510.4L906.6 510.0L914.4 509.5L922.0 509.0L929.7 508.5L937.4 508.0L945.0 507.5L952.7 507.0L960.3 506.5L967.9 506.0L975.5 505.4L983.4 504.6L991.5 503.4L999.6 502.6L1006.9 503.7L1012.0 508.4L1015.3 515.3L1017.7 522.6L1019.6 530.1L1021.1 537.7L1022.6 545.3L1024.0 553.0L1025.6 560.6L1027.3 568.2L1029.2 575.8L1031.3 583.3L1033.6 590.7L1036.2 597.9L1039.2 605.0L1042.5 612.0L1046.2 618.7L1050.3 625.2L1054.8 631.5L1059.7 637.5L1065.0 643.2L1070.6 648.5L1076.5 653.6L1082.6 658.3L1089.0 662.7L1095.6 666.6L1102.5 670.2L1109.5 673.4L1116.6 676.2L1123.9 678.8L1131.3 681.1L1138.8 683.1L1146.3 685.0L1153.9 686.7L1161.5 688.2L1169.1 689.7L1176.8 691.0L1184.4 692.3L1192.0 693.5L1199.7 694.6L1207.3 695.6L1214.9 696.6L1222.6 697.6L1230.2 698.5L1237.9 699.5L1245.6 700.4L1253.2 701.3L1260.9 702.2L1268.6 703.1L1276.3 704.0L1284.0 705.0" stroke="#82bb4e" stroke-width="4.0" stroke-dasharray="12 12" stroke-dashoffset="0"/>
</g>
<path d="M957.50 725.40L882.92 498.05" stroke="#000" stroke-width="1.5" fill="none"/><path d="M877.00 480.00L894.64 502.00L882.92 498.05L875.82 508.17Z" fill="#000"/>
<text class="it" transform="translate(842.8 497) scale(1.1 1)" font-size="36">T</text>
<g clip-path="url(#cp21)" fill="none" stroke-linejoin="round">
<path d="M782.9 1100.2L786.8 1100.2L790.6 1100.2L794.5 1100.2L798.4 1100.3L802.2 1100.3L806.1 1100.3L810.0 1100.3L813.9 1100.3L817.8 1100.3L821.7 1100.3L825.6 1100.3L829.5 1100.3L833.4 1100.3L837.3 1100.3L841.2 1100.3L845.2 1100.3L849.1 1100.3L853.0 1100.3L857.0 1100.3L860.9 1100.3L864.8 1100.3L868.8 1100.3L872.7 1100.3L876.6 1100.3L880.6 1100.3L884.5 1100.3L888.5 1100.3L892.4 1100.3L896.4 1100.3L900.3 1100.2L904.3 1100.2L908.2 1100.2L912.2 1100.2L916.1 1100.2L920.1 1100.2L924.1 1100.1L928.0 1100.1L932.0 1100.1L935.9 1100.1L939.9 1100.1L943.8 1100.0L947.8 1100.0L951.8 1100.0L955.7 1100.0L959.7 1099.9L963.6 1099.9L967.6 1099.9L971.5 1099.9L975.5 1099.8L979.4 1099.8L983.4 1099.8L987.3 1099.7L991.3 1099.7L995.2 1099.7L999.1 1099.6L1003.1 1099.6L1007.0 1099.6L1010.9 1099.5L1014.9 1099.5L1018.8 1099.4L1022.7 1099.4L1026.7 1099.4L1030.6 1099.3L1034.5 1099.3L1038.4 1099.2L1042.3 1099.2L1046.2 1099.1L1050.1 1099.1L1054.0 1099.0L1057.9 1099.0L1061.8 1098.9L1065.7 1098.9L1069.5 1098.8L1073.4 1098.8L1077.3 1098.7L1081.2 1098.6L1085.1 1098.4L1089.0 1098.3L1092.9 1098.1L1096.8 1097.9L1100.7 1097.6L1104.6 1097.3L1108.5 1096.9L1112.5 1096.5L1116.5 1096.0L1120.4 1095.5L1124.4 1094.9L1128.5 1094.2L1132.4 1093.4L1136.3 1092.4L1140.1 1091.2L1143.7 1089.7L1147.0 1087.9L1150.1 1085.7L1152.8 1083.1L1155.2 1080.1L1157.1 1076.8L1158.7 1073.2L1159.9 1069.5L1160.9 1065.6L1161.7 1061.7L1162.4 1057.8L1162.9 1053.9L1163.3 1050.0L1163.6 1046.1L1163.8 1042.2L1164.0 1038.2L1164.0 1034.3L1164.1 1030.4L1164.0 1026.4L1164.0 1022.5L1164.0 1018.5L1164.0 1014.6L1164.0 1010.7L1164.0 1006.7L1164.0 1002.8L1164.1 998.9L1164.1 994.9L1164.2 991.0L1164.2 987.1L1164.3 983.2L1164.4 979.2L1164.5 975.3L1164.5 971.4L1164.6 967.5L1164.7 963.5L1164.8 959.6L1164.9 955.7L1165.0 951.8L1165.1 947.9L1165.2 944.0L1165.3 940.0L1165.3 936.1L1165.4 932.2L1165.5 928.3L1165.5 924.3L1165.6 920.4L1165.6 916.5L1165.6 912.6L1165.7 908.6L1165.7 904.7L1165.7 900.8L1165.7 896.8L1165.7 892.9L1165.7 889.0L1165.7 885.0L1165.7 881.1L1165.7 877.2L1165.7 873.3L1165.7 869.3L1165.7 865.4L1165.7 861.5L1165.7 857.5L1165.8 853.6L1165.8 849.7L1165.9 845.8L1165.9 841.8L1166.0 837.9L1166.1 834.0" stroke="#000" stroke-width="4.1"/>
<path d="M782.9 1098.8L786.5 1098.8L790.1 1098.8L793.7 1098.8L797.3 1098.7L800.9 1098.7L804.5 1098.7L808.1 1098.7L811.8 1098.7L815.4 1098.7L819.0 1098.7L822.6 1098.7L826.2 1098.7L829.8 1098.7L833.4 1098.7L837.0 1098.7L840.7 1098.7L844.3 1098.6L847.9 1098.6L851.5 1098.6L855.1 1098.6L858.7 1098.6L862.3 1098.6L866.0 1098.6L869.6 1098.6L873.2 1098.6L876.8 1098.6L880.4 1098.5L884.0 1098.5L887.7 1098.5L891.3 1098.5L894.9 1098.5L898.5 1098.5L902.1 1098.4L905.7 1098.4L909.4 1098.4L913.0 1098.4L916.6 1098.3L920.2 1098.3L923.8 1098.3L927.4 1098.2L931.1 1098.2L934.7 1098.1L938.3 1098.1L941.9 1098.1L945.5 1098.0L949.1 1098.0L952.7 1097.9L956.3 1097.8L960.0 1097.8L963.6 1097.7L967.2 1097.6L970.8 1097.6L974.4 1097.5L978.0 1097.4L981.6 1097.3L985.2 1097.3L988.8 1097.2L992.4 1097.1L996.0 1097.0L999.6 1096.9L1003.2 1096.8L1006.8 1096.7L1010.4 1096.5L1014.0 1096.4L1017.6 1096.3L1021.2 1096.2L1024.8 1096.0L1028.4 1095.9L1032.0 1095.8L1035.6 1095.6L1039.2 1095.5L1042.8 1095.4L1046.4 1095.3L1050.1 1095.2L1053.7 1095.1L1057.4 1095.0L1061.0 1094.9L1064.7 1094.8L1068.3 1094.5L1072.0 1094.2L1075.7 1093.7L1079.3 1093.1L1082.9 1092.2L1086.4 1091.2L1089.8 1090.0L1093.1 1088.6L1096.2 1086.9L1099.2 1085.0L1101.9 1082.9L1104.3 1080.5L1106.5 1077.8L1108.5 1074.9L1110.1 1071.8L1111.6 1068.5L1112.9 1065.1L1114.0 1061.6L1114.9 1058.0L1115.6 1054.4L1116.2 1050.8L1116.8 1047.1L1117.2 1043.5L1117.5 1039.8L1117.8 1036.2L1118.0 1032.5L1118.2 1028.9L1118.5 1025.3L1118.6 1021.7L1118.8 1018.0L1119.0 1014.4L1119.2 1010.8L1119.3 1007.2L1119.4 1003.6L1119.6 1000.0L1119.7 996.4L1119.8 992.8L1119.9 989.3L1120.0 985.7L1120.1 982.1L1120.2 978.5L1120.3 974.9L1120.4 971.3L1120.4 967.7L1120.5 964.1L1120.6 960.5L1120.7 956.9L1120.7 953.3L1120.8 949.7L1120.8 946.1L1120.9 942.4L1121.0 938.8L1121.0 935.2L1121.1 931.6L1121.1 928.0L1121.2 924.4L1121.2 920.7L1121.3 917.1L1121.3 913.5L1121.4 909.9L1121.4 906.3L1121.5 902.6L1121.5 899.0L1121.6 895.4L1121.6 891.8L1121.7 888.2L1121.7 884.5L1121.8 880.9L1121.8 877.3L1121.9 873.7L1121.9 870.1L1122.0 866.5L1122.0 862.8L1122.1 859.2L1122.1 855.6L1122.2 852.0L1122.2 848.4L1122.3 844.8L1122.4 841.2L1122.4 837.6L1122.5 834.0" stroke="#000" stroke-width="4.1"/>
<path d="M782.9 1096.2L786.1 1096.2L789.4 1096.3L792.6 1096.3L795.9 1096.3L799.1 1096.3L802.4 1096.3L805.6 1096.3L808.8 1096.3L812.1 1096.3L815.3 1096.3L818.6 1096.3L821.8 1096.3L825.0 1096.3L828.2 1096.3L831.5 1096.2L834.7 1096.2L837.9 1096.2L841.2 1096.2L844.4 1096.1L847.6 1096.1L850.8 1096.0L854.1 1096.0L857.3 1095.9L860.5 1095.9L863.7 1095.8L867.0 1095.8L870.2 1095.7L873.4 1095.7L876.6 1095.6L879.9 1095.6L883.1 1095.5L886.3 1095.4L889.5 1095.4L892.8 1095.3L896.0 1095.3L899.2 1095.2L902.4 1095.1L905.7 1095.1L908.9 1095.0L912.1 1094.9L915.3 1094.9L918.6 1094.8L921.8 1094.7L925.0 1094.7L928.3 1094.6L931.5 1094.5L934.7 1094.5L938.0 1094.4L941.2 1094.4L944.4 1094.3L947.7 1094.2L950.9 1094.2L954.1 1094.1L957.4 1094.1L960.6 1094.0L963.9 1094.0L967.1 1093.9L970.4 1093.9L973.6 1093.8L976.8 1093.7L980.1 1093.6L983.3 1093.4L986.6 1093.2L989.8 1093.0L993.0 1092.7L996.2 1092.4L999.4 1092.1L1002.7 1091.6L1005.9 1091.1L1009.0 1090.6L1012.2 1090.0L1015.4 1089.2L1018.6 1088.4L1021.7 1087.6L1024.9 1086.6L1028.0 1085.5L1031.0 1084.3L1034.0 1083.0L1036.9 1081.6L1039.7 1080.0L1042.4 1078.3L1045.0 1076.4L1047.4 1074.4L1049.7 1072.2L1051.9 1069.9L1053.9 1067.4L1055.7 1064.9L1057.4 1062.2L1058.9 1059.4L1060.2 1056.5L1061.3 1053.6L1062.4 1050.6L1063.2 1047.4L1063.9 1044.3L1064.6 1041.1L1065.1 1037.8L1065.5 1034.6L1065.9 1031.3L1066.2 1028.0L1066.5 1024.6L1066.7 1021.3L1066.9 1018.1L1067.1 1014.8L1067.3 1011.5L1067.5 1008.3L1067.6 1005.0L1067.8 1001.8L1067.9 998.6L1068.0 995.4L1068.1 992.1L1068.2 988.9L1068.3 985.7L1068.4 982.5L1068.5 979.3L1068.6 976.1L1068.7 972.9L1068.8 969.7L1068.9 966.5L1068.9 963.3L1069.0 960.1L1069.1 956.9L1069.2 953.7L1069.3 950.4L1069.4 947.2L1069.4 944.0L1069.5 940.8L1069.6 937.5L1069.7 934.3L1069.8 931.1L1069.9 927.8L1069.9 924.6L1070.0 921.4L1070.1 918.1L1070.2 914.9L1070.3 911.6L1070.3 908.4L1070.4 905.1L1070.5 901.9L1070.6 898.7L1070.7 895.4L1070.7 892.2L1070.8 888.9L1070.9 885.7L1070.9 882.4L1071.0 879.2L1071.1 876.0L1071.1 872.7L1071.2 869.5L1071.2 866.2L1071.3 863.0L1071.4 859.8L1071.4 856.5L1071.5 853.3L1071.5 850.1L1071.5 846.9L1071.6 843.6L1071.6 840.4L1071.7 837.2L1071.7 834.0" stroke="#000" stroke-width="4.1"/>
<path d="M782.9 1092.7L785.7 1092.8L788.5 1092.8L791.3 1092.8L794.1 1092.8L796.8 1092.8L799.6 1092.8L802.4 1092.8L805.2 1092.8L807.9 1092.8L810.7 1092.7L813.5 1092.7L816.3 1092.6L819.0 1092.5L821.8 1092.5L824.5 1092.4L827.3 1092.3L830.1 1092.2L832.8 1092.1L835.6 1091.9L838.3 1091.8L841.1 1091.7L843.8 1091.6L846.6 1091.4L849.4 1091.3L852.1 1091.1L854.9 1091.0L857.6 1090.8L860.4 1090.6L863.1 1090.5L865.9 1090.3L868.6 1090.1L871.4 1089.9L874.2 1089.8L876.9 1089.6L879.7 1089.4L882.5 1089.2L885.2 1089.0L888.0 1088.8L890.8 1088.6L893.5 1088.5L896.3 1088.3L899.1 1088.1L901.9 1087.9L904.7 1087.7L907.4 1087.5L910.2 1087.3L913.0 1087.1L915.8 1086.9L918.6 1086.6L921.4 1086.3L924.1 1086.0L926.9 1085.7L929.7 1085.4L932.4 1085.0L935.2 1084.6L937.9 1084.1L940.6 1083.6L943.4 1083.1L946.1 1082.5L948.8 1081.9L951.5 1081.2L954.1 1080.4L956.8 1079.6L959.4 1078.7L962.0 1077.7L964.6 1076.7L967.2 1075.6L969.7 1074.4L972.2 1073.1L974.6 1071.8L976.8 1070.3L979.0 1068.7L981.1 1067.0L983.1 1065.1L984.9 1063.2L986.6 1061.1L988.2 1058.9L989.7 1056.5L991.0 1054.1L992.2 1051.7L993.4 1049.1L994.4 1046.5L995.4 1043.9L996.3 1041.2L997.1 1038.5L997.8 1035.8L998.5 1033.0L999.1 1030.3L999.7 1027.6L1000.2 1024.8L1000.6 1022.1L1001.1 1019.3L1001.5 1016.6L1001.8 1013.8L1002.2 1011.1L1002.5 1008.3L1002.7 1005.5L1003.0 1002.8L1003.3 1000.0L1003.5 997.2L1003.7 994.5L1004.0 991.7L1004.2 989.0L1004.4 986.2L1004.7 983.4L1004.9 980.7L1005.2 977.9L1005.4 975.2L1005.6 972.4L1005.9 969.7L1006.1 966.9L1006.3 964.2L1006.5 961.4L1006.7 958.7L1006.9 955.9L1007.1 953.1L1007.2 950.4L1007.4 947.6L1007.6 944.9L1007.7 942.1L1007.8 939.3L1008.0 936.6L1008.1 933.8L1008.2 931.0L1008.3 928.3L1008.4 925.5L1008.5 922.7L1008.5 919.9L1008.6 917.2L1008.7 914.4L1008.8 911.6L1008.8 908.8L1008.9 906.1L1008.9 903.3L1009.0 900.5L1009.0 897.7L1009.1 895.0L1009.1 892.2L1009.2 889.4L1009.2 886.6L1009.2 883.9L1009.3 881.1L1009.3 878.3L1009.3 875.5L1009.4 872.8L1009.4 870.0L1009.5 867.2L1009.5 864.4L1009.5 861.7L1009.6 858.9L1009.6 856.1L1009.7 853.4L1009.8 850.6L1009.8 847.8L1009.9 845.1L1010.0 842.3L1010.0 839.5L1010.1 836.8L1010.2 834.0" stroke="#000" stroke-width="4.1"/>
<path d="M782.9 1083.2L785.2 1083.1L787.6 1083.1L789.9 1083.0L792.3 1083.0L794.6 1082.9L796.9 1082.8L799.2 1082.7L801.6 1082.6L803.9 1082.5L806.2 1082.4L808.5 1082.3L810.8 1082.2L813.1 1082.1L815.4 1081.9L817.7 1081.8L820.0 1081.6L822.3 1081.5L824.6 1081.3L826.9 1081.1L829.2 1080.9L831.5 1080.7L833.8 1080.5L836.1 1080.3L838.4 1080.0L840.7 1079.8L843.0 1079.5L845.3 1079.2L847.6 1079.0L849.9 1078.7L852.2 1078.3L854.5 1078.0L856.8 1077.7L859.1 1077.3L861.5 1076.9L863.8 1076.5L866.1 1076.1L868.4 1075.7L870.7 1075.3L873.0 1074.8L875.4 1074.3L877.7 1073.8L879.9 1073.2L882.2 1072.6L884.5 1072.0L886.8 1071.3L889.0 1070.6L891.2 1069.9L893.4 1069.1L895.6 1068.3L897.8 1067.5L899.9 1066.6L902.1 1065.6L904.2 1064.6L906.2 1063.6L908.3 1062.4L910.3 1061.3L912.3 1060.1L914.2 1058.8L916.1 1057.5L918.0 1056.1L919.8 1054.6L921.6 1053.1L923.3 1051.6L925.0 1050.0L926.6 1048.3L928.2 1046.6L929.7 1044.9L931.1 1043.1L932.4 1041.2L933.7 1039.3L934.9 1037.4L936.0 1035.4L937.1 1033.3L938.0 1031.2L938.9 1029.1L939.8 1027.0L940.6 1024.8L941.3 1022.6L942.0 1020.4L942.7 1018.1L943.3 1015.9L943.9 1013.6L944.4 1011.3L944.9 1009.0L945.4 1006.8L945.8 1004.5L946.3 1002.2L946.7 999.9L947.0 997.6L947.4 995.3L947.8 993.0L948.1 990.7L948.4 988.3L948.7 986.0L948.9 983.7L949.2 981.4L949.4 979.1L949.6 976.8L949.8 974.5L950.0 972.1L950.2 969.8L950.4 967.5L950.6 965.2L950.7 962.9L950.9 960.5L951.0 958.2L951.2 955.9L951.3 953.6L951.4 951.2L951.5 948.9L951.7 946.6L951.8 944.3L951.9 941.9L952.0 939.6L952.1 937.3L952.3 935.0L952.4 932.6L952.5 930.3L952.7 928.0L952.8 925.7L953.0 923.4L953.1 921.0L953.3 918.7L953.4 916.4L953.6 914.1L953.8 911.8L953.9 909.5L954.1 907.1L954.3 904.8L954.5 902.5L954.6 900.2L954.8 897.9L955.0 895.6L955.1 893.3L955.3 890.9L955.5 888.6L955.6 886.3L955.8 884.0L955.9 881.7L956.1 879.4L956.2 877.1L956.3 874.7L956.5 872.4L956.6 870.1L956.7 867.8L956.8 865.5L956.9 863.1L957.0 860.8L957.1 858.5L957.1 856.2L957.2 853.8L957.2 851.5L957.3 849.2L957.3 846.9L957.3 844.5L957.3 842.2L957.3 839.9L957.2 837.5L957.2 835.2" stroke="#d02027" stroke-width="4.1"/>
<path d="M782.9 1072.8L785.0 1072.8L787.1 1072.7L789.1 1072.6L791.2 1072.6L793.3 1072.5L795.3 1072.3L797.4 1072.2L799.4 1072.1L801.5 1071.9L803.6 1071.8L805.6 1071.6L807.7 1071.4L809.7 1071.2L811.8 1071.0L813.9 1070.8L815.9 1070.5L818.0 1070.3L820.1 1070.0L822.2 1069.8L824.2 1069.5L826.3 1069.2L828.4 1068.9L830.5 1068.6L832.6 1068.3L834.7 1067.9L836.8 1067.6L838.9 1067.2L840.9 1066.8L843.0 1066.3L845.1 1065.9L847.1 1065.4L849.2 1064.9L851.2 1064.4L853.2 1063.8L855.3 1063.2L857.3 1062.6L859.2 1061.9L861.2 1061.2L863.1 1060.4L865.1 1059.7L867.0 1058.8L868.9 1058.0L870.7 1057.1L872.6 1056.1L874.4 1055.1L876.2 1054.1L877.9 1053.0L879.7 1051.9L881.4 1050.7L883.1 1049.5L884.7 1048.3L886.4 1047.0L888.0 1045.7L889.5 1044.3L891.1 1043.0L892.6 1041.5L894.1 1040.1L895.5 1038.6L896.9 1037.1L898.3 1035.5L899.6 1033.9L900.9 1032.3L902.2 1030.7L903.4 1029.0L904.6 1027.3L905.7 1025.6L906.9 1023.8L907.9 1022.1L909.0 1020.3L910.0 1018.4L910.9 1016.6L911.8 1014.7L912.7 1012.8L913.5 1010.9L914.3 1009.0L915.0 1007.1L915.7 1005.1L916.3 1003.1L916.9 1001.1L917.5 999.1L918.0 997.1L918.4 995.0L918.9 993.0L919.3 990.9L919.6 988.9L920.0 986.8L920.3 984.7L920.6 982.6L920.9 980.5L921.1 978.4L921.4 976.4L921.6 974.3L921.9 972.2L922.1 970.1L922.3 968.0L922.5 965.9L922.8 963.9L923.0 961.8L923.2 959.7L923.4 957.6L923.6 955.6L923.8 953.5L924.0 951.4L924.1 949.4L924.3 947.3L924.5 945.2L924.7 943.2L924.9 941.1L925.0 939.0L925.2 937.0L925.4 934.9L925.6 932.8L925.7 930.7L925.9 928.7L926.1 926.6L926.3 924.5L926.4 922.5L926.6 920.4L926.8 918.3L926.9 916.3L927.1 914.2L927.3 912.1L927.5 910.0L927.6 908.0L927.8 905.9L928.0 903.8L928.1 901.7L928.3 899.7L928.4 897.6L928.6 895.5L928.8 893.4L928.9 891.4L929.1 889.3L929.2 887.2L929.4 885.1L929.5 883.0L929.7 881.0L929.8 878.9L930.0 876.8L930.1 874.7L930.2 872.6L930.4 870.6L930.5 868.5L930.6 866.4L930.7 864.3L930.8 862.2L931.0 860.2L931.1 858.1L931.2 856.0L931.3 853.9L931.4 851.8L931.5 849.8L931.6 847.7L931.6 845.6L931.7 843.5L931.8 841.4L931.9 839.4L931.9 837.3L932.0 835.2" stroke="#d02027" stroke-width="4.1"/>
<path d="M782.9 1051.6L784.6 1051.6L786.3 1051.5L788.1 1051.4L789.8 1051.3L791.5 1051.2L793.3 1051.1L795.0 1050.9L796.8 1050.8L798.6 1050.6L800.3 1050.3L802.1 1050.1L803.9 1049.9L805.7 1049.6L807.4 1049.3L809.2 1049.0L811.0 1048.6L812.7 1048.2L814.5 1047.8L816.2 1047.4L818.0 1047.0L819.7 1046.5L821.4 1046.0L823.1 1045.5L824.8 1044.9L826.5 1044.3L828.2 1043.7L829.9 1043.1L831.5 1042.4L833.2 1041.7L834.8 1041.0L836.4 1040.3L837.9 1039.5L839.5 1038.7L841.0 1037.8L842.6 1036.9L844.0 1036.0L845.5 1035.1L847.0 1034.1L848.4 1033.1L849.8 1032.1L851.2 1031.0L852.5 1029.9L853.9 1028.8L855.2 1027.7L856.5 1026.5L857.7 1025.3L859.0 1024.1L860.2 1022.8L861.4 1021.6L862.5 1020.3L863.7 1019.0L864.8 1017.6L865.9 1016.3L867.0 1014.9L868.0 1013.5L869.0 1012.1L870.0 1010.6L871.0 1009.2L871.9 1007.7L872.9 1006.2L873.8 1004.7L874.6 1003.2L875.5 1001.6L876.3 1000.1L877.1 998.5L877.9 996.9L878.6 995.3L879.3 993.7L880.0 992.1L880.7 990.5L881.3 988.8L881.9 987.2L882.5 985.5L883.0 983.8L883.6 982.2L884.1 980.5L884.6 978.8L885.0 977.0L885.5 975.3L885.9 973.6L886.3 971.9L886.7 970.2L887.0 968.4L887.4 966.7L887.7 964.9L888.1 963.2L888.4 961.4L888.7 959.7L889.0 957.9L889.3 956.2L889.6 954.4L889.8 952.7L890.1 950.9L890.3 949.2L890.6 947.4L890.8 945.7L891.1 943.9L891.3 942.2L891.5 940.4L891.8 938.7L892.0 936.9L892.2 935.2L892.4 933.4L892.6 931.7L892.8 929.9L893.0 928.2L893.2 926.4L893.4 924.7L893.6 922.9L893.8 921.2L893.9 919.4L894.1 917.7L894.3 915.9L894.5 914.2L894.6 912.4L894.8 910.7L895.0 908.9L895.1 907.2L895.3 905.4L895.4 903.7L895.6 901.9L895.8 900.2L895.9 898.4L896.1 896.7L896.2 894.9L896.4 893.2L896.5 891.4L896.7 889.7L896.8 887.9L897.0 886.2L897.1 884.4L897.3 882.7L897.4 880.9L897.6 879.2L897.7 877.4L897.9 875.6L898.0 873.9L898.2 872.1L898.3 870.4L898.4 868.6L898.6 866.9L898.7 865.1L898.8 863.4L898.9 861.6L899.1 859.9L899.2 858.1L899.3 856.3L899.4 854.6L899.5 852.8L899.7 851.1L899.8 849.3L899.9 847.5L900.0 845.8L900.1 844.0L900.2 842.3L900.2 840.5L900.3 838.7L900.4 837.0L900.5 835.2" stroke="#d02027" stroke-width="4.1"/>
<path d="M782.9 997.2L784.2 997.2L785.5 997.1L786.7 997.1L788.0 996.9L789.2 996.8L790.4 996.6L791.7 996.4L792.8 996.1L794.0 995.8L795.2 995.5L796.4 995.1L797.5 994.7L798.6 994.3L799.7 993.9L800.8 993.4L801.9 992.9L803.0 992.4L804.0 991.8L805.1 991.2L806.1 990.6L807.1 990.0L808.1 989.3L809.1 988.6L810.1 987.9L811.0 987.2L812.0 986.5L812.9 985.7L813.8 984.9L814.7 984.1L815.6 983.3L816.4 982.5L817.3 981.6L818.1 980.7L818.9 979.9L819.7 979.0L820.5 978.0L821.2 977.1L822.0 976.2L822.7 975.2L823.5 974.3L824.2 973.3L824.9 972.3L825.6 971.3L826.2 970.3L826.9 969.3L827.5 968.2L828.2 967.2L828.8 966.2L829.4 965.1L830.0 964.0L830.6 963.0L831.1 961.9L831.7 960.8L832.3 959.7L832.8 958.6L833.3 957.5L833.9 956.3L834.4 955.2L834.9 954.1L835.4 953.0L835.8 951.8L836.3 950.7L836.8 949.5L837.2 948.4L837.7 947.2L838.1 946.1L838.6 944.9L839.0 943.8L839.4 942.6L839.8 941.5L840.2 940.3L840.6 939.1L841.0 938.0L841.4 936.8L841.8 935.7L842.1 934.5L842.5 933.3L842.9 932.2L843.2 931.0L843.6 929.8L843.9 928.6L844.2 927.5L844.6 926.3L844.9 925.1L845.2 924.0L845.5 922.8L845.8 921.6L846.1 920.4L846.4 919.3L846.7 918.1L847.0 916.9L847.2 915.7L847.5 914.5L847.8 913.4L848.0 912.2L848.3 911.0L848.6 909.8L848.8 908.6L849.0 907.4L849.3 906.2L849.5 905.1L849.7 903.9L850.0 902.7L850.2 901.5L850.4 900.3L850.6 899.1L850.8 897.9L851.0 896.7L851.2 895.5L851.4 894.3L851.6 893.1L851.8 891.9L852.0 890.8L852.2 889.6L852.4 888.4L852.5 887.2L852.7 886.0L852.9 884.8L853.1 883.6L853.2 882.4L853.4 881.2L853.6 880.0L853.7 878.8L853.9 877.6L854.0 876.4L854.2 875.2L854.3 873.9L854.5 872.7L854.6 871.5L854.8 870.3L854.9 869.1L855.0 867.9L855.2 866.7L855.3 865.5L855.4 864.3L855.6 863.1L855.7 861.9L855.8 860.7L856.0 859.5L856.1 858.3L856.2 857.0L856.3 855.8L856.5 854.6L856.6 853.4L856.7 852.2L856.8 851.0L857.0 849.8L857.1 848.6L857.2 847.3L857.3 846.1L857.4 844.9L857.6 843.7L857.7 842.5L857.8 841.3L857.9 840.1L858.0 838.8L858.2 837.6L858.3 836.4L858.4 835.2" stroke="#d02027" stroke-width="4.1"/>
<path d="M782.9 1100.8L786.8 1100.8L790.6 1100.8L794.5 1100.8L798.4 1100.9L802.3 1100.9L806.2 1100.9L810.1 1100.9L814.0 1100.9L817.9 1100.9L821.8 1100.9L825.7 1100.9L829.6 1100.9L833.5 1100.9L837.5 1100.9L841.4 1100.9L845.3 1100.9L849.2 1100.9L853.2 1100.9L857.1 1100.9L861.1 1100.9L865.0 1100.9L869.0 1100.9L872.9 1100.9L876.9 1100.9L880.8 1100.9L884.8 1100.9L888.8 1100.9L892.7 1100.8L896.7 1100.8L900.6 1100.8L904.6 1100.8L908.6 1100.8L912.6 1100.8L916.5 1100.8L920.5 1100.7L924.5 1100.7L928.4 1100.7L932.4 1100.7L936.4 1100.7L940.3 1100.7L944.3 1100.6L948.3 1100.6L952.3 1100.6L956.2 1100.6L960.2 1100.5L964.2 1100.5L968.1 1100.5L972.1 1100.5L976.1 1100.4L980.0 1100.4L984.0 1100.4L987.9 1100.4L991.9 1100.3L995.8 1100.3L999.8 1100.3L1003.7 1100.2L1007.7 1100.2L1011.6 1100.2L1015.6 1100.2L1019.5 1100.1L1023.4 1100.1L1027.4 1100.1L1031.3 1100.0L1035.2 1100.0L1039.2 1100.0L1043.1 1099.9L1047.0 1099.9L1050.9 1099.9L1054.8 1099.8L1058.7 1099.8L1062.6 1099.7L1066.5 1099.7L1070.4 1099.7L1074.2 1099.6L1078.1 1099.5L1082.0 1099.4L1085.9 1099.3L1089.8 1099.2L1093.7 1099.0L1097.7 1098.8L1101.6 1098.5L1105.5 1098.3L1109.5 1097.9L1113.5 1097.5L1117.5 1097.1L1121.5 1096.6L1125.5 1096.0L1129.6 1095.3L1133.5 1094.5L1137.4 1093.6L1141.2 1092.3L1144.7 1090.8L1148.1 1089.0L1151.1 1086.7L1153.7 1084.1L1156.0 1081.0L1157.9 1077.6L1159.4 1074.0L1160.6 1070.2L1161.5 1066.3L1162.3 1062.4L1163.0 1058.5L1163.5 1054.5L1163.9 1050.6L1164.2 1046.7L1164.4 1042.7L1164.5 1038.8L1164.6 1034.8L1164.6 1030.9L1164.6 1026.9L1164.6 1023.0L1164.6 1019.1L1164.6 1015.1L1164.6 1011.2L1164.6 1007.2L1164.6 1003.3L1164.7 999.3L1164.7 995.4L1164.8 991.5L1164.8 987.5L1164.9 983.6L1165.0 979.7L1165.1 975.7L1165.2 971.8L1165.2 967.9L1165.3 963.9L1165.4 960.0L1165.5 956.1L1165.6 952.1L1165.7 948.2L1165.8 944.3L1165.9 940.3L1166.0 936.4L1166.1 932.5L1166.2 928.5L1166.3 924.6L1166.3 920.7L1166.4 916.7L1166.5 912.8L1166.5 908.8L1166.6 904.9L1166.6 901.0L1166.6 897.0L1166.7 893.1L1166.7 889.1L1166.7 885.2L1166.8 881.2L1166.8 877.3L1166.8 873.4L1166.9 869.4L1166.9 865.5L1167.0 861.5L1167.0 857.6L1167.1 853.7L1167.1 849.7L1167.2 845.8L1167.3 841.9L1167.4 837.9L1167.5 834.0" stroke="#82bb4e" stroke-width="4.0" stroke-dasharray="12 12" stroke-dashoffset="0"/>
<path d="M782.9 1099.6L786.5 1099.6L790.1 1099.6L793.7 1099.5L797.4 1099.5L801.0 1099.5L804.6 1099.5L808.2 1099.5L811.8 1099.5L815.5 1099.5L819.1 1099.5L822.7 1099.4L826.3 1099.4L829.9 1099.4L833.6 1099.4L837.2 1099.4L840.8 1099.4L844.4 1099.4L848.1 1099.4L851.7 1099.4L855.3 1099.4L858.9 1099.4L862.6 1099.4L866.2 1099.4L869.8 1099.4L873.4 1099.4L877.1 1099.4L880.7 1099.3L884.3 1099.3L888.0 1099.3L891.6 1099.3L895.2 1099.3L898.8 1099.3L902.5 1099.3L906.1 1099.2L909.7 1099.2L913.3 1099.2L917.0 1099.2L920.6 1099.2L924.2 1099.1L927.8 1099.1L931.5 1099.1L935.1 1099.0L938.7 1099.0L942.3 1099.0L946.0 1098.9L949.6 1098.9L953.2 1098.8L956.8 1098.8L960.5 1098.7L964.1 1098.7L967.7 1098.6L971.3 1098.5L974.9 1098.5L978.6 1098.4L982.2 1098.3L985.8 1098.2L989.4 1098.1L993.0 1098.1L996.6 1098.0L1000.2 1097.9L1003.9 1097.8L1007.5 1097.7L1011.1 1097.6L1014.7 1097.4L1018.3 1097.3L1021.9 1097.2L1025.5 1097.1L1029.1 1096.9L1032.7 1096.8L1036.3 1096.7L1039.9 1096.5L1043.6 1096.4L1047.2 1096.3L1050.8 1096.2L1054.5 1096.1L1058.1 1096.0L1061.8 1095.9L1065.4 1095.7L1069.1 1095.5L1072.8 1095.1L1076.5 1094.6L1080.1 1093.9L1083.7 1093.1L1087.3 1092.1L1090.7 1090.9L1094.0 1089.4L1097.1 1087.8L1100.1 1085.9L1102.8 1083.7L1105.2 1081.3L1107.4 1078.6L1109.3 1075.7L1110.9 1072.5L1112.4 1069.2L1113.6 1065.8L1114.6 1062.3L1115.5 1058.6L1116.2 1055.0L1116.8 1051.3L1117.3 1047.7L1117.7 1044.0L1118.1 1040.3L1118.3 1036.7L1118.6 1033.1L1118.8 1029.4L1119.0 1025.8L1119.2 1022.2L1119.4 1018.5L1119.6 1014.9L1119.7 1011.3L1119.9 1007.7L1120.0 1004.1L1120.2 1000.5L1120.3 996.9L1120.4 993.3L1120.6 989.7L1120.7 986.1L1120.8 982.5L1120.9 978.9L1121.0 975.3L1121.1 971.6L1121.2 968.0L1121.3 964.4L1121.4 960.8L1121.5 957.2L1121.6 953.6L1121.7 950.0L1121.8 946.3L1121.9 942.7L1122.0 939.1L1122.1 935.5L1122.2 931.8L1122.3 928.2L1122.4 924.6L1122.4 921.0L1122.5 917.3L1122.6 913.7L1122.7 910.1L1122.8 906.4L1122.9 902.8L1122.9 899.2L1123.0 895.6L1123.1 891.9L1123.2 888.3L1123.3 884.7L1123.4 881.0L1123.4 877.4L1123.5 873.8L1123.6 870.2L1123.7 866.5L1123.8 862.9L1123.9 859.3L1124.0 855.7L1124.0 852.1L1124.1 848.4L1124.2 844.8L1124.3 841.2L1124.4 837.6L1124.5 834.0" stroke="#82bb4e" stroke-width="4.0" stroke-dasharray="12 12" stroke-dashoffset="0"/>
<path d="M782.9 1097.2L786.2 1097.2L789.4 1097.3L792.7 1097.3L795.9 1097.3L799.2 1097.3L802.4 1097.4L805.7 1097.4L808.9 1097.4L812.2 1097.4L815.4 1097.4L818.7 1097.3L821.9 1097.3L825.1 1097.3L828.4 1097.3L831.6 1097.3L834.9 1097.2L838.1 1097.2L841.4 1097.2L844.6 1097.1L847.8 1097.1L851.1 1097.0L854.3 1097.0L857.6 1097.0L860.8 1096.9L864.0 1096.8L867.3 1096.8L870.5 1096.7L873.7 1096.7L877.0 1096.6L880.2 1096.6L883.5 1096.5L886.7 1096.4L889.9 1096.4L893.2 1096.3L896.4 1096.2L899.7 1096.2L902.9 1096.1L906.1 1096.0L909.4 1096.0L912.6 1095.9L915.8 1095.8L919.1 1095.8L922.3 1095.7L925.6 1095.6L928.8 1095.6L932.1 1095.5L935.3 1095.5L938.5 1095.4L941.8 1095.3L945.0 1095.3L948.3 1095.2L951.5 1095.2L954.8 1095.1L958.0 1095.1L961.3 1095.0L964.5 1095.0L967.8 1094.9L971.0 1094.9L974.3 1094.8L977.5 1094.7L980.8 1094.6L984.0 1094.5L987.3 1094.3L990.5 1094.1L993.8 1093.8L997.0 1093.5L1000.2 1093.1L1003.4 1092.7L1006.7 1092.2L1009.9 1091.7L1013.1 1091.1L1016.3 1090.4L1019.5 1089.6L1022.6 1088.7L1025.8 1087.8L1028.9 1086.7L1032.0 1085.5L1035.0 1084.2L1037.9 1082.8L1040.7 1081.2L1043.4 1079.5L1045.9 1077.6L1048.4 1075.5L1050.6 1073.3L1052.8 1070.9L1054.7 1068.5L1056.5 1065.9L1058.2 1063.1L1059.7 1060.3L1061.0 1057.4L1062.1 1054.4L1063.1 1051.4L1063.9 1048.3L1064.6 1045.1L1065.2 1041.8L1065.7 1038.6L1066.1 1035.3L1066.4 1032.0L1066.7 1028.6L1067.0 1025.3L1067.2 1022.0L1067.4 1018.7L1067.6 1015.4L1067.7 1012.1L1067.9 1008.9L1068.1 1005.6L1068.2 1002.4L1068.4 999.1L1068.5 995.9L1068.6 992.7L1068.8 989.5L1068.9 986.3L1069.0 983.1L1069.1 979.9L1069.2 976.6L1069.3 973.4L1069.4 970.2L1069.5 967.0L1069.6 963.8L1069.7 960.6L1069.8 957.4L1069.9 954.1L1070.0 950.9L1070.1 947.7L1070.2 944.4L1070.3 941.2L1070.4 937.9L1070.5 934.7L1070.5 931.4L1070.6 928.2L1070.7 924.9L1070.8 921.7L1070.9 918.4L1071.0 915.2L1071.1 911.9L1071.1 908.7L1071.2 905.4L1071.3 902.1L1071.4 898.9L1071.4 895.6L1071.5 892.4L1071.6 889.1L1071.7 885.9L1071.7 882.6L1071.8 879.3L1071.9 876.1L1072.0 872.8L1072.0 869.6L1072.1 866.3L1072.2 863.1L1072.2 859.9L1072.3 856.6L1072.4 853.4L1072.4 850.1L1072.5 846.9L1072.5 843.7L1072.6 840.4L1072.6 837.2L1072.7 834.0" stroke="#82bb4e" stroke-width="4.0" stroke-dasharray="12 12" stroke-dashoffset="0"/>
<path d="M782.9 1093.9L785.7 1093.9L788.5 1094.0L791.3 1094.0L794.1 1094.0L796.9 1094.0L799.7 1094.0L802.5 1094.0L805.3 1094.0L808.1 1093.9L810.8 1093.9L813.6 1093.8L816.4 1093.8L819.2 1093.7L822.0 1093.6L824.7 1093.5L827.5 1093.4L830.3 1093.3L833.1 1093.2L835.8 1093.1L838.6 1093.0L841.4 1092.9L844.2 1092.7L846.9 1092.6L849.7 1092.5L852.5 1092.3L855.3 1092.2L858.0 1092.0L860.8 1091.9L863.6 1091.7L866.3 1091.5L869.1 1091.4L871.9 1091.2L874.7 1091.0L877.4 1090.8L880.2 1090.7L883.0 1090.5L885.8 1090.3L888.6 1090.1L891.4 1089.9L894.1 1089.8L896.9 1089.6L899.7 1089.4L902.5 1089.2L905.3 1089.0L908.1 1088.9L910.9 1088.7L913.7 1088.5L916.5 1088.2L919.3 1088.0L922.1 1087.7L924.8 1087.5L927.6 1087.1L930.4 1086.8L933.2 1086.4L935.9 1086.0L938.7 1085.6L941.4 1085.1L944.2 1084.5L946.9 1083.9L949.6 1083.3L952.3 1082.6L955.0 1081.9L957.7 1081.0L960.4 1080.2L963.0 1079.2L965.7 1078.2L968.2 1077.1L970.8 1075.9L973.2 1074.6L975.6 1073.2L977.9 1071.7L980.1 1070.1L982.2 1068.4L984.1 1066.5L986.0 1064.5L987.6 1062.4L989.2 1060.1L990.6 1057.8L991.9 1055.4L993.1 1052.8L994.3 1050.3L995.3 1047.6L996.2 1045.0L997.1 1042.3L997.8 1039.5L998.6 1036.8L999.2 1034.0L999.8 1031.3L1000.4 1028.5L1000.9 1025.8L1001.4 1023.0L1001.8 1020.3L1002.2 1017.5L1002.5 1014.7L1002.9 1011.9L1003.2 1009.2L1003.5 1006.4L1003.7 1003.6L1004.0 1000.8L1004.2 998.1L1004.5 995.3L1004.7 992.5L1005.0 989.7L1005.2 987.0L1005.5 984.2L1005.7 981.4L1006.0 978.7L1006.2 975.9L1006.5 973.1L1006.7 970.4L1007.0 967.6L1007.2 964.8L1007.4 962.1L1007.7 959.3L1007.9 956.5L1008.1 953.7L1008.3 951.0L1008.4 948.2L1008.6 945.4L1008.8 942.6L1008.9 939.9L1009.1 937.1L1009.2 934.3L1009.3 931.5L1009.4 928.7L1009.5 925.9L1009.6 923.2L1009.7 920.4L1009.8 917.6L1009.9 914.8L1010.0 912.0L1010.1 909.2L1010.1 906.4L1010.2 903.6L1010.3 900.9L1010.3 898.1L1010.4 895.3L1010.4 892.5L1010.5 889.7L1010.5 886.9L1010.6 884.1L1010.6 881.3L1010.7 878.5L1010.7 875.8L1010.8 873.0L1010.8 870.2L1010.9 867.4L1011.0 864.6L1011.0 861.8L1011.1 859.0L1011.1 856.2L1011.2 853.5L1011.3 850.7L1011.3 847.9L1011.4 845.1L1011.5 842.3L1011.6 839.6L1011.7 836.8L1011.8 834.0" stroke="#82bb4e" stroke-width="4.0" stroke-dasharray="12 12" stroke-dashoffset="0"/>
<path d="M782.9 1084.6L785.3 1084.5L787.6 1084.5L790.0 1084.4L792.3 1084.4L794.7 1084.3L797.0 1084.2L799.3 1084.1L801.7 1084.0L804.0 1083.9L806.3 1083.8L808.7 1083.7L811.0 1083.6L813.3 1083.5L815.6 1083.3L818.0 1083.2L820.3 1083.0L822.6 1082.9L824.9 1082.7L827.2 1082.5L829.6 1082.3L831.9 1082.1L834.2 1081.9L836.5 1081.7L838.8 1081.5L841.1 1081.2L843.5 1081.0L845.8 1080.7L848.1 1080.4L850.4 1080.1L852.7 1079.8L855.1 1079.5L857.4 1079.2L859.7 1078.8L862.0 1078.4L864.4 1078.0L866.7 1077.6L869.0 1077.2L871.3 1076.8L873.7 1076.3L876.0 1075.8L878.3 1075.3L880.6 1074.7L882.9 1074.1L885.2 1073.5L887.4 1072.9L889.7 1072.2L891.9 1071.4L894.2 1070.7L896.4 1069.9L898.6 1069.0L900.7 1068.1L902.9 1067.1L905.0 1066.1L907.1 1065.1L909.2 1064.0L911.2 1062.8L913.2 1061.6L915.2 1060.3L917.2 1059.0L919.1 1057.6L920.9 1056.1L922.8 1054.6L924.5 1053.1L926.2 1051.4L927.8 1049.8L929.4 1048.1L930.9 1046.3L932.3 1044.5L933.6 1042.6L934.9 1040.7L936.0 1038.7L937.1 1036.7L938.1 1034.6L939.0 1032.5L939.9 1030.3L940.7 1028.2L941.5 1026.0L942.2 1023.7L942.8 1021.5L943.4 1019.2L944.0 1016.9L944.6 1014.7L945.1 1012.4L945.6 1010.1L946.1 1007.8L946.6 1005.4L947.1 1003.1L947.5 1000.8L948.0 998.5L948.4 996.2L948.8 993.9L949.2 991.6L949.6 989.3L949.9 987.0L950.3 984.6L950.6 982.3L951.0 980.0L951.3 977.7L951.6 975.4L951.9 973.0L952.2 970.7L952.5 968.4L952.7 966.1L953.0 963.7L953.2 961.4L953.4 959.1L953.7 956.8L953.9 954.4L954.1 952.1L954.3 949.8L954.5 947.4L954.7 945.1L954.8 942.8L955.0 940.4L955.2 938.1L955.3 935.8L955.5 933.4L955.6 931.1L955.7 928.7L955.9 926.4L956.0 924.1L956.1 921.7L956.2 919.4L956.3 917.0L956.4 914.7L956.6 912.4L956.7 910.0L956.7 907.7L956.8 905.3L956.9 903.0L957.0 900.7L957.1 898.3L957.2 896.0L957.3 893.6L957.4 891.3L957.4 889.0L957.5 886.6L957.6 884.3L957.7 881.9L957.8 879.6L957.9 877.3L957.9 874.9L958.0 872.6L958.1 870.2L958.2 867.9L958.3 865.6L958.4 863.2L958.5 860.9L958.6 858.5L958.7 856.2L958.8 853.9L958.9 851.5L959.0 849.2L959.1 846.9L959.3 844.5L959.4 842.2L959.5 839.9L959.7 837.5L959.8 835.2" stroke="#82bb4e" stroke-width="4.0" stroke-dasharray="12 12" stroke-dashoffset="0"/>
<path d="M782.9 1074.4L785.0 1074.3L787.0 1074.2L789.1 1074.1L791.2 1074.0L793.2 1073.9L795.3 1073.8L797.4 1073.7L799.5 1073.6L801.6 1073.4L803.7 1073.3L805.8 1073.1L807.8 1073.0L809.9 1072.8L812.0 1072.6L814.1 1072.4L816.2 1072.2L818.3 1072.0L820.4 1071.8L822.6 1071.5L824.7 1071.2L826.8 1071.0L828.9 1070.7L831.0 1070.4L833.1 1070.0L835.2 1069.7L837.3 1069.3L839.4 1068.9L841.4 1068.5L843.5 1068.0L845.6 1067.5L847.7 1067.0L849.7 1066.5L851.7 1065.9L853.8 1065.4L855.8 1064.7L857.8 1064.1L859.8 1063.4L861.8 1062.7L863.8 1061.9L865.7 1061.2L867.6 1060.3L869.6 1059.5L871.5 1058.6L873.3 1057.6L875.2 1056.7L877.0 1055.6L878.8 1054.6L880.6 1053.5L882.4 1052.4L884.1 1051.2L885.8 1050.0L887.5 1048.7L889.1 1047.4L890.7 1046.1L892.3 1044.7L893.8 1043.3L895.3 1041.9L896.8 1040.4L898.2 1038.9L899.5 1037.3L900.9 1035.7L902.1 1034.1L903.4 1032.4L904.6 1030.7L905.7 1028.9L906.8 1027.2L907.9 1025.4L908.9 1023.5L909.9 1021.7L910.8 1019.8L911.7 1017.9L912.6 1016.0L913.4 1014.1L914.2 1012.1L915.0 1010.2L915.7 1008.2L916.4 1006.2L917.0 1004.2L917.7 1002.2L918.3 1000.2L918.8 998.2L919.4 996.1L919.9 994.1L920.3 992.1L920.8 990.0L921.2 988.0L921.6 985.9L922.0 983.8L922.4 981.8L922.7 979.7L923.0 977.6L923.3 975.5L923.6 973.4L923.9 971.4L924.1 969.3L924.4 967.2L924.6 965.1L924.8 963.0L925.0 960.9L925.2 958.8L925.4 956.6L925.6 954.5L925.7 952.4L925.9 950.3L926.0 948.2L926.2 946.1L926.3 944.0L926.5 941.9L926.6 939.8L926.7 937.7L926.9 935.6L927.0 933.4L927.2 931.3L927.3 929.2L927.5 927.1L927.6 925.0L927.8 923.0L928.0 920.9L928.1 918.8L928.3 916.7L928.5 914.6L928.7 912.5L928.8 910.4L929.0 908.3L929.2 906.3L929.4 904.2L929.6 902.1L929.8 900.0L930.0 897.9L930.2 895.9L930.4 893.8L930.5 891.7L930.7 889.6L930.9 887.6L931.1 885.5L931.3 883.4L931.5 881.3L931.7 879.2L931.8 877.2L932.0 875.1L932.2 873.0L932.4 870.9L932.5 868.8L932.7 866.7L932.8 864.7L933.0 862.6L933.1 860.5L933.3 858.4L933.4 856.3L933.5 854.2L933.7 852.1L933.8 850.0L933.9 847.9L934.0 845.8L934.1 843.7L934.2 841.6L934.3 839.4L934.3 837.3L934.4 835.2" stroke="#82bb4e" stroke-width="4.0" stroke-dasharray="12 12" stroke-dashoffset="0"/>
<path d="M782.9 1053.4L784.6 1053.4L786.4 1053.3L788.1 1053.2L789.9 1053.1L791.6 1053.0L793.4 1052.8L795.2 1052.7L797.0 1052.5L798.7 1052.3L800.5 1052.1L802.3 1051.9L804.1 1051.6L805.9 1051.3L807.7 1051.0L809.5 1050.7L811.3 1050.3L813.0 1050.0L814.8 1049.6L816.6 1049.1L818.3 1048.7L820.1 1048.2L821.8 1047.7L823.6 1047.2L825.3 1046.6L827.0 1046.0L828.7 1045.4L830.4 1044.8L832.0 1044.1L833.7 1043.4L835.3 1042.7L836.9 1041.9L838.5 1041.1L840.1 1040.3L841.7 1039.5L843.2 1038.6L844.7 1037.7L846.2 1036.7L847.7 1035.7L849.1 1034.7L850.6 1033.7L852.0 1032.6L853.4 1031.5L854.7 1030.4L856.1 1029.3L857.4 1028.1L858.7 1026.9L859.9 1025.7L861.2 1024.4L862.4 1023.2L863.6 1021.9L864.8 1020.6L865.9 1019.2L867.0 1017.9L868.1 1016.5L869.2 1015.1L870.3 1013.7L871.3 1012.2L872.3 1010.8L873.2 1009.3L874.2 1007.8L875.1 1006.3L876.0 1004.7L876.9 1003.2L877.7 1001.6L878.5 1000.0L879.3 998.4L880.1 996.8L880.8 995.2L881.5 993.6L882.2 991.9L882.8 990.3L883.4 988.6L884.0 986.9L884.6 985.2L885.2 983.5L885.7 981.8L886.2 980.1L886.6 978.4L887.1 976.7L887.5 974.9L888.0 973.2L888.4 971.4L888.7 969.7L889.1 967.9L889.5 966.2L889.8 964.4L890.2 962.6L890.5 960.9L890.8 959.1L891.1 957.3L891.4 955.6L891.7 953.8L892.0 952.0L892.3 950.3L892.6 948.5L892.9 946.7L893.1 945.0L893.4 943.2L893.6 941.4L893.9 939.7L894.1 937.9L894.4 936.1L894.6 934.4L894.8 932.6L895.0 930.8L895.3 929.1L895.5 927.3L895.7 925.5L895.9 923.7L896.1 922.0L896.3 920.2L896.5 918.4L896.7 916.7L896.9 914.9L897.1 913.1L897.3 911.4L897.5 909.6L897.7 907.8L897.9 906.1L898.1 904.3L898.3 902.5L898.5 900.8L898.7 899.0L898.9 897.2L899.1 895.5L899.3 893.7L899.5 891.9L899.7 890.2L899.9 888.4L900.1 886.6L900.3 884.9L900.5 883.1L900.7 881.3L900.9 879.6L901.0 877.8L901.2 876.0L901.4 874.3L901.6 872.5L901.8 870.7L902.0 869.0L902.2 867.2L902.3 865.4L902.5 863.7L902.7 861.9L902.8 860.1L903.0 858.3L903.2 856.6L903.3 854.8L903.5 853.0L903.6 851.2L903.7 849.5L903.9 847.7L904.0 845.9L904.1 844.1L904.2 842.3L904.3 840.6L904.4 838.8L904.5 837.0L904.6 835.2" stroke="#82bb4e" stroke-width="4.0" stroke-dasharray="12 12" stroke-dashoffset="0"/>
<path d="M782.9 999.2L784.2 999.2L785.5 999.1L786.8 999.0L788.1 998.9L789.3 998.7L790.6 998.5L791.8 998.3L793.1 998.0L794.3 997.7L795.5 997.4L796.7 997.1L797.8 996.7L799.0 996.3L800.1 995.8L801.3 995.3L802.4 994.8L803.5 994.3L804.6 993.8L805.7 993.2L806.7 992.6L807.8 992.0L808.8 991.3L809.9 990.7L810.9 990.0L811.9 989.3L812.9 988.5L813.8 987.8L814.8 987.0L815.7 986.2L816.6 985.4L817.6 984.6L818.5 983.7L819.3 982.9L820.2 982.0L821.1 981.1L821.9 980.2L822.7 979.3L823.5 978.4L824.3 977.4L825.1 976.5L825.9 975.5L826.6 974.5L827.4 973.5L828.1 972.5L828.8 971.5L829.5 970.5L830.2 969.4L830.9 968.4L831.6 967.3L832.2 966.3L832.9 965.2L833.5 964.1L834.1 963.0L834.7 961.9L835.3 960.8L835.9 959.7L836.5 958.6L837.1 957.5L837.6 956.3L838.2 955.2L838.7 954.1L839.3 952.9L839.8 951.8L840.3 950.6L840.8 949.5L841.3 948.3L841.8 947.1L842.2 946.0L842.7 944.8L843.2 943.7L843.6 942.5L844.1 941.3L844.5 940.1L844.9 939.0L845.3 937.8L845.7 936.6L846.1 935.4L846.5 934.3L846.9 933.1L847.3 931.9L847.7 930.7L848.1 929.5L848.4 928.3L848.8 927.1L849.1 925.9L849.5 924.7L849.8 923.5L850.1 922.3L850.5 921.1L850.8 919.9L851.1 918.7L851.4 917.5L851.7 916.3L852.0 915.1L852.3 913.9L852.5 912.7L852.8 911.5L853.1 910.3L853.4 909.1L853.6 907.9L853.9 906.6L854.1 905.4L854.4 904.2L854.6 903.0L854.9 901.8L855.1 900.6L855.3 899.3L855.5 898.1L855.8 896.9L856.0 895.7L856.2 894.4L856.4 893.2L856.6 892.0L856.8 890.8L857.0 889.5L857.2 888.3L857.4 887.1L857.6 885.8L857.8 884.6L858.0 883.4L858.1 882.1L858.3 880.9L858.5 879.7L858.7 878.4L858.8 877.2L859.0 876.0L859.2 874.7L859.3 873.5L859.5 872.3L859.7 871.0L859.8 869.8L860.0 868.6L860.1 867.3L860.3 866.1L860.4 864.9L860.6 863.6L860.7 862.4L860.9 861.1L861.0 859.9L861.2 858.7L861.3 857.4L861.5 856.2L861.6 855.0L861.8 853.7L861.9 852.5L862.1 851.2L862.2 850.0L862.4 848.8L862.5 847.5L862.7 846.3L862.8 845.1L863.0 843.8L863.1 842.6L863.3 841.4L863.4 840.1L863.6 838.9L863.7 837.7L863.9 836.4L864.0 835.2" stroke="#82bb4e" stroke-width="4.0" stroke-dasharray="12 12" stroke-dashoffset="0"/>
</g>
<path d="M1206.80 1026.40L829.66 910.00" stroke="#000" stroke-width="1.5" fill="none"/><path d="M811.50 904.40L839.65 902.73L829.66 910.00L833.81 921.65Z" fill="#000"/>
<text class="it" transform="translate(798.8 899) scale(1.1 1)" font-size="36">T</text>
<text class="it" x="19.9" y="30" font-size="36">a</text><text class="ser" x="39.4" y="30.2" font-size="39">)</text>
<text class="it" x="699" y="30" font-size="36">b</text><text class="ser" x="715.9" y="30.2" font-size="39">)</text>
<text class="it" transform="translate(251.7 23.4) scale(1.15 1)" font-size="36">T</text>
<text class="it" x="272.9" y="28.8" font-size="25.5">c</text>
<text class="ser" x="296.2" y="29.8" font-size="43">&lt;</text>
<text class="it" transform="translate(332.9 23.4) scale(1.15 1)" font-size="36">T</text>
<text class="it" x="352.8" y="28.8" font-size="25.5">b</text>
<text class="ser" x="376.6" y="29.8" font-size="43">&lt;</text>
<text class="it" transform="translate(413.3 23.4) scale(1.15 1)" font-size="36">T</text>
<text class="ser" x="433.1" y="28.8" font-size="25">0</text>
<text class="it" transform="translate(931.7 23.4) scale(1.15 1)" font-size="36">T</text>
<text class="ser" x="951.8" y="28.8" font-size="25">0</text>
<text class="ser" x="977.9" y="29.8" font-size="43">&lt;</text>
<text class="it" transform="translate(1014.6 23.4) scale(1.15 1)" font-size="36">T</text>
<text class="it" x="1035.0" y="28.8" font-size="25.5">b</text>
<text class="ser" x="1057.9" y="29.8" font-size="43">&lt;</text>
<text class="it" transform="translate(1095.0 23.4) scale(1.15 1)" font-size="36">T</text>
<text class="it" x="1114.6" y="28.8" font-size="25.5">c</text>
<text class="ser" x="350.3" y="66" font-size="36" text-anchor="middle" textLength="333" lengthAdjust="spacingAndGlyphs">Force-extension curve</text>
<text class="ser" x="350.3" y="446.1" font-size="36" text-anchor="middle" textLength="393.5" lengthAdjust="spacingAndGlyphs">Partially broken elements</text>
<text class="ser" x="350.3" y="824.1" font-size="36" text-anchor="middle" textLength="434.2" lengthAdjust="spacingAndGlyphs">Completely broken elements</text>
<text class="ser" x="1030.4" y="66" font-size="36" text-anchor="middle" textLength="333" lengthAdjust="spacingAndGlyphs">Force-extension curve</text>
<text class="ser" x="1030.4" y="446.1" font-size="36" text-anchor="middle" textLength="393.5" lengthAdjust="spacingAndGlyphs">Partially broken elements</text>
<text class="ser" x="1030.4" y="824.1" font-size="36" text-anchor="middle" textLength="434.2" lengthAdjust="spacingAndGlyphs">Completely broken elements</text>
<text class="cal" x="333.4" y="1194.6" font-size="36">&#x2131;</text>
<text class="cal" x="1013.4" y="1194.6" font-size="36">&#x2131;</text>
<g transform="translate(30.5 214.7) rotate(-90)"><text class="cal" transform="translate(-26.89 1.4) scale(0.63 1)" font-size="46.4">&#x27E8;</text><text class="cal" x="-16.60" y="-3.6" font-size="33">&#x1D4B4;</text><text class="cal" transform="translate(16.14 1.4) scale(0.63 1)" font-size="46.4">&#x27E9;</text></g>
<g transform="translate(30.5 593.6) rotate(-90)"><text class="cal" transform="translate(-51.20 2.44) scale(0.72 1)" font-size="40.7">&#x27E8;</text><text class="it" x="-38.55" y="0" font-size="35">&#951;</text><text class="ser" x="-11.55" y="5.2" font-size="43">&#8722;</text><text class="it" x="22.10" y="0" font-size="35">&#958;</text><text class="cal" transform="translate(39.93 2.44) scale(0.72 1)" font-size="40.7">&#x27E9;</text></g>
<g transform="translate(30.5 971.9) rotate(-90)"><text class="cal" transform="translate(-58.60 2.44) scale(0.72 1)" font-size="40.7">&#x27E8;</text><text class="it" x="-44.40" y="0" font-size="37">N</text><text class="ser" x="-5.85" y="5.2" font-size="43">&#8722;</text><text class="it" x="30.35" y="0" font-size="35">&#951;</text><text class="cal" transform="translate(47.43 2.44) scale(0.72 1)" font-size="40.7">&#x27E9;</text></g>
<g transform="translate(710.5 214.7) rotate(-90)"><text class="cal" transform="translate(-26.89 1.4) scale(0.63 1)" font-size="46.4">&#x27E8;</text><text class="cal" x="-16.60" y="-3.6" font-size="33">&#x1D4B4;</text><text class="cal" transform="translate(16.14 1.4) scale(0.63 1)" font-size="46.4">&#x27E9;</text></g>
<g transform="translate(710.5 593.6) rotate(-90)"><text class="cal" transform="translate(-51.20 2.44) scale(0.72 1)" font-size="40.7">&#x27E8;</text><text class="it" x="-38.55" y="0" font-size="35">&#951;</text><text class="ser" x="-11.55" y="5.2" font-size="43">&#8722;</text><text class="it" x="22.10" y="0" font-size="35">&#958;</text><text class="cal" transform="translate(39.93 2.44) scale(0.72 1)" font-size="40.7">&#x27E9;</text></g>
<g transform="translate(710.5 971.9) rotate(-90)"><text class="cal" transform="translate(-58.60 2.44) scale(0.72 1)" font-size="40.7">&#x27E8;</text><text class="it" x="-44.40" y="0" font-size="37">N</text><text class="ser" x="-5.85" y="5.2" font-size="43">&#8722;</text><text class="it" x="30.35" y="0" font-size="35">&#951;</text><text class="cal" transform="translate(47.43 2.44) scale(0.72 1)" font-size="40.7">&#x27E9;</text></g>
</svg>
</body></html>
